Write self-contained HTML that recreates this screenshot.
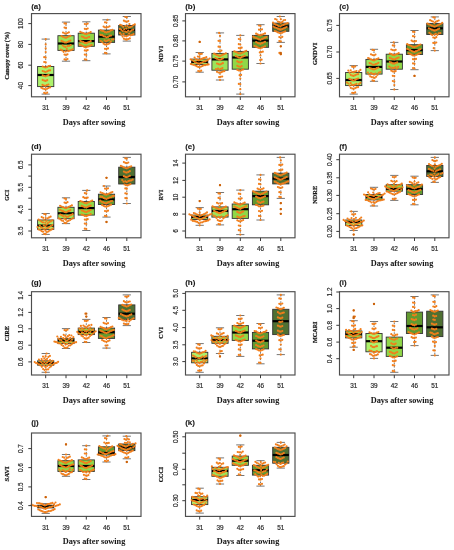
<!DOCTYPE html><html><head><meta charset="utf-8"><style>html,body{margin:0;padding:0;background:#fff;width:454px;height:550px;overflow:hidden}svg{display:block}</style></head><body><div id="w">
<svg width="454" height="550" viewBox="0 0 454 550" style="will-change:transform">
<g><text transform="translate(31.2 8.6) scale(0.1)" text-anchor="start" font-family="Liberation Sans" font-weight="bold" font-size="80" fill="#1a1a1a" stroke="#1a1a1a" stroke-width="1.2">(a)</text><path d="M45.7 66.5V39.1M45.7 86.6V94.1" stroke="#555" stroke-width="0.8" stroke-dasharray="1.6 1.6" fill="none"/><path d="M41.6 39.1H49.8M41.6 94.1H49.8" stroke="#666" stroke-width="0.9" fill="none"/><rect x="37.6" y="66.5" width="16.2" height="20.1" fill="#adf26c" stroke="#333" stroke-width="0.9"/><path d="M37.6 75H53.8" stroke="#000" stroke-width="2.2"/><path d="M66 35.7V22.1M66 50.4V61.2" stroke="#555" stroke-width="0.8" stroke-dasharray="1.6 1.6" fill="none"/><path d="M61.9 22.1H70.1M61.9 61.2H70.1" stroke="#666" stroke-width="0.9" fill="none"/><rect x="57.9" y="35.7" width="16.2" height="14.7" fill="#9ce45a" stroke="#333" stroke-width="0.9"/><path d="M57.9 43.5H74.1" stroke="#000" stroke-width="2.2"/><path d="M86.3 33.2V21.8M86.3 46.3V60.7" stroke="#555" stroke-width="0.8" stroke-dasharray="1.6 1.6" fill="none"/><path d="M82.2 21.8H90.4M82.2 60.7H90.4" stroke="#666" stroke-width="0.9" fill="none"/><rect x="78.2" y="33.2" width="16.2" height="13.1" fill="#90d848" stroke="#333" stroke-width="0.9"/><path d="M78.2 41.1H94.4" stroke="#000" stroke-width="2.2"/><path d="M106.5 30.1V19.8M106.5 42.4V53.9" stroke="#555" stroke-width="0.8" stroke-dasharray="1.6 1.6" fill="none"/><path d="M102.4 19.8H110.6M102.4 53.9H110.6" stroke="#666" stroke-width="0.9" fill="none"/><rect x="98.4" y="30.1" width="16.2" height="12.3" fill="#629a30" stroke="#333" stroke-width="0.9"/><path d="M98.4 36.7H114.6" stroke="#000" stroke-width="2.2"/><path d="M126.8 25.5V16.5M126.8 35V41.1" stroke="#555" stroke-width="0.8" stroke-dasharray="1.6 1.6" fill="none"/><path d="M122.7 16.5H130.9M122.7 41.1H130.9" stroke="#666" stroke-width="0.9" fill="none"/><rect x="118.7" y="25.5" width="16.2" height="9.5" fill="#4f7032" stroke="#333" stroke-width="0.9"/><path d="M118.7 30H134.9" stroke="#000" stroke-width="2.2"/><g fill="#f27e1a"><circle cx="45.7" cy="93.3" r="1.08"/><circle cx="44.2" cy="92.9" r="1.08"/><circle cx="47.2" cy="92.6" r="1.08"/><circle cx="45.7" cy="89.4" r="1.08"/><circle cx="44.2" cy="89" r="1.08"/><circle cx="47.2" cy="88.7" r="1.08"/><circle cx="42.7" cy="88.4" r="1.08"/><circle cx="48.6" cy="88" r="1.08"/><circle cx="41.3" cy="87.7" r="1.08"/><circle cx="50.1" cy="87.3" r="1.08"/><circle cx="45.4" cy="85.8" r="1.08"/><circle cx="43.9" cy="85.5" r="1.08"/><circle cx="46.9" cy="85.2" r="1.08"/><circle cx="42.5" cy="84.8" r="1.08"/><circle cx="48.4" cy="84.5" r="1.08"/><circle cx="45.7" cy="80.9" r="1.08"/><circle cx="44.2" cy="80.6" r="1.08"/><circle cx="47.2" cy="80.2" r="1.08"/><circle cx="42.7" cy="79.9" r="1.08"/><circle cx="45.7" cy="76.3" r="1.08"/><circle cx="44.2" cy="76" r="1.08"/><circle cx="47.2" cy="75.6" r="1.08"/><circle cx="42.7" cy="75.3" r="1.08"/><circle cx="48.6" cy="74.9" r="1.08"/><circle cx="45.7" cy="72" r="1.08"/><circle cx="44.2" cy="71.6" r="1.08"/><circle cx="47.2" cy="71.3" r="1.08"/><circle cx="42.7" cy="71" r="1.08"/><circle cx="48.6" cy="70.6" r="1.08"/><circle cx="50.1" cy="70.3" r="1.08"/><circle cx="45.7" cy="67.5" r="1.08"/><circle cx="44.2" cy="67.1" r="1.08"/><circle cx="47.2" cy="66.8" r="1.08"/><circle cx="42.7" cy="66.5" r="1.08"/><circle cx="48.6" cy="66.1" r="1.08"/><circle cx="50.1" cy="65.8" r="1.08"/><circle cx="45.7" cy="62.4" r="1.08"/><circle cx="44.2" cy="62" r="1.08"/><circle cx="45.7" cy="57.6" r="1.08"/><circle cx="44.2" cy="57.2" r="1.08"/><circle cx="45.7" cy="52.1" r="1.08"/><circle cx="45.7" cy="48.4" r="1.08"/><circle cx="45.7" cy="44.4" r="1.08"/><circle cx="45.7" cy="39.1" r="1.08"/><circle cx="66" cy="59.7" r="1.08"/><circle cx="64.5" cy="59.4" r="1.08"/><circle cx="67.5" cy="59" r="1.08"/><circle cx="66" cy="55" r="1.08"/><circle cx="64.5" cy="54.6" r="1.08"/><circle cx="67.5" cy="54.3" r="1.08"/><circle cx="63.6" cy="51.8" r="1.08"/><circle cx="65.7" cy="51.4" r="1.08"/><circle cx="68.1" cy="51.1" r="1.08"/><circle cx="69.6" cy="50.7" r="1.08"/><circle cx="62.2" cy="50.4" r="1.08"/><circle cx="71.1" cy="50.1" r="1.08"/><circle cx="60.7" cy="49.7" r="1.08"/><circle cx="72.6" cy="49.4" r="1.08"/><circle cx="66.8" cy="49" r="1.08"/><circle cx="65.6" cy="46.9" r="1.08"/><circle cx="64.1" cy="46.5" r="1.08"/><circle cx="67.7" cy="46.2" r="1.08"/><circle cx="69.2" cy="45.8" r="1.08"/><circle cx="62.7" cy="45.5" r="1.08"/><circle cx="70.7" cy="45.2" r="1.08"/><circle cx="66" cy="42.6" r="1.08"/><circle cx="64.5" cy="42.3" r="1.08"/><circle cx="67.5" cy="42" r="1.08"/><circle cx="63" cy="41.6" r="1.08"/><circle cx="68.9" cy="41.3" r="1.08"/><circle cx="61.5" cy="40.9" r="1.08"/><circle cx="70.4" cy="40.6" r="1.08"/><circle cx="66" cy="37.8" r="1.08"/><circle cx="64.5" cy="37.5" r="1.08"/><circle cx="67.5" cy="37.1" r="1.08"/><circle cx="63" cy="36.8" r="1.08"/><circle cx="68.9" cy="36.4" r="1.08"/><circle cx="61.5" cy="36.1" r="1.08"/><circle cx="70.4" cy="35.8" r="1.08"/><circle cx="66" cy="33.6" r="1.08"/><circle cx="64.5" cy="33.3" r="1.08"/><circle cx="67.5" cy="33" r="1.08"/><circle cx="63" cy="32.6" r="1.08"/><circle cx="68.9" cy="32.3" r="1.08"/><circle cx="66" cy="27.9" r="1.08"/><circle cx="64.5" cy="27.6" r="1.08"/><circle cx="66" cy="23.7" r="1.08"/><circle cx="64.5" cy="23.4" r="1.08"/><circle cx="86.3" cy="59.7" r="1.08"/><circle cx="84.8" cy="59.3" r="1.08"/><circle cx="86.3" cy="55" r="1.08"/><circle cx="84.8" cy="54.6" r="1.08"/><circle cx="86.3" cy="50.8" r="1.08"/><circle cx="84.8" cy="50.4" r="1.08"/><circle cx="87.7" cy="50.1" r="1.08"/><circle cx="85.8" cy="47.4" r="1.08"/><circle cx="84.3" cy="47" r="1.08"/><circle cx="87.2" cy="46.7" r="1.08"/><circle cx="88.7" cy="46.4" r="1.08"/><circle cx="82.8" cy="46" r="1.08"/><circle cx="90.2" cy="45.7" r="1.08"/><circle cx="81.3" cy="45.3" r="1.08"/><circle cx="91.7" cy="45" r="1.08"/><circle cx="79.9" cy="44.7" r="1.08"/><circle cx="86.3" cy="43.2" r="1.08"/><circle cx="84.8" cy="42.9" r="1.08"/><circle cx="87.7" cy="42.6" r="1.08"/><circle cx="83.3" cy="42.2" r="1.08"/><circle cx="89.2" cy="41.9" r="1.08"/><circle cx="81.8" cy="41.5" r="1.08"/><circle cx="90.7" cy="41.2" r="1.08"/><circle cx="80.3" cy="40.9" r="1.08"/><circle cx="86.3" cy="38.2" r="1.08"/><circle cx="84.8" cy="37.9" r="1.08"/><circle cx="87.7" cy="37.5" r="1.08"/><circle cx="83.3" cy="37.2" r="1.08"/><circle cx="89.2" cy="36.9" r="1.08"/><circle cx="81.8" cy="36.5" r="1.08"/><circle cx="86.3" cy="34.2" r="1.08"/><circle cx="84.8" cy="33.8" r="1.08"/><circle cx="87.7" cy="33.5" r="1.08"/><circle cx="83.3" cy="33.1" r="1.08"/><circle cx="89.2" cy="32.8" r="1.08"/><circle cx="81.8" cy="32.5" r="1.08"/><circle cx="90.7" cy="32.1" r="1.08"/><circle cx="80.3" cy="31.8" r="1.08"/><circle cx="86.3" cy="29.2" r="1.08"/><circle cx="84.8" cy="28.8" r="1.08"/><circle cx="87.7" cy="28.5" r="1.08"/><circle cx="86.3" cy="24.3" r="1.08"/><circle cx="84.8" cy="24" r="1.08"/><circle cx="87.7" cy="23.6" r="1.08"/><circle cx="106.5" cy="53.3" r="1.08"/><circle cx="105" cy="52.9" r="1.08"/><circle cx="106.5" cy="49.1" r="1.08"/><circle cx="105" cy="48.8" r="1.08"/><circle cx="108" cy="48.4" r="1.08"/><circle cx="106.5" cy="44.7" r="1.08"/><circle cx="105" cy="44.4" r="1.08"/><circle cx="108" cy="44" r="1.08"/><circle cx="103.6" cy="43.7" r="1.08"/><circle cx="109.5" cy="43.4" r="1.08"/><circle cx="102.2" cy="42" r="1.08"/><circle cx="110.8" cy="41.7" r="1.08"/><circle cx="106" cy="41.3" r="1.08"/><circle cx="100.8" cy="41" r="1.08"/><circle cx="107.5" cy="40.6" r="1.08"/><circle cx="104.6" cy="40.3" r="1.08"/><circle cx="109" cy="40" r="1.08"/><circle cx="112" cy="39.6" r="1.08"/><circle cx="113.5" cy="39.3" r="1.08"/><circle cx="106.5" cy="37.3" r="1.08"/><circle cx="108" cy="36.9" r="1.08"/><circle cx="105.1" cy="36.6" r="1.08"/><circle cx="103.6" cy="36.2" r="1.08"/><circle cx="109.5" cy="35.9" r="1.08"/><circle cx="111" cy="35.6" r="1.08"/><circle cx="102.1" cy="35.2" r="1.08"/><circle cx="100.6" cy="34.9" r="1.08"/><circle cx="106.5" cy="32.5" r="1.08"/><circle cx="105" cy="32.1" r="1.08"/><circle cx="108" cy="31.8" r="1.08"/><circle cx="109.5" cy="31.5" r="1.08"/><circle cx="103.6" cy="31.1" r="1.08"/><circle cx="102.1" cy="30.8" r="1.08"/><circle cx="110.9" cy="30.4" r="1.08"/><circle cx="100.6" cy="30.1" r="1.08"/><circle cx="112.4" cy="29.8" r="1.08"/><circle cx="106.5" cy="27.6" r="1.08"/><circle cx="105" cy="27.3" r="1.08"/><circle cx="108" cy="27" r="1.08"/><circle cx="103.6" cy="26.6" r="1.08"/><circle cx="109.5" cy="26.3" r="1.08"/><circle cx="106.5" cy="22.6" r="1.08"/><circle cx="105" cy="22.3" r="1.08"/><circle cx="107.5" cy="19.8" r="1.08"/><circle cx="126.8" cy="39.7" r="1.08"/><circle cx="125.3" cy="39.4" r="1.08"/><circle cx="128.3" cy="39" r="1.08"/><circle cx="123.9" cy="38.7" r="1.08"/><circle cx="129.8" cy="38.4" r="1.08"/><circle cx="122.6" cy="36.6" r="1.08"/><circle cx="126.4" cy="36.3" r="1.08"/><circle cx="124.9" cy="35.9" r="1.08"/><circle cx="127.9" cy="35.6" r="1.08"/><circle cx="130.5" cy="35.3" r="1.08"/><circle cx="132" cy="34.9" r="1.08"/><circle cx="121.4" cy="34.6" r="1.08"/><circle cx="133.5" cy="34.2" r="1.08"/><circle cx="123.6" cy="33.9" r="1.08"/><circle cx="129.1" cy="33.6" r="1.08"/><circle cx="120" cy="33.2" r="1.08"/><circle cx="126.8" cy="32" r="1.08"/><circle cx="125.3" cy="31.6" r="1.08"/><circle cx="130.3" cy="31.3" r="1.08"/><circle cx="122.8" cy="31" r="1.08"/><circle cx="128.2" cy="30.6" r="1.08"/><circle cx="131.7" cy="30.3" r="1.08"/><circle cx="121.3" cy="29.9" r="1.08"/><circle cx="133.2" cy="29.6" r="1.08"/><circle cx="124.2" cy="29.3" r="1.08"/><circle cx="119.9" cy="28.9" r="1.08"/><circle cx="126.3" cy="28.6" r="1.08"/><circle cx="128.9" cy="27.5" r="1.08"/><circle cx="130.4" cy="27.1" r="1.08"/><circle cx="123.1" cy="26.8" r="1.08"/><circle cx="131.9" cy="26.5" r="1.08"/><circle cx="127.4" cy="26.1" r="1.08"/><circle cx="125.4" cy="25.8" r="1.08"/><circle cx="121.7" cy="25.4" r="1.08"/><circle cx="133.3" cy="25.1" r="1.08"/><circle cx="120.2" cy="24.8" r="1.08"/><circle cx="134.8" cy="24.4" r="1.08"/><circle cx="129.4" cy="24.1" r="1.08"/><circle cx="126.8" cy="21.8" r="1.08"/><circle cx="125.3" cy="21.4" r="1.08"/><circle cx="128.3" cy="21.1" r="1.08"/><circle cx="123.9" cy="20.7" r="1.08"/><circle cx="126.8" cy="17.3" r="1.08"/><circle cx="125.3" cy="17" r="1.08"/></g><g fill="#c8620c"></g><rect x="31.5" y="13.6" width="109.5" height="83.2" fill="none" stroke="#4d4d4d" stroke-width="1.15"/><path d="M45.7 96.8v3.2M66 96.8v3.2M86.3 96.8v3.2M106.5 96.8v3.2M126.8 96.8v3.2M31.5 85.6h-3.2M31.5 65.2h-3.2M31.5 44.4h-3.2M31.5 23.6h-3.2" stroke="#3a3a3a" stroke-width="1" fill="none"/><text transform="translate(45.7 110.1) scale(0.1)" text-anchor="middle" font-family="Liberation Sans" font-weight="normal" font-size="64" fill="#2a2a2a" stroke="#2a2a2a" stroke-width="1.8">31</text><text transform="translate(66 110.1) scale(0.1)" text-anchor="middle" font-family="Liberation Sans" font-weight="normal" font-size="64" fill="#2a2a2a" stroke="#2a2a2a" stroke-width="1.8">39</text><text transform="translate(86.3 110.1) scale(0.1)" text-anchor="middle" font-family="Liberation Sans" font-weight="normal" font-size="64" fill="#2a2a2a" stroke="#2a2a2a" stroke-width="1.8">42</text><text transform="translate(106.5 110.1) scale(0.1)" text-anchor="middle" font-family="Liberation Sans" font-weight="normal" font-size="64" fill="#2a2a2a" stroke="#2a2a2a" stroke-width="1.8">46</text><text transform="translate(126.8 110.1) scale(0.1)" text-anchor="middle" font-family="Liberation Sans" font-weight="normal" font-size="64" fill="#2a2a2a" stroke="#2a2a2a" stroke-width="1.8">51</text><text transform="translate(23.2 85.6) rotate(-90) scale(0.1)" text-anchor="middle" font-family="Liberation Sans" font-weight="normal" font-size="64" fill="#2a2a2a" stroke="#2a2a2a" stroke-width="1.8">40</text><text transform="translate(23.2 65.2) rotate(-90) scale(0.1)" text-anchor="middle" font-family="Liberation Sans" font-weight="normal" font-size="64" fill="#2a2a2a" stroke="#2a2a2a" stroke-width="1.8">60</text><text transform="translate(23.2 44.4) rotate(-90) scale(0.1)" text-anchor="middle" font-family="Liberation Sans" font-weight="normal" font-size="64" fill="#2a2a2a" stroke="#2a2a2a" stroke-width="1.8">80</text><text transform="translate(23.2 23.6) rotate(-90) scale(0.1)" text-anchor="middle" font-family="Liberation Sans" font-weight="normal" font-size="64" fill="#2a2a2a" stroke="#2a2a2a" stroke-width="1.8">100</text><text transform="translate(94 124.8) scale(0.1)" text-anchor="middle" font-family="Liberation Serif" font-weight="bold" font-size="82.5" fill="#1a1a1a" stroke="#1a1a1a" stroke-width="0.4">Days after sowing</text><text transform="translate(8.9 55.8) rotate(-90) scale(0.1)" text-anchor="middle" font-family="Liberation Serif" font-weight="bold" font-size="61" fill="#1a1a1a" stroke="#1a1a1a" stroke-width="2.2">Canopy cover (%)</text></g>
<g><text transform="translate(185.2 8.6) scale(0.1)" text-anchor="start" font-family="Liberation Sans" font-weight="bold" font-size="80" fill="#1a1a1a" stroke="#1a1a1a" stroke-width="1.2">(b)</text><path d="M199.7 59.1V52.5M199.7 64.5V72.2" stroke="#555" stroke-width="0.8" stroke-dasharray="1.6 1.6" fill="none"/><path d="M195.6 52.5H203.8M195.6 72.2H203.8" stroke="#666" stroke-width="0.9" fill="none"/><rect x="191.6" y="59.1" width="16.2" height="5.4" fill="#adf26c" stroke="#333" stroke-width="0.9"/><path d="M191.6 62H207.8" stroke="#000" stroke-width="2.2"/><path d="M220 53.4V32.9M220 70.2V80" stroke="#555" stroke-width="0.8" stroke-dasharray="1.6 1.6" fill="none"/><path d="M215.9 32.9H224.1M215.9 80H224.1" stroke="#666" stroke-width="0.9" fill="none"/><rect x="211.9" y="53.4" width="16.2" height="16.8" fill="#9ce45a" stroke="#333" stroke-width="0.9"/><path d="M211.9 59.4H228.1" stroke="#000" stroke-width="2.2"/><path d="M240.3 51.4V35.4M240.3 69.2V94.1" stroke="#555" stroke-width="0.8" stroke-dasharray="1.6 1.6" fill="none"/><path d="M236.2 35.4H244.4M236.2 94.1H244.4" stroke="#666" stroke-width="0.9" fill="none"/><rect x="232.2" y="51.4" width="16.2" height="17.8" fill="#90d848" stroke="#333" stroke-width="0.9"/><path d="M232.2 57.5H248.4" stroke="#000" stroke-width="2.2"/><path d="M260.5 35.4V24.7M260.5 47.3V63.5" stroke="#555" stroke-width="0.8" stroke-dasharray="1.6 1.6" fill="none"/><path d="M256.4 24.7H264.6M256.4 63.5H264.6" stroke="#666" stroke-width="0.9" fill="none"/><rect x="252.4" y="35.4" width="16.2" height="11.9" fill="#629a30" stroke="#333" stroke-width="0.9"/><path d="M252.4 40.6H268.6" stroke="#000" stroke-width="2.2"/><path d="M280.8 23.1V16.5M280.8 31.3V42.4" stroke="#555" stroke-width="0.8" stroke-dasharray="1.6 1.6" fill="none"/><path d="M276.7 16.5H284.9M276.7 42.4H284.9" stroke="#666" stroke-width="0.9" fill="none"/><rect x="272.7" y="23.1" width="16.2" height="8.2" fill="#4f7032" stroke="#333" stroke-width="0.9"/><path d="M272.7 26.4H288.9" stroke="#000" stroke-width="2.2"/><g fill="#f27e1a"><circle cx="199.7" cy="71.4" r="1.08"/><circle cx="198.2" cy="71" r="1.08"/><circle cx="201.2" cy="70.7" r="1.08"/><circle cx="199.7" cy="67.2" r="1.08"/><circle cx="198.2" cy="66.9" r="1.08"/><circle cx="201.2" cy="66.5" r="1.08"/><circle cx="196.7" cy="66.2" r="1.08"/><circle cx="202.6" cy="65.9" r="1.08"/><circle cx="195.3" cy="65.5" r="1.08"/><circle cx="204.1" cy="65.2" r="1.08"/><circle cx="193.8" cy="64.8" r="1.08"/><circle cx="192.3" cy="64.5" r="1.08"/><circle cx="205.6" cy="65.1" r="1.08"/><circle cx="207.1" cy="64.7" r="1.08"/><circle cx="208.6" cy="64.4" r="1.08"/><circle cx="190.8" cy="64" r="1.08"/><circle cx="199.4" cy="63.7" r="1.08"/><circle cx="197.9" cy="63.4" r="1.08"/><circle cx="200.8" cy="63" r="1.08"/><circle cx="196.4" cy="62.7" r="1.08"/><circle cx="202.3" cy="62.3" r="1.08"/><circle cx="194.9" cy="62" r="1.08"/><circle cx="203.8" cy="61.7" r="1.08"/><circle cx="205.3" cy="61.3" r="1.08"/><circle cx="193.5" cy="61" r="1.08"/><circle cx="206.8" cy="60.6" r="1.08"/><circle cx="198.9" cy="60.3" r="1.08"/><circle cx="192.1" cy="60" r="1.08"/><circle cx="200.4" cy="59.6" r="1.08"/><circle cx="190.6" cy="59.3" r="1.08"/><circle cx="197.4" cy="59.9" r="1.08"/><circle cx="208.2" cy="59.6" r="1.08"/><circle cx="195.9" cy="59.3" r="1.08"/><circle cx="201.8" cy="58.9" r="1.08"/><circle cx="209.6" cy="58.6" r="1.08"/><circle cx="203.3" cy="58.2" r="1.08"/><circle cx="204.8" cy="57.9" r="1.08"/><circle cx="194.6" cy="57.6" r="1.08"/><circle cx="206.3" cy="57.2" r="1.08"/><circle cx="199.4" cy="56.9" r="1.08"/><circle cx="197.9" cy="56.5" r="1.08"/><circle cx="200.3" cy="54.1" r="1.08"/><circle cx="201.8" cy="53.8" r="1.08"/><circle cx="198.9" cy="53.4" r="1.08"/><circle cx="199.7" cy="41.9" r="1.08"/><circle cx="220" cy="80" r="1.08"/><circle cx="219.1" cy="77.1" r="1.08"/><circle cx="220.7" cy="76.8" r="1.08"/><circle cx="222.2" cy="76.5" r="1.08"/><circle cx="220" cy="72.8" r="1.08"/><circle cx="218.5" cy="72.5" r="1.08"/><circle cx="221.5" cy="72.2" r="1.08"/><circle cx="217" cy="71.8" r="1.08"/><circle cx="222.9" cy="71.5" r="1.08"/><circle cx="224.4" cy="71.1" r="1.08"/><circle cx="219.4" cy="69.5" r="1.08"/><circle cx="216" cy="69.2" r="1.08"/><circle cx="220.9" cy="68.8" r="1.08"/><circle cx="218" cy="68.5" r="1.08"/><circle cx="222.4" cy="68.1" r="1.08"/><circle cx="220" cy="64.5" r="1.08"/><circle cx="218.5" cy="64.2" r="1.08"/><circle cx="221.5" cy="63.8" r="1.08"/><circle cx="217" cy="63.5" r="1.08"/><circle cx="222.9" cy="63.2" r="1.08"/><circle cx="220" cy="59.8" r="1.08"/><circle cx="218.5" cy="59.5" r="1.08"/><circle cx="221.5" cy="59.2" r="1.08"/><circle cx="217" cy="58.8" r="1.08"/><circle cx="222.9" cy="58.5" r="1.08"/><circle cx="215.5" cy="58.1" r="1.08"/><circle cx="220" cy="56.1" r="1.08"/><circle cx="218.5" cy="55.7" r="1.08"/><circle cx="221.5" cy="55.4" r="1.08"/><circle cx="217" cy="55" r="1.08"/><circle cx="222.9" cy="54.7" r="1.08"/><circle cx="215.5" cy="54.4" r="1.08"/><circle cx="224.4" cy="54" r="1.08"/><circle cx="214.1" cy="53.7" r="1.08"/><circle cx="225.9" cy="53.3" r="1.08"/><circle cx="220" cy="51.3" r="1.08"/><circle cx="218.5" cy="51" r="1.08"/><circle cx="221.5" cy="50.6" r="1.08"/><circle cx="220" cy="47" r="1.08"/><circle cx="218.5" cy="46.7" r="1.08"/><circle cx="220" cy="41.1" r="1.08"/><circle cx="218.5" cy="40.8" r="1.08"/><circle cx="220" cy="35.8" r="1.08"/><circle cx="219.1" cy="32.9" r="1.08"/><circle cx="240.3" cy="94.1" r="1.08"/><circle cx="240.3" cy="89.2" r="1.08"/><circle cx="240.3" cy="84.2" r="1.08"/><circle cx="238.8" cy="83.9" r="1.08"/><circle cx="240.3" cy="78.5" r="1.08"/><circle cx="239.6" cy="75.2" r="1.08"/><circle cx="241.1" cy="74.9" r="1.08"/><circle cx="240.3" cy="70.8" r="1.08"/><circle cx="238.8" cy="70.5" r="1.08"/><circle cx="241.7" cy="70.1" r="1.08"/><circle cx="237.3" cy="69.8" r="1.08"/><circle cx="243.2" cy="69.4" r="1.08"/><circle cx="240.3" cy="66.8" r="1.08"/><circle cx="238.8" cy="66.5" r="1.08"/><circle cx="241.7" cy="66.1" r="1.08"/><circle cx="237.3" cy="65.8" r="1.08"/><circle cx="240.3" cy="62.5" r="1.08"/><circle cx="238.8" cy="62.1" r="1.08"/><circle cx="241.7" cy="61.8" r="1.08"/><circle cx="237.3" cy="61.4" r="1.08"/><circle cx="240.3" cy="57.9" r="1.08"/><circle cx="238.8" cy="57.5" r="1.08"/><circle cx="241.7" cy="57.2" r="1.08"/><circle cx="237.3" cy="56.8" r="1.08"/><circle cx="243.2" cy="56.5" r="1.08"/><circle cx="235.8" cy="56.2" r="1.08"/><circle cx="244.7" cy="55.8" r="1.08"/><circle cx="240.3" cy="53.6" r="1.08"/><circle cx="238.8" cy="53.3" r="1.08"/><circle cx="241.7" cy="53" r="1.08"/><circle cx="237.3" cy="52.6" r="1.08"/><circle cx="243.2" cy="52.3" r="1.08"/><circle cx="235.8" cy="51.9" r="1.08"/><circle cx="244.7" cy="51.6" r="1.08"/><circle cx="234.3" cy="51.3" r="1.08"/><circle cx="246.2" cy="50.9" r="1.08"/><circle cx="240.3" cy="48.4" r="1.08"/><circle cx="238.8" cy="48" r="1.08"/><circle cx="241.7" cy="47.7" r="1.08"/><circle cx="240.3" cy="44.6" r="1.08"/><circle cx="238.8" cy="44.2" r="1.08"/><circle cx="240.3" cy="39.4" r="1.08"/><circle cx="238.8" cy="39" r="1.08"/><circle cx="240.3" cy="35.4" r="1.08"/><circle cx="260.5" cy="63.5" r="1.08"/><circle cx="260.1" cy="60.1" r="1.08"/><circle cx="261.6" cy="59.7" r="1.08"/><circle cx="260.5" cy="55.5" r="1.08"/><circle cx="259.8" cy="52.4" r="1.08"/><circle cx="261.3" cy="52.1" r="1.08"/><circle cx="262.8" cy="51.7" r="1.08"/><circle cx="260.5" cy="48.4" r="1.08"/><circle cx="259" cy="48" r="1.08"/><circle cx="262" cy="47.7" r="1.08"/><circle cx="257.6" cy="47.4" r="1.08"/><circle cx="263.5" cy="47" r="1.08"/><circle cx="256.1" cy="46.7" r="1.08"/><circle cx="265" cy="46.3" r="1.08"/><circle cx="254.6" cy="46" r="1.08"/><circle cx="260.5" cy="43.8" r="1.08"/><circle cx="259" cy="43.5" r="1.08"/><circle cx="262" cy="43.2" r="1.08"/><circle cx="257.6" cy="42.8" r="1.08"/><circle cx="263.5" cy="42.5" r="1.08"/><circle cx="256.1" cy="42.1" r="1.08"/><circle cx="265" cy="41.8" r="1.08"/><circle cx="260.5" cy="39.8" r="1.08"/><circle cx="259" cy="39.4" r="1.08"/><circle cx="262" cy="39.1" r="1.08"/><circle cx="257.6" cy="38.7" r="1.08"/><circle cx="263.5" cy="38.4" r="1.08"/><circle cx="256.1" cy="38.1" r="1.08"/><circle cx="265" cy="37.7" r="1.08"/><circle cx="254.6" cy="37.4" r="1.08"/><circle cx="266.4" cy="37" r="1.08"/><circle cx="253.2" cy="36.7" r="1.08"/><circle cx="260.5" cy="35.4" r="1.08"/><circle cx="259" cy="35.1" r="1.08"/><circle cx="262" cy="34.7" r="1.08"/><circle cx="257.6" cy="34.4" r="1.08"/><circle cx="263.5" cy="34" r="1.08"/><circle cx="256.1" cy="33.7" r="1.08"/><circle cx="265" cy="33.4" r="1.08"/><circle cx="260.5" cy="30" r="1.08"/><circle cx="259" cy="29.7" r="1.08"/><circle cx="262" cy="29.3" r="1.08"/><circle cx="260.5" cy="25.9" r="1.08"/><circle cx="259" cy="25.5" r="1.08"/><circle cx="280.8" cy="41.4" r="1.08"/><circle cx="279.3" cy="41.1" r="1.08"/><circle cx="280.8" cy="37.5" r="1.08"/><circle cx="279.3" cy="37.1" r="1.08"/><circle cx="282.3" cy="36.8" r="1.08"/><circle cx="280.8" cy="33.3" r="1.08"/><circle cx="279.3" cy="33" r="1.08"/><circle cx="282.3" cy="32.7" r="1.08"/><circle cx="277.9" cy="32.3" r="1.08"/><circle cx="283.8" cy="32" r="1.08"/><circle cx="276.4" cy="31.6" r="1.08"/><circle cx="285.2" cy="31.3" r="1.08"/><circle cx="274.9" cy="31" r="1.08"/><circle cx="280.8" cy="29.7" r="1.08"/><circle cx="279.3" cy="29.4" r="1.08"/><circle cx="282.3" cy="29.1" r="1.08"/><circle cx="277.9" cy="28.7" r="1.08"/><circle cx="283.8" cy="28.4" r="1.08"/><circle cx="276.4" cy="28" r="1.08"/><circle cx="285.2" cy="27.7" r="1.08"/><circle cx="274.9" cy="27.4" r="1.08"/><circle cx="286.7" cy="27" r="1.08"/><circle cx="273.4" cy="26.7" r="1.08"/><circle cx="280.3" cy="26.3" r="1.08"/><circle cx="278.8" cy="26" r="1.08"/><circle cx="281.8" cy="25.6" r="1.08"/><circle cx="277.4" cy="25.3" r="1.08"/><circle cx="283.3" cy="24.9" r="1.08"/><circle cx="275.9" cy="24.6" r="1.08"/><circle cx="284.7" cy="24.3" r="1.08"/><circle cx="274.4" cy="23.9" r="1.08"/><circle cx="286.2" cy="23.6" r="1.08"/><circle cx="287.7" cy="23.2" r="1.08"/><circle cx="280.8" cy="22.9" r="1.08"/><circle cx="273" cy="22.6" r="1.08"/><circle cx="279.3" cy="22.2" r="1.08"/><circle cx="282.3" cy="21.9" r="1.08"/><circle cx="277.9" cy="21.5" r="1.08"/><circle cx="283.6" cy="20.3" r="1.08"/><circle cx="285.1" cy="20" r="1.08"/><circle cx="276.6" cy="19.6" r="1.08"/><circle cx="280.8" cy="19.3" r="1.08"/><circle cx="275.1" cy="19" r="1.08"/><circle cx="279.9" cy="16.5" r="1.08"/><circle cx="280.8" cy="46.3" r="1.08"/><circle cx="279.4" cy="52.9" r="1.08"/><circle cx="280.8" cy="54.2" r="1.08"/></g><g fill="#c8620c"><circle cx="199.7" cy="41.9" r="1.15"/><circle cx="280.8" cy="46.3" r="1.15"/><circle cx="280.8" cy="52.9" r="1.15"/><circle cx="280.8" cy="54.2" r="1.15"/></g><rect x="185.5" y="13.6" width="109.5" height="83.2" fill="none" stroke="#4d4d4d" stroke-width="1.15"/><path d="M199.7 96.8v3.2M220 96.8v3.2M240.3 96.8v3.2M260.5 96.8v3.2M280.8 96.8v3.2M185.5 81.9h-3.2M185.5 61.1h-3.2M185.5 40.9h-3.2M185.5 20.9h-3.2" stroke="#3a3a3a" stroke-width="1" fill="none"/><text transform="translate(199.7 110.1) scale(0.1)" text-anchor="middle" font-family="Liberation Sans" font-weight="normal" font-size="64" fill="#2a2a2a" stroke="#2a2a2a" stroke-width="1.8">31</text><text transform="translate(220 110.1) scale(0.1)" text-anchor="middle" font-family="Liberation Sans" font-weight="normal" font-size="64" fill="#2a2a2a" stroke="#2a2a2a" stroke-width="1.8">39</text><text transform="translate(240.3 110.1) scale(0.1)" text-anchor="middle" font-family="Liberation Sans" font-weight="normal" font-size="64" fill="#2a2a2a" stroke="#2a2a2a" stroke-width="1.8">42</text><text transform="translate(260.5 110.1) scale(0.1)" text-anchor="middle" font-family="Liberation Sans" font-weight="normal" font-size="64" fill="#2a2a2a" stroke="#2a2a2a" stroke-width="1.8">46</text><text transform="translate(280.8 110.1) scale(0.1)" text-anchor="middle" font-family="Liberation Sans" font-weight="normal" font-size="64" fill="#2a2a2a" stroke="#2a2a2a" stroke-width="1.8">51</text><text transform="translate(178 81.9) rotate(-90) scale(0.1)" text-anchor="middle" font-family="Liberation Sans" font-weight="normal" font-size="64" fill="#2a2a2a" stroke="#2a2a2a" stroke-width="1.8">0.70</text><text transform="translate(178 61.1) rotate(-90) scale(0.1)" text-anchor="middle" font-family="Liberation Sans" font-weight="normal" font-size="64" fill="#2a2a2a" stroke="#2a2a2a" stroke-width="1.8">0.75</text><text transform="translate(178 40.9) rotate(-90) scale(0.1)" text-anchor="middle" font-family="Liberation Sans" font-weight="normal" font-size="64" fill="#2a2a2a" stroke="#2a2a2a" stroke-width="1.8">0.80</text><text transform="translate(178 20.9) rotate(-90) scale(0.1)" text-anchor="middle" font-family="Liberation Sans" font-weight="normal" font-size="64" fill="#2a2a2a" stroke="#2a2a2a" stroke-width="1.8">0.85</text><text transform="translate(248 124.8) scale(0.1)" text-anchor="middle" font-family="Liberation Serif" font-weight="bold" font-size="82.5" fill="#1a1a1a" stroke="#1a1a1a" stroke-width="0.4">Days after sowing</text><text transform="translate(162.8 53.9) rotate(-90) scale(0.0915 0.1)" text-anchor="middle" font-family="Liberation Serif" font-weight="bold" font-size="69" fill="#1a1a1a" stroke="#1a1a1a" stroke-width="2.2">NDVI</text></g>
<g><text transform="translate(339.2 8.6) scale(0.1)" text-anchor="start" font-family="Liberation Sans" font-weight="bold" font-size="80" fill="#1a1a1a" stroke="#1a1a1a" stroke-width="1.2">(c)</text><path d="M353.7 72.5V65.6M353.7 85.6V94.1" stroke="#555" stroke-width="0.8" stroke-dasharray="1.6 1.6" fill="none"/><path d="M349.6 65.6H357.8M349.6 94.1H357.8" stroke="#666" stroke-width="0.9" fill="none"/><rect x="345.6" y="72.5" width="16.2" height="13.1" fill="#adf26c" stroke="#333" stroke-width="0.9"/><path d="M345.6 80H361.8" stroke="#000" stroke-width="2.2"/><path d="M374 59.4V49.3M374 74.1V81.3" stroke="#555" stroke-width="0.8" stroke-dasharray="1.6 1.6" fill="none"/><path d="M369.9 49.3H378.1M369.9 81.3H378.1" stroke="#666" stroke-width="0.9" fill="none"/><rect x="365.9" y="59.4" width="16.2" height="14.7" fill="#9ce45a" stroke="#333" stroke-width="0.9"/><path d="M365.9 66.9H382.1" stroke="#000" stroke-width="2.2"/><path d="M394.3 54.2V42.4M394.3 69.2V89.5" stroke="#555" stroke-width="0.8" stroke-dasharray="1.6 1.6" fill="none"/><path d="M390.2 42.4H398.4M390.2 89.5H398.4" stroke="#666" stroke-width="0.9" fill="none"/><rect x="386.2" y="54.2" width="16.2" height="15" fill="#90d848" stroke="#333" stroke-width="0.9"/><path d="M386.2 61.5H402.4" stroke="#000" stroke-width="2.2"/><path d="M414.5 44.7V30.5M414.5 54.5V69.7" stroke="#555" stroke-width="0.8" stroke-dasharray="1.6 1.6" fill="none"/><path d="M410.4 30.5H418.6M410.4 69.7H418.6" stroke="#666" stroke-width="0.9" fill="none"/><rect x="406.4" y="44.7" width="16.2" height="9.8" fill="#629a30" stroke="#333" stroke-width="0.9"/><path d="M406.4 50.1H422.6" stroke="#000" stroke-width="2.2"/><path d="M434.8 23.4V16.9M434.8 34.5V50.6" stroke="#555" stroke-width="0.8" stroke-dasharray="1.6 1.6" fill="none"/><path d="M430.7 16.9H438.9M430.7 50.6H438.9" stroke="#666" stroke-width="0.9" fill="none"/><rect x="426.7" y="23.4" width="16.2" height="11.1" fill="#4f7032" stroke="#333" stroke-width="0.9"/><path d="M426.7 28.3H442.9" stroke="#000" stroke-width="2.2"/><g fill="#f27e1a"><circle cx="353.7" cy="93.1" r="1.08"/><circle cx="352.2" cy="92.8" r="1.08"/><circle cx="355.2" cy="92.4" r="1.08"/><circle cx="353.7" cy="88.8" r="1.08"/><circle cx="352.2" cy="88.5" r="1.08"/><circle cx="355.2" cy="88.1" r="1.08"/><circle cx="350.7" cy="87.8" r="1.08"/><circle cx="356.6" cy="87.4" r="1.08"/><circle cx="358.1" cy="87.1" r="1.08"/><circle cx="349.6" cy="85.6" r="1.08"/><circle cx="353.5" cy="85.2" r="1.08"/><circle cx="352" cy="84.9" r="1.08"/><circle cx="355" cy="84.5" r="1.08"/><circle cx="359" cy="84.2" r="1.08"/><circle cx="356.5" cy="83.9" r="1.08"/><circle cx="348.3" cy="83.5" r="1.08"/><circle cx="350.7" cy="83.2" r="1.08"/><circle cx="360.4" cy="82.8" r="1.08"/><circle cx="346.9" cy="82.5" r="1.08"/><circle cx="353.7" cy="80.5" r="1.08"/><circle cx="352.2" cy="80.2" r="1.08"/><circle cx="355.2" cy="79.9" r="1.08"/><circle cx="350.7" cy="79.5" r="1.08"/><circle cx="356.6" cy="79.2" r="1.08"/><circle cx="349.3" cy="78.8" r="1.08"/><circle cx="358.1" cy="78.5" r="1.08"/><circle cx="353.7" cy="75.9" r="1.08"/><circle cx="352.2" cy="75.6" r="1.08"/><circle cx="355.2" cy="75.2" r="1.08"/><circle cx="350.7" cy="74.9" r="1.08"/><circle cx="356.6" cy="74.5" r="1.08"/><circle cx="358.1" cy="74.2" r="1.08"/><circle cx="349.6" cy="72.7" r="1.08"/><circle cx="353.6" cy="72.3" r="1.08"/><circle cx="352.1" cy="72" r="1.08"/><circle cx="355" cy="71.6" r="1.08"/><circle cx="359" cy="71.3" r="1.08"/><circle cx="356.5" cy="71" r="1.08"/><circle cx="348.3" cy="70.6" r="1.08"/><circle cx="350.7" cy="70.3" r="1.08"/><circle cx="360.4" cy="69.9" r="1.08"/><circle cx="353.7" cy="67.1" r="1.08"/><circle cx="352.2" cy="66.7" r="1.08"/><circle cx="355.2" cy="66.4" r="1.08"/><circle cx="374" cy="80.8" r="1.08"/><circle cx="372.5" cy="80.4" r="1.08"/><circle cx="374.8" cy="77.8" r="1.08"/><circle cx="373.3" cy="77.4" r="1.08"/><circle cx="371.8" cy="77.1" r="1.08"/><circle cx="376.2" cy="76.7" r="1.08"/><circle cx="370.3" cy="76.4" r="1.08"/><circle cx="377.5" cy="74.8" r="1.08"/><circle cx="369.1" cy="74.5" r="1.08"/><circle cx="374" cy="74.2" r="1.08"/><circle cx="372.5" cy="73.8" r="1.08"/><circle cx="375.5" cy="73.5" r="1.08"/><circle cx="371" cy="73.1" r="1.08"/><circle cx="378.7" cy="72.8" r="1.08"/><circle cx="367.8" cy="72.5" r="1.08"/><circle cx="380.2" cy="72.1" r="1.08"/><circle cx="374" cy="69.5" r="1.08"/><circle cx="372.5" cy="69.2" r="1.08"/><circle cx="375.5" cy="68.9" r="1.08"/><circle cx="371" cy="68.5" r="1.08"/><circle cx="376.9" cy="68.2" r="1.08"/><circle cx="369.5" cy="67.8" r="1.08"/><circle cx="378.4" cy="67.5" r="1.08"/><circle cx="374" cy="64.8" r="1.08"/><circle cx="372.5" cy="64.5" r="1.08"/><circle cx="375.5" cy="64.1" r="1.08"/><circle cx="376.9" cy="63.8" r="1.08"/><circle cx="371" cy="63.5" r="1.08"/><circle cx="369.6" cy="63.1" r="1.08"/><circle cx="378.4" cy="62.8" r="1.08"/><circle cx="374" cy="60.4" r="1.08"/><circle cx="372.5" cy="60.1" r="1.08"/><circle cx="375.5" cy="59.7" r="1.08"/><circle cx="371" cy="59.4" r="1.08"/><circle cx="376.9" cy="59.1" r="1.08"/><circle cx="369.5" cy="58.7" r="1.08"/><circle cx="378.4" cy="58.4" r="1.08"/><circle cx="368.1" cy="58" r="1.08"/><circle cx="374" cy="55.3" r="1.08"/><circle cx="372.5" cy="55" r="1.08"/><circle cx="375.5" cy="54.6" r="1.08"/><circle cx="371" cy="54.3" r="1.08"/><circle cx="374" cy="50.2" r="1.08"/><circle cx="372.5" cy="49.9" r="1.08"/><circle cx="394.3" cy="89.5" r="1.08"/><circle cx="394.3" cy="85.1" r="1.08"/><circle cx="394.3" cy="81.4" r="1.08"/><circle cx="392.8" cy="81" r="1.08"/><circle cx="394.3" cy="76.1" r="1.08"/><circle cx="392.8" cy="75.8" r="1.08"/><circle cx="394.3" cy="71.7" r="1.08"/><circle cx="392.8" cy="71.4" r="1.08"/><circle cx="395.7" cy="71.1" r="1.08"/><circle cx="391.3" cy="70.7" r="1.08"/><circle cx="396.8" cy="68.6" r="1.08"/><circle cx="394" cy="68.2" r="1.08"/><circle cx="392.5" cy="67.9" r="1.08"/><circle cx="390.6" cy="67.5" r="1.08"/><circle cx="395.4" cy="67.2" r="1.08"/><circle cx="398.1" cy="66.9" r="1.08"/><circle cx="389.2" cy="66.5" r="1.08"/><circle cx="394.3" cy="63.7" r="1.08"/><circle cx="392.8" cy="63.4" r="1.08"/><circle cx="395.7" cy="63" r="1.08"/><circle cx="391.3" cy="62.7" r="1.08"/><circle cx="397.2" cy="62.4" r="1.08"/><circle cx="389.8" cy="62" r="1.08"/><circle cx="394.3" cy="59.5" r="1.08"/><circle cx="392.8" cy="59.2" r="1.08"/><circle cx="395.7" cy="58.9" r="1.08"/><circle cx="391.3" cy="58.5" r="1.08"/><circle cx="397.2" cy="58.2" r="1.08"/><circle cx="389.8" cy="57.8" r="1.08"/><circle cx="398.7" cy="57.5" r="1.08"/><circle cx="394.3" cy="55.2" r="1.08"/><circle cx="392.8" cy="54.9" r="1.08"/><circle cx="395.7" cy="54.5" r="1.08"/><circle cx="391.3" cy="54.2" r="1.08"/><circle cx="397.2" cy="53.9" r="1.08"/><circle cx="389.8" cy="53.5" r="1.08"/><circle cx="398.7" cy="53.2" r="1.08"/><circle cx="394.3" cy="50.5" r="1.08"/><circle cx="392.8" cy="50.1" r="1.08"/><circle cx="395.7" cy="49.8" r="1.08"/><circle cx="391.3" cy="49.5" r="1.08"/><circle cx="394.3" cy="45.7" r="1.08"/><circle cx="392.8" cy="45.4" r="1.08"/><circle cx="393.7" cy="42.4" r="1.08"/><circle cx="414.5" cy="68.5" r="1.08"/><circle cx="413" cy="68.1" r="1.08"/><circle cx="414.5" cy="63.8" r="1.08"/><circle cx="413" cy="63.4" r="1.08"/><circle cx="414.5" cy="59.6" r="1.08"/><circle cx="413" cy="59.2" r="1.08"/><circle cx="416" cy="58.9" r="1.08"/><circle cx="414.5" cy="55.7" r="1.08"/><circle cx="413" cy="55.4" r="1.08"/><circle cx="416" cy="55" r="1.08"/><circle cx="411.6" cy="54.7" r="1.08"/><circle cx="417.5" cy="54.3" r="1.08"/><circle cx="410.1" cy="54" r="1.08"/><circle cx="419" cy="53.7" r="1.08"/><circle cx="408.6" cy="53.3" r="1.08"/><circle cx="420.4" cy="53" r="1.08"/><circle cx="414.5" cy="51.9" r="1.08"/><circle cx="413" cy="51.6" r="1.08"/><circle cx="416" cy="51.2" r="1.08"/><circle cx="411.6" cy="50.9" r="1.08"/><circle cx="417.5" cy="50.6" r="1.08"/><circle cx="410.1" cy="50.2" r="1.08"/><circle cx="419" cy="49.9" r="1.08"/><circle cx="408.6" cy="49.5" r="1.08"/><circle cx="420.4" cy="49.2" r="1.08"/><circle cx="407.2" cy="48.9" r="1.08"/><circle cx="414.5" cy="47.2" r="1.08"/><circle cx="413" cy="46.9" r="1.08"/><circle cx="416" cy="46.6" r="1.08"/><circle cx="411.6" cy="46.2" r="1.08"/><circle cx="417.5" cy="45.9" r="1.08"/><circle cx="410.1" cy="45.5" r="1.08"/><circle cx="419" cy="45.2" r="1.08"/><circle cx="408.6" cy="44.9" r="1.08"/><circle cx="420.4" cy="44.5" r="1.08"/><circle cx="407.2" cy="44.2" r="1.08"/><circle cx="414.5" cy="41.7" r="1.08"/><circle cx="413" cy="41.3" r="1.08"/><circle cx="416" cy="41" r="1.08"/><circle cx="411.6" cy="40.6" r="1.08"/><circle cx="414.5" cy="36.5" r="1.08"/><circle cx="413" cy="36.2" r="1.08"/><circle cx="414.5" cy="32.1" r="1.08"/><circle cx="413" cy="31.8" r="1.08"/><circle cx="414.5" cy="75.9" r="1.08"/><circle cx="434.8" cy="50.6" r="1.08"/><circle cx="433.7" cy="48.2" r="1.08"/><circle cx="434.8" cy="43.2" r="1.08"/><circle cx="433.3" cy="42.9" r="1.08"/><circle cx="436.3" cy="42.5" r="1.08"/><circle cx="434.8" cy="37.9" r="1.08"/><circle cx="433.3" cy="37.5" r="1.08"/><circle cx="436.3" cy="37.2" r="1.08"/><circle cx="432.2" cy="35.1" r="1.08"/><circle cx="437.4" cy="34.8" r="1.08"/><circle cx="434.3" cy="34.5" r="1.08"/><circle cx="430.8" cy="34.1" r="1.08"/><circle cx="435.8" cy="33.8" r="1.08"/><circle cx="438.8" cy="33.4" r="1.08"/><circle cx="440.3" cy="33.1" r="1.08"/><circle cx="429.4" cy="32.8" r="1.08"/><circle cx="434.8" cy="30.7" r="1.08"/><circle cx="433.3" cy="30.3" r="1.08"/><circle cx="436.3" cy="30" r="1.08"/><circle cx="431.9" cy="29.7" r="1.08"/><circle cx="437.8" cy="29.3" r="1.08"/><circle cx="430.4" cy="29" r="1.08"/><circle cx="439.2" cy="28.6" r="1.08"/><circle cx="428.9" cy="28.3" r="1.08"/><circle cx="434.8" cy="26.7" r="1.08"/><circle cx="433.3" cy="26.3" r="1.08"/><circle cx="436.3" cy="26" r="1.08"/><circle cx="431.9" cy="25.7" r="1.08"/><circle cx="437.8" cy="25.3" r="1.08"/><circle cx="430.4" cy="25" r="1.08"/><circle cx="439.2" cy="24.6" r="1.08"/><circle cx="428.9" cy="24.3" r="1.08"/><circle cx="440.7" cy="24" r="1.08"/><circle cx="427.4" cy="23.6" r="1.08"/><circle cx="434.3" cy="23.3" r="1.08"/><circle cx="442.2" cy="22.9" r="1.08"/><circle cx="435.7" cy="21.9" r="1.08"/><circle cx="433" cy="21.5" r="1.08"/><circle cx="437.2" cy="21.2" r="1.08"/><circle cx="431.5" cy="20.8" r="1.08"/><circle cx="438.7" cy="20.5" r="1.08"/><circle cx="430.1" cy="20.2" r="1.08"/><circle cx="434.8" cy="17.7" r="1.08"/><circle cx="433.3" cy="17.3" r="1.08"/></g><g fill="#c8620c"><circle cx="414.5" cy="75.9" r="1.15"/></g><rect x="339.5" y="13.6" width="109.5" height="83.2" fill="none" stroke="#4d4d4d" stroke-width="1.15"/><path d="M353.7 96.8v3.2M374 96.8v3.2M394.3 96.8v3.2M414.5 96.8v3.2M434.8 96.8v3.2M339.5 78.4h-3.2M339.5 52h-3.2M339.5 25.4h-3.2" stroke="#3a3a3a" stroke-width="1" fill="none"/><text transform="translate(353.7 110.1) scale(0.1)" text-anchor="middle" font-family="Liberation Sans" font-weight="normal" font-size="64" fill="#2a2a2a" stroke="#2a2a2a" stroke-width="1.8">31</text><text transform="translate(374 110.1) scale(0.1)" text-anchor="middle" font-family="Liberation Sans" font-weight="normal" font-size="64" fill="#2a2a2a" stroke="#2a2a2a" stroke-width="1.8">39</text><text transform="translate(394.3 110.1) scale(0.1)" text-anchor="middle" font-family="Liberation Sans" font-weight="normal" font-size="64" fill="#2a2a2a" stroke="#2a2a2a" stroke-width="1.8">42</text><text transform="translate(414.5 110.1) scale(0.1)" text-anchor="middle" font-family="Liberation Sans" font-weight="normal" font-size="64" fill="#2a2a2a" stroke="#2a2a2a" stroke-width="1.8">46</text><text transform="translate(434.8 110.1) scale(0.1)" text-anchor="middle" font-family="Liberation Sans" font-weight="normal" font-size="64" fill="#2a2a2a" stroke="#2a2a2a" stroke-width="1.8">51</text><text transform="translate(331.5 78.4) rotate(-90) scale(0.1)" text-anchor="middle" font-family="Liberation Sans" font-weight="normal" font-size="64" fill="#2a2a2a" stroke="#2a2a2a" stroke-width="1.8">0.65</text><text transform="translate(331.5 52) rotate(-90) scale(0.1)" text-anchor="middle" font-family="Liberation Sans" font-weight="normal" font-size="64" fill="#2a2a2a" stroke="#2a2a2a" stroke-width="1.8">0.70</text><text transform="translate(331.5 25.4) rotate(-90) scale(0.1)" text-anchor="middle" font-family="Liberation Sans" font-weight="normal" font-size="64" fill="#2a2a2a" stroke="#2a2a2a" stroke-width="1.8">0.75</text><text transform="translate(402 124.8) scale(0.1)" text-anchor="middle" font-family="Liberation Serif" font-weight="bold" font-size="82.5" fill="#1a1a1a" stroke="#1a1a1a" stroke-width="0.4">Days after sowing</text><text transform="translate(317.2 53.9) rotate(-90) scale(0.0984 0.1)" text-anchor="middle" font-family="Liberation Serif" font-weight="bold" font-size="69" fill="#1a1a1a" stroke="#1a1a1a" stroke-width="2.2">GNDVI</text></g>
<g><text transform="translate(31.2 149) scale(0.1)" text-anchor="start" font-family="Liberation Sans" font-weight="bold" font-size="80" fill="#1a1a1a" stroke="#1a1a1a" stroke-width="1.2">(d)</text><path d="M45.7 220V213.5M45.7 229.4V234.4" stroke="#555" stroke-width="0.8" stroke-dasharray="1.6 1.6" fill="none"/><path d="M41.6 213.5H49.8M41.6 234.4H49.8" stroke="#666" stroke-width="0.9" fill="none"/><rect x="37.6" y="220" width="16.2" height="9.4" fill="#adf26c" stroke="#333" stroke-width="0.9"/><path d="M37.6 225.6H53.8" stroke="#000" stroke-width="2.2"/><path d="M66 207.3V197.8M66 218.7V223.6" stroke="#555" stroke-width="0.8" stroke-dasharray="1.6 1.6" fill="none"/><path d="M61.9 197.8H70.1M61.9 223.6H70.1" stroke="#666" stroke-width="0.9" fill="none"/><rect x="57.9" y="207.3" width="16.2" height="11.4" fill="#9ce45a" stroke="#333" stroke-width="0.9"/><path d="M57.9 213.3H74.1" stroke="#000" stroke-width="2.2"/><path d="M86.3 201.5V190.4M86.3 215.1V230.5" stroke="#555" stroke-width="0.8" stroke-dasharray="1.6 1.6" fill="none"/><path d="M82.2 190.4H90.4M82.2 230.5H90.4" stroke="#666" stroke-width="0.9" fill="none"/><rect x="78.2" y="201.5" width="16.2" height="13.6" fill="#90d848" stroke="#333" stroke-width="0.9"/><path d="M78.2 208.1H94.4" stroke="#000" stroke-width="2.2"/><path d="M106.5 194.2V186M106.5 204.5V217.1" stroke="#555" stroke-width="0.8" stroke-dasharray="1.6 1.6" fill="none"/><path d="M102.4 186H110.6M102.4 217.1H110.6" stroke="#666" stroke-width="0.9" fill="none"/><rect x="98.4" y="194.2" width="16.2" height="10.3" fill="#629a30" stroke="#333" stroke-width="0.9"/><path d="M98.4 199.4H114.6" stroke="#000" stroke-width="2.2"/><path d="M126.8 167.2V157.4M126.8 184V203.5" stroke="#555" stroke-width="0.8" stroke-dasharray="1.6 1.6" fill="none"/><path d="M122.7 157.4H130.9M122.7 203.5H130.9" stroke="#666" stroke-width="0.9" fill="none"/><rect x="118.7" y="167.2" width="16.2" height="16.8" fill="#4f7032" stroke="#333" stroke-width="0.9"/><path d="M118.7 177H134.9" stroke="#000" stroke-width="2.2"/><g fill="#f27e1a"><circle cx="45.7" cy="234.2" r="1.08"/><circle cx="44.2" cy="233.9" r="1.08"/><circle cx="46.9" cy="232.1" r="1.08"/><circle cx="43" cy="231.7" r="1.08"/><circle cx="48.4" cy="231.4" r="1.08"/><circle cx="41.5" cy="231.1" r="1.08"/><circle cx="45.4" cy="230.7" r="1.08"/><circle cx="49.8" cy="230.4" r="1.08"/><circle cx="40.1" cy="230" r="1.08"/><circle cx="51.3" cy="229.7" r="1.08"/><circle cx="38.6" cy="229.4" r="1.08"/><circle cx="44.1" cy="229" r="1.08"/><circle cx="52.7" cy="228.7" r="1.08"/><circle cx="46.5" cy="228.3" r="1.08"/><circle cx="42.6" cy="228.1" r="1.08"/><circle cx="48" cy="227.8" r="1.08"/><circle cx="41.1" cy="227.4" r="1.08"/><circle cx="37.5" cy="227.1" r="1.08"/><circle cx="49.4" cy="226.8" r="1.08"/><circle cx="45.2" cy="226.4" r="1.08"/><circle cx="50.9" cy="226.1" r="1.08"/><circle cx="39.8" cy="225.7" r="1.08"/><circle cx="43.8" cy="225.4" r="1.08"/><circle cx="52.4" cy="225.1" r="1.08"/><circle cx="46.6" cy="224.7" r="1.08"/><circle cx="47.9" cy="223.1" r="1.08"/><circle cx="45.3" cy="222.7" r="1.08"/><circle cx="43" cy="222.4" r="1.08"/><circle cx="49.3" cy="222.1" r="1.08"/><circle cx="41.5" cy="221.7" r="1.08"/><circle cx="50.8" cy="221.4" r="1.08"/><circle cx="46.6" cy="221" r="1.08"/><circle cx="40.1" cy="220.7" r="1.08"/><circle cx="52.3" cy="220.4" r="1.08"/><circle cx="44.3" cy="220" r="1.08"/><circle cx="38.6" cy="219.7" r="1.08"/><circle cx="47.7" cy="218.4" r="1.08"/><circle cx="45.7" cy="218.1" r="1.08"/><circle cx="43.2" cy="217.8" r="1.08"/><circle cx="49.1" cy="217.4" r="1.08"/><circle cx="41.7" cy="217.1" r="1.08"/><circle cx="50.6" cy="216.7" r="1.08"/><circle cx="45.7" cy="214.3" r="1.08"/><circle cx="44.2" cy="214" r="1.08"/><circle cx="66" cy="223.2" r="1.08"/><circle cx="64.5" cy="222.9" r="1.08"/><circle cx="67.3" cy="221.4" r="1.08"/><circle cx="63.2" cy="221" r="1.08"/><circle cx="68.7" cy="220.7" r="1.08"/><circle cx="61.7" cy="220.4" r="1.08"/><circle cx="70.2" cy="220" r="1.08"/><circle cx="65.8" cy="219.7" r="1.08"/><circle cx="60.3" cy="219.3" r="1.08"/><circle cx="71.6" cy="219" r="1.08"/><circle cx="64.3" cy="218.7" r="1.08"/><circle cx="58.9" cy="218.3" r="1.08"/><circle cx="73.1" cy="218" r="1.08"/><circle cx="66.7" cy="216.9" r="1.08"/><circle cx="68.2" cy="216.6" r="1.08"/><circle cx="63.2" cy="216.2" r="1.08"/><circle cx="65.3" cy="215.9" r="1.08"/><circle cx="69.7" cy="215.6" r="1.08"/><circle cx="61.8" cy="215.2" r="1.08"/><circle cx="71.1" cy="214.9" r="1.08"/><circle cx="60.3" cy="214.5" r="1.08"/><circle cx="72.6" cy="214.2" r="1.08"/><circle cx="66" cy="212.3" r="1.08"/><circle cx="64.5" cy="211.9" r="1.08"/><circle cx="67.5" cy="211.6" r="1.08"/><circle cx="63" cy="211.2" r="1.08"/><circle cx="68.9" cy="210.9" r="1.08"/><circle cx="61.5" cy="210.6" r="1.08"/><circle cx="70.4" cy="210.2" r="1.08"/><circle cx="60.1" cy="209.9" r="1.08"/><circle cx="66" cy="208.2" r="1.08"/><circle cx="64.5" cy="207.8" r="1.08"/><circle cx="67.5" cy="207.5" r="1.08"/><circle cx="63" cy="207.1" r="1.08"/><circle cx="68.9" cy="206.8" r="1.08"/><circle cx="61.5" cy="206.5" r="1.08"/><circle cx="70.4" cy="206.1" r="1.08"/><circle cx="60.1" cy="205.8" r="1.08"/><circle cx="71.9" cy="205.4" r="1.08"/><circle cx="66" cy="202.9" r="1.08"/><circle cx="64.5" cy="202.6" r="1.08"/><circle cx="67.5" cy="202.2" r="1.08"/><circle cx="66" cy="198.9" r="1.08"/><circle cx="64.5" cy="198.5" r="1.08"/><circle cx="86.3" cy="229" r="1.08"/><circle cx="84.8" cy="228.7" r="1.08"/><circle cx="86.3" cy="224" r="1.08"/><circle cx="84.8" cy="223.6" r="1.08"/><circle cx="86.3" cy="219.9" r="1.08"/><circle cx="84.8" cy="219.6" r="1.08"/><circle cx="87.7" cy="219.2" r="1.08"/><circle cx="86.3" cy="216.2" r="1.08"/><circle cx="84.8" cy="215.9" r="1.08"/><circle cx="87.7" cy="215.6" r="1.08"/><circle cx="83.3" cy="215.2" r="1.08"/><circle cx="89.2" cy="214.9" r="1.08"/><circle cx="81.8" cy="214.5" r="1.08"/><circle cx="90.7" cy="214.2" r="1.08"/><circle cx="86.3" cy="212.1" r="1.08"/><circle cx="84.8" cy="211.7" r="1.08"/><circle cx="87.7" cy="211.4" r="1.08"/><circle cx="83.3" cy="211.1" r="1.08"/><circle cx="89.2" cy="210.7" r="1.08"/><circle cx="81.8" cy="210.4" r="1.08"/><circle cx="90.7" cy="210" r="1.08"/><circle cx="86.3" cy="207.6" r="1.08"/><circle cx="84.8" cy="207.3" r="1.08"/><circle cx="87.7" cy="206.9" r="1.08"/><circle cx="83.3" cy="206.6" r="1.08"/><circle cx="89.2" cy="206.2" r="1.08"/><circle cx="81.8" cy="205.9" r="1.08"/><circle cx="90.7" cy="205.6" r="1.08"/><circle cx="86.3" cy="203.3" r="1.08"/><circle cx="84.8" cy="203" r="1.08"/><circle cx="87.7" cy="202.7" r="1.08"/><circle cx="83.3" cy="202.3" r="1.08"/><circle cx="89.2" cy="202" r="1.08"/><circle cx="81.8" cy="201.6" r="1.08"/><circle cx="90.7" cy="201.3" r="1.08"/><circle cx="80.3" cy="201" r="1.08"/><circle cx="92.2" cy="200.6" r="1.08"/><circle cx="86.3" cy="198.2" r="1.08"/><circle cx="84.8" cy="197.9" r="1.08"/><circle cx="87.7" cy="197.6" r="1.08"/><circle cx="83.3" cy="197.2" r="1.08"/><circle cx="86.3" cy="193.4" r="1.08"/><circle cx="84.8" cy="193.1" r="1.08"/><circle cx="87.1" cy="190.4" r="1.08"/><circle cx="106.5" cy="216.2" r="1.08"/><circle cx="105" cy="215.9" r="1.08"/><circle cx="106.5" cy="211.4" r="1.08"/><circle cx="105" cy="211" r="1.08"/><circle cx="108" cy="210.7" r="1.08"/><circle cx="106.5" cy="206.8" r="1.08"/><circle cx="105" cy="206.4" r="1.08"/><circle cx="108" cy="206.1" r="1.08"/><circle cx="103.6" cy="205.8" r="1.08"/><circle cx="109.5" cy="205.4" r="1.08"/><circle cx="102.1" cy="205.1" r="1.08"/><circle cx="111" cy="204.7" r="1.08"/><circle cx="106.1" cy="203.4" r="1.08"/><circle cx="104.6" cy="203" r="1.08"/><circle cx="107.6" cy="202.7" r="1.08"/><circle cx="103.1" cy="202.3" r="1.08"/><circle cx="109" cy="202" r="1.08"/><circle cx="101.6" cy="201.7" r="1.08"/><circle cx="110.5" cy="201.3" r="1.08"/><circle cx="112" cy="201" r="1.08"/><circle cx="100.2" cy="200.6" r="1.08"/><circle cx="106.5" cy="199" r="1.08"/><circle cx="105" cy="198.6" r="1.08"/><circle cx="108" cy="198.3" r="1.08"/><circle cx="103.6" cy="197.9" r="1.08"/><circle cx="109.5" cy="197.6" r="1.08"/><circle cx="111" cy="197.3" r="1.08"/><circle cx="102.1" cy="196.9" r="1.08"/><circle cx="100.6" cy="196.6" r="1.08"/><circle cx="112.4" cy="196.2" r="1.08"/><circle cx="113.9" cy="195.9" r="1.08"/><circle cx="106.5" cy="194.7" r="1.08"/><circle cx="105" cy="194.4" r="1.08"/><circle cx="108" cy="194" r="1.08"/><circle cx="103.6" cy="193.7" r="1.08"/><circle cx="109.5" cy="193.3" r="1.08"/><circle cx="102.1" cy="193" r="1.08"/><circle cx="111" cy="192.7" r="1.08"/><circle cx="100.6" cy="192.3" r="1.08"/><circle cx="112.4" cy="192" r="1.08"/><circle cx="106.5" cy="189" r="1.08"/><circle cx="105" cy="188.6" r="1.08"/><circle cx="108" cy="188.3" r="1.08"/><circle cx="104" cy="186" r="1.08"/><circle cx="106.5" cy="177.8" r="1.08"/><circle cx="106.5" cy="222" r="1.08"/><circle cx="126.8" cy="203.5" r="1.08"/><circle cx="126.8" cy="198.4" r="1.08"/><circle cx="125.3" cy="198.1" r="1.08"/><circle cx="126.8" cy="193.6" r="1.08"/><circle cx="125.3" cy="193.3" r="1.08"/><circle cx="126.8" cy="188.8" r="1.08"/><circle cx="125.3" cy="188.4" r="1.08"/><circle cx="127.5" cy="185.5" r="1.08"/><circle cx="126" cy="185.2" r="1.08"/><circle cx="128.9" cy="184.8" r="1.08"/><circle cx="124.5" cy="184.5" r="1.08"/><circle cx="130.4" cy="184.2" r="1.08"/><circle cx="126.8" cy="182.1" r="1.08"/><circle cx="123.5" cy="181.7" r="1.08"/><circle cx="125.3" cy="181.4" r="1.08"/><circle cx="128.3" cy="181.1" r="1.08"/><circle cx="129.8" cy="180.7" r="1.08"/><circle cx="131.2" cy="180.4" r="1.08"/><circle cx="122.2" cy="180" r="1.08"/><circle cx="132.7" cy="179.7" r="1.08"/><circle cx="126.8" cy="177.2" r="1.08"/><circle cx="125.3" cy="176.9" r="1.08"/><circle cx="128.3" cy="176.5" r="1.08"/><circle cx="123.9" cy="176.2" r="1.08"/><circle cx="129.8" cy="175.8" r="1.08"/><circle cx="126.8" cy="172.6" r="1.08"/><circle cx="125.3" cy="172.3" r="1.08"/><circle cx="128.3" cy="171.9" r="1.08"/><circle cx="123.9" cy="171.6" r="1.08"/><circle cx="129.8" cy="171.2" r="1.08"/><circle cx="126.8" cy="168.3" r="1.08"/><circle cx="125.3" cy="168" r="1.08"/><circle cx="128.3" cy="167.6" r="1.08"/><circle cx="123.9" cy="167.3" r="1.08"/><circle cx="129.8" cy="166.9" r="1.08"/><circle cx="122.4" cy="166.6" r="1.08"/><circle cx="131.2" cy="166.3" r="1.08"/><circle cx="120.9" cy="165.9" r="1.08"/><circle cx="126.8" cy="163.2" r="1.08"/><circle cx="125.3" cy="162.8" r="1.08"/><circle cx="128.3" cy="162.5" r="1.08"/><circle cx="123.9" cy="162.1" r="1.08"/><circle cx="126.8" cy="158.6" r="1.08"/><circle cx="125.3" cy="158.3" r="1.08"/></g><g fill="#c8620c"><circle cx="106.5" cy="177.8" r="1.15"/><circle cx="106.5" cy="222" r="1.15"/></g><rect x="31.5" y="154.2" width="109.5" height="83.6" fill="none" stroke="#4d4d4d" stroke-width="1.15"/><path d="M45.7 237.8v3.2M66 237.8v3.2M86.3 237.8v3.2M106.5 237.8v3.2M126.8 237.8v3.2M31.5 231h-3.2M31.5 220.1h-3.2M31.5 209.3h-3.2M31.5 198.2h-3.2M31.5 187.3h-3.2M31.5 176.1h-3.2M31.5 164.9h-3.2" stroke="#3a3a3a" stroke-width="1" fill="none"/><text transform="translate(45.7 251.1) scale(0.1)" text-anchor="middle" font-family="Liberation Sans" font-weight="normal" font-size="64" fill="#2a2a2a" stroke="#2a2a2a" stroke-width="1.8">31</text><text transform="translate(66 251.1) scale(0.1)" text-anchor="middle" font-family="Liberation Sans" font-weight="normal" font-size="64" fill="#2a2a2a" stroke="#2a2a2a" stroke-width="1.8">39</text><text transform="translate(86.3 251.1) scale(0.1)" text-anchor="middle" font-family="Liberation Sans" font-weight="normal" font-size="64" fill="#2a2a2a" stroke="#2a2a2a" stroke-width="1.8">42</text><text transform="translate(106.5 251.1) scale(0.1)" text-anchor="middle" font-family="Liberation Sans" font-weight="normal" font-size="64" fill="#2a2a2a" stroke="#2a2a2a" stroke-width="1.8">46</text><text transform="translate(126.8 251.1) scale(0.1)" text-anchor="middle" font-family="Liberation Sans" font-weight="normal" font-size="64" fill="#2a2a2a" stroke="#2a2a2a" stroke-width="1.8">51</text><text transform="translate(23.2 231) rotate(-90) scale(0.1)" text-anchor="middle" font-family="Liberation Sans" font-weight="normal" font-size="64" fill="#2a2a2a" stroke="#2a2a2a" stroke-width="1.8">3.5</text><text transform="translate(23.2 209.3) rotate(-90) scale(0.1)" text-anchor="middle" font-family="Liberation Sans" font-weight="normal" font-size="64" fill="#2a2a2a" stroke="#2a2a2a" stroke-width="1.8">4.5</text><text transform="translate(23.2 187.3) rotate(-90) scale(0.1)" text-anchor="middle" font-family="Liberation Sans" font-weight="normal" font-size="64" fill="#2a2a2a" stroke="#2a2a2a" stroke-width="1.8">5.5</text><text transform="translate(23.2 164.9) rotate(-90) scale(0.1)" text-anchor="middle" font-family="Liberation Sans" font-weight="normal" font-size="64" fill="#2a2a2a" stroke="#2a2a2a" stroke-width="1.8">6.5</text><text transform="translate(94 265.8) scale(0.1)" text-anchor="middle" font-family="Liberation Serif" font-weight="bold" font-size="82.5" fill="#1a1a1a" stroke="#1a1a1a" stroke-width="0.4">Days after sowing</text><text transform="translate(9.1 195.3) rotate(-90) scale(0.0848 0.1)" text-anchor="middle" font-family="Liberation Serif" font-weight="bold" font-size="69" fill="#1a1a1a" stroke="#1a1a1a" stroke-width="2.2">GCI</text></g>
<g><text transform="translate(185.2 149) scale(0.1)" text-anchor="start" font-family="Liberation Sans" font-weight="bold" font-size="80" fill="#1a1a1a" stroke="#1a1a1a" stroke-width="1.2">(e)</text><path d="M199.7 215.1V207.6M199.7 219.5V225.3" stroke="#555" stroke-width="0.8" stroke-dasharray="1.6 1.6" fill="none"/><path d="M195.6 207.6H203.8M195.6 225.3H203.8" stroke="#666" stroke-width="0.9" fill="none"/><rect x="191.6" y="215.1" width="16.2" height="4.4" fill="#adf26c" stroke="#333" stroke-width="0.9"/><path d="M191.6 217.1H207.8" stroke="#000" stroke-width="2.2"/><path d="M220 206.9V192.5M220 217.1V224.9" stroke="#555" stroke-width="0.8" stroke-dasharray="1.6 1.6" fill="none"/><path d="M215.9 192.5H224.1M215.9 224.9H224.1" stroke="#666" stroke-width="0.9" fill="none"/><rect x="211.9" y="206.9" width="16.2" height="10.2" fill="#9ce45a" stroke="#333" stroke-width="0.9"/><path d="M211.9 210.9H228.1" stroke="#000" stroke-width="2.2"/><path d="M240.3 204V190.1M240.3 218.4V234.6" stroke="#555" stroke-width="0.8" stroke-dasharray="1.6 1.6" fill="none"/><path d="M236.2 190.1H244.4M236.2 234.6H244.4" stroke="#666" stroke-width="0.9" fill="none"/><rect x="232.2" y="204" width="16.2" height="14.4" fill="#90d848" stroke="#333" stroke-width="0.9"/><path d="M232.2 209.2H248.4" stroke="#000" stroke-width="2.2"/><path d="M260.5 191.2V174.9M260.5 204.8V220" stroke="#555" stroke-width="0.8" stroke-dasharray="1.6 1.6" fill="none"/><path d="M256.4 174.9H264.6M256.4 220H264.6" stroke="#666" stroke-width="0.9" fill="none"/><rect x="252.4" y="191.2" width="16.2" height="13.6" fill="#629a30" stroke="#333" stroke-width="0.9"/><path d="M252.4 196.1H268.6" stroke="#000" stroke-width="2.2"/><path d="M280.8 173.2V157.4M280.8 183.9V198.4" stroke="#555" stroke-width="0.8" stroke-dasharray="1.6 1.6" fill="none"/><path d="M276.7 157.4H284.9M276.7 198.4H284.9" stroke="#666" stroke-width="0.9" fill="none"/><rect x="272.7" y="173.2" width="16.2" height="10.7" fill="#4f7032" stroke="#333" stroke-width="0.9"/><path d="M272.7 178.6H288.9" stroke="#000" stroke-width="2.2"/><g fill="#f27e1a"><circle cx="199.7" cy="225.3" r="1.08"/><circle cx="198.6" cy="222.9" r="1.08"/><circle cx="200.7" cy="222.6" r="1.08"/><circle cx="202.2" cy="222.3" r="1.08"/><circle cx="197.1" cy="221.9" r="1.08"/><circle cx="203.7" cy="221.6" r="1.08"/><circle cx="205.2" cy="221.2" r="1.08"/><circle cx="206.6" cy="220.9" r="1.08"/><circle cx="195.6" cy="221.4" r="1.08"/><circle cx="194.1" cy="221.1" r="1.08"/><circle cx="192.7" cy="220.8" r="1.08"/><circle cx="208.1" cy="220.4" r="1.08"/><circle cx="199.6" cy="220.1" r="1.08"/><circle cx="191.2" cy="219.7" r="1.08"/><circle cx="209.6" cy="219.4" r="1.08"/><circle cx="201.1" cy="219.1" r="1.08"/><circle cx="198.2" cy="218.7" r="1.08"/><circle cx="202.5" cy="218.4" r="1.08"/><circle cx="196.8" cy="218" r="1.08"/><circle cx="204" cy="217.7" r="1.08"/><circle cx="195.3" cy="217.4" r="1.08"/><circle cx="205.5" cy="217" r="1.08"/><circle cx="193.8" cy="216.7" r="1.08"/><circle cx="199.7" cy="216.3" r="1.08"/><circle cx="206.9" cy="216" r="1.08"/><circle cx="192.4" cy="215.7" r="1.08"/><circle cx="208.4" cy="215.3" r="1.08"/><circle cx="190.9" cy="215" r="1.08"/><circle cx="209.9" cy="214.6" r="1.08"/><circle cx="189.4" cy="214.3" r="1.08"/><circle cx="211.3" cy="214" r="1.08"/><circle cx="201.2" cy="215.4" r="1.08"/><circle cx="198.3" cy="215.1" r="1.08"/><circle cx="202.6" cy="214.8" r="1.08"/><circle cx="196.8" cy="214.4" r="1.08"/><circle cx="204.1" cy="214.1" r="1.08"/><circle cx="195.3" cy="213.7" r="1.08"/><circle cx="205.6" cy="213.4" r="1.08"/><circle cx="193.9" cy="213.1" r="1.08"/><circle cx="199.7" cy="212.7" r="1.08"/><circle cx="207" cy="212.4" r="1.08"/><circle cx="199.3" cy="209.2" r="1.08"/><circle cx="200.8" cy="208.9" r="1.08"/><circle cx="197.8" cy="208.6" r="1.08"/><circle cx="199.7" cy="201.1" r="1.08"/><circle cx="220" cy="224.4" r="1.08"/><circle cx="218.5" cy="224.1" r="1.08"/><circle cx="220.6" cy="221.2" r="1.08"/><circle cx="219.1" cy="220.8" r="1.08"/><circle cx="222.1" cy="220.5" r="1.08"/><circle cx="217.7" cy="220.1" r="1.08"/><circle cx="223.3" cy="218.3" r="1.08"/><circle cx="216.5" cy="218" r="1.08"/><circle cx="220" cy="217.6" r="1.08"/><circle cx="224.7" cy="217.3" r="1.08"/><circle cx="218.5" cy="216.9" r="1.08"/><circle cx="221.4" cy="216.6" r="1.08"/><circle cx="215.2" cy="216.3" r="1.08"/><circle cx="226.1" cy="215.9" r="1.08"/><circle cx="213.7" cy="215.6" r="1.08"/><circle cx="227.6" cy="215.2" r="1.08"/><circle cx="220" cy="213.2" r="1.08"/><circle cx="218.5" cy="212.9" r="1.08"/><circle cx="221.5" cy="212.6" r="1.08"/><circle cx="217" cy="212.2" r="1.08"/><circle cx="222.9" cy="211.9" r="1.08"/><circle cx="215.5" cy="211.5" r="1.08"/><circle cx="224.4" cy="211.2" r="1.08"/><circle cx="214.1" cy="210.9" r="1.08"/><circle cx="225.9" cy="210.5" r="1.08"/><circle cx="220" cy="209.5" r="1.08"/><circle cx="218.5" cy="209.1" r="1.08"/><circle cx="221.5" cy="208.8" r="1.08"/><circle cx="217" cy="208.4" r="1.08"/><circle cx="222.9" cy="208.1" r="1.08"/><circle cx="215.5" cy="207.8" r="1.08"/><circle cx="224.4" cy="207.4" r="1.08"/><circle cx="214.1" cy="207.1" r="1.08"/><circle cx="225.9" cy="206.7" r="1.08"/><circle cx="212.6" cy="206.4" r="1.08"/><circle cx="219.5" cy="206.1" r="1.08"/><circle cx="220.7" cy="203.8" r="1.08"/><circle cx="218.4" cy="203.5" r="1.08"/><circle cx="222.1" cy="203.2" r="1.08"/><circle cx="217" cy="202.8" r="1.08"/><circle cx="220" cy="198.3" r="1.08"/><circle cx="218.5" cy="197.9" r="1.08"/><circle cx="220" cy="193.7" r="1.08"/><circle cx="218.5" cy="193.4" r="1.08"/><circle cx="220" cy="185.2" r="1.08"/><circle cx="240.3" cy="234.6" r="1.08"/><circle cx="240.3" cy="230.6" r="1.08"/><circle cx="238.8" cy="230.2" r="1.08"/><circle cx="240.3" cy="225.9" r="1.08"/><circle cx="238.8" cy="225.5" r="1.08"/><circle cx="240.3" cy="221.4" r="1.08"/><circle cx="238.8" cy="221" r="1.08"/><circle cx="241.7" cy="220.7" r="1.08"/><circle cx="237.3" cy="220.3" r="1.08"/><circle cx="243.2" cy="220" r="1.08"/><circle cx="240.3" cy="217.7" r="1.08"/><circle cx="238.8" cy="217.4" r="1.08"/><circle cx="241.7" cy="217" r="1.08"/><circle cx="237.3" cy="216.7" r="1.08"/><circle cx="243.2" cy="216.3" r="1.08"/><circle cx="244.7" cy="216" r="1.08"/><circle cx="240.3" cy="212.9" r="1.08"/><circle cx="238.8" cy="212.6" r="1.08"/><circle cx="241.7" cy="212.2" r="1.08"/><circle cx="237.3" cy="211.9" r="1.08"/><circle cx="243.2" cy="211.5" r="1.08"/><circle cx="240.3" cy="208.9" r="1.08"/><circle cx="238.8" cy="208.5" r="1.08"/><circle cx="241.7" cy="208.2" r="1.08"/><circle cx="237.3" cy="207.9" r="1.08"/><circle cx="243.2" cy="207.5" r="1.08"/><circle cx="235.8" cy="207.2" r="1.08"/><circle cx="244.7" cy="206.8" r="1.08"/><circle cx="234.3" cy="206.5" r="1.08"/><circle cx="246.2" cy="206.2" r="1.08"/><circle cx="240.3" cy="204.7" r="1.08"/><circle cx="238.8" cy="204.4" r="1.08"/><circle cx="241.7" cy="204" r="1.08"/><circle cx="237.3" cy="203.7" r="1.08"/><circle cx="243.2" cy="203.3" r="1.08"/><circle cx="235.8" cy="203" r="1.08"/><circle cx="244.7" cy="202.7" r="1.08"/><circle cx="234.3" cy="202.3" r="1.08"/><circle cx="240.3" cy="199" r="1.08"/><circle cx="238.8" cy="198.6" r="1.08"/><circle cx="241.7" cy="198.3" r="1.08"/><circle cx="240.3" cy="194.1" r="1.08"/><circle cx="238.8" cy="193.7" r="1.08"/><circle cx="240.3" cy="190.1" r="1.08"/><circle cx="260.5" cy="220" r="1.08"/><circle cx="260.5" cy="216.3" r="1.08"/><circle cx="259" cy="215.9" r="1.08"/><circle cx="260.5" cy="211.5" r="1.08"/><circle cx="259" cy="211.1" r="1.08"/><circle cx="262" cy="210.8" r="1.08"/><circle cx="260.5" cy="206.6" r="1.08"/><circle cx="259" cy="206.3" r="1.08"/><circle cx="262" cy="206" r="1.08"/><circle cx="263.5" cy="205.6" r="1.08"/><circle cx="257.6" cy="205.3" r="1.08"/><circle cx="256.1" cy="204.9" r="1.08"/><circle cx="260.5" cy="202.8" r="1.08"/><circle cx="259" cy="202.4" r="1.08"/><circle cx="262" cy="202.1" r="1.08"/><circle cx="263.5" cy="201.7" r="1.08"/><circle cx="257.6" cy="201.4" r="1.08"/><circle cx="260.5" cy="198.4" r="1.08"/><circle cx="259" cy="198" r="1.08"/><circle cx="262" cy="197.7" r="1.08"/><circle cx="257.6" cy="197.4" r="1.08"/><circle cx="263.5" cy="197" r="1.08"/><circle cx="256.1" cy="196.7" r="1.08"/><circle cx="265" cy="196.3" r="1.08"/><circle cx="260.5" cy="194.5" r="1.08"/><circle cx="259" cy="194.1" r="1.08"/><circle cx="262" cy="193.8" r="1.08"/><circle cx="257.6" cy="193.4" r="1.08"/><circle cx="263.5" cy="193.1" r="1.08"/><circle cx="256.1" cy="192.8" r="1.08"/><circle cx="265" cy="192.4" r="1.08"/><circle cx="254.6" cy="192.1" r="1.08"/><circle cx="266.4" cy="191.7" r="1.08"/><circle cx="253.2" cy="191.4" r="1.08"/><circle cx="260.5" cy="189.6" r="1.08"/><circle cx="259" cy="189.3" r="1.08"/><circle cx="262" cy="189" r="1.08"/><circle cx="257.6" cy="188.6" r="1.08"/><circle cx="263.5" cy="188.3" r="1.08"/><circle cx="260.5" cy="184.3" r="1.08"/><circle cx="259" cy="183.9" r="1.08"/><circle cx="260.5" cy="179.7" r="1.08"/><circle cx="259" cy="179.4" r="1.08"/><circle cx="260.5" cy="174.9" r="1.08"/><circle cx="280.8" cy="197.2" r="1.08"/><circle cx="279.3" cy="196.8" r="1.08"/><circle cx="280.8" cy="192.6" r="1.08"/><circle cx="279.3" cy="192.2" r="1.08"/><circle cx="280.8" cy="188" r="1.08"/><circle cx="279.3" cy="187.7" r="1.08"/><circle cx="282.3" cy="187.3" r="1.08"/><circle cx="277.9" cy="187" r="1.08"/><circle cx="280.7" cy="184.4" r="1.08"/><circle cx="279.2" cy="184.1" r="1.08"/><circle cx="282.2" cy="183.7" r="1.08"/><circle cx="283.7" cy="183.4" r="1.08"/><circle cx="277.8" cy="183.1" r="1.08"/><circle cx="285.2" cy="182.7" r="1.08"/><circle cx="276.3" cy="182.4" r="1.08"/><circle cx="286.6" cy="182" r="1.08"/><circle cx="274.8" cy="181.7" r="1.08"/><circle cx="288.1" cy="181.4" r="1.08"/><circle cx="280.8" cy="179.7" r="1.08"/><circle cx="279.3" cy="179.4" r="1.08"/><circle cx="282.3" cy="179" r="1.08"/><circle cx="277.9" cy="178.7" r="1.08"/><circle cx="283.8" cy="178.3" r="1.08"/><circle cx="276.4" cy="178" r="1.08"/><circle cx="285.2" cy="177.7" r="1.08"/><circle cx="274.9" cy="177.3" r="1.08"/><circle cx="286.7" cy="177" r="1.08"/><circle cx="280.8" cy="175.3" r="1.08"/><circle cx="279.3" cy="175" r="1.08"/><circle cx="282.3" cy="174.6" r="1.08"/><circle cx="277.9" cy="174.3" r="1.08"/><circle cx="283.8" cy="174" r="1.08"/><circle cx="276.4" cy="173.6" r="1.08"/><circle cx="285.2" cy="173.3" r="1.08"/><circle cx="274.9" cy="172.9" r="1.08"/><circle cx="286.7" cy="172.6" r="1.08"/><circle cx="280.8" cy="170.4" r="1.08"/><circle cx="279.3" cy="170.1" r="1.08"/><circle cx="282.3" cy="169.7" r="1.08"/><circle cx="280.8" cy="165.2" r="1.08"/><circle cx="279.3" cy="164.9" r="1.08"/><circle cx="282.3" cy="164.6" r="1.08"/><circle cx="280.8" cy="160.6" r="1.08"/><circle cx="280.1" cy="157.4" r="1.08"/><circle cx="280.8" cy="203.2" r="1.08"/><circle cx="280.8" cy="209.2" r="1.08"/><circle cx="280.8" cy="213.8" r="1.08"/></g><g fill="#c8620c"><circle cx="199.7" cy="201.1" r="1.15"/><circle cx="220" cy="185.2" r="1.15"/><circle cx="280.8" cy="203.2" r="1.15"/><circle cx="280.8" cy="209.2" r="1.15"/><circle cx="280.8" cy="213.8" r="1.15"/></g><rect x="185.5" y="154.2" width="109.5" height="83.6" fill="none" stroke="#4d4d4d" stroke-width="1.15"/><path d="M199.7 237.8v3.2M220 237.8v3.2M240.3 237.8v3.2M260.5 237.8v3.2M280.8 237.8v3.2M185.5 231h-3.2M185.5 214.1h-3.2M185.5 197.2h-3.2M185.5 180.4h-3.2M185.5 163.1h-3.2" stroke="#3a3a3a" stroke-width="1" fill="none"/><text transform="translate(199.7 251.1) scale(0.1)" text-anchor="middle" font-family="Liberation Sans" font-weight="normal" font-size="64" fill="#2a2a2a" stroke="#2a2a2a" stroke-width="1.8">31</text><text transform="translate(220 251.1) scale(0.1)" text-anchor="middle" font-family="Liberation Sans" font-weight="normal" font-size="64" fill="#2a2a2a" stroke="#2a2a2a" stroke-width="1.8">39</text><text transform="translate(240.3 251.1) scale(0.1)" text-anchor="middle" font-family="Liberation Sans" font-weight="normal" font-size="64" fill="#2a2a2a" stroke="#2a2a2a" stroke-width="1.8">42</text><text transform="translate(260.5 251.1) scale(0.1)" text-anchor="middle" font-family="Liberation Sans" font-weight="normal" font-size="64" fill="#2a2a2a" stroke="#2a2a2a" stroke-width="1.8">46</text><text transform="translate(280.8 251.1) scale(0.1)" text-anchor="middle" font-family="Liberation Sans" font-weight="normal" font-size="64" fill="#2a2a2a" stroke="#2a2a2a" stroke-width="1.8">51</text><text transform="translate(178 231) rotate(-90) scale(0.1)" text-anchor="middle" font-family="Liberation Sans" font-weight="normal" font-size="64" fill="#2a2a2a" stroke="#2a2a2a" stroke-width="1.8">6</text><text transform="translate(178 214.1) rotate(-90) scale(0.1)" text-anchor="middle" font-family="Liberation Sans" font-weight="normal" font-size="64" fill="#2a2a2a" stroke="#2a2a2a" stroke-width="1.8">8</text><text transform="translate(178 197.2) rotate(-90) scale(0.1)" text-anchor="middle" font-family="Liberation Sans" font-weight="normal" font-size="64" fill="#2a2a2a" stroke="#2a2a2a" stroke-width="1.8">10</text><text transform="translate(178 180.4) rotate(-90) scale(0.1)" text-anchor="middle" font-family="Liberation Sans" font-weight="normal" font-size="64" fill="#2a2a2a" stroke="#2a2a2a" stroke-width="1.8">12</text><text transform="translate(178 163.1) rotate(-90) scale(0.1)" text-anchor="middle" font-family="Liberation Sans" font-weight="normal" font-size="64" fill="#2a2a2a" stroke="#2a2a2a" stroke-width="1.8">14</text><text transform="translate(248 265.8) scale(0.1)" text-anchor="middle" font-family="Liberation Serif" font-weight="bold" font-size="82.5" fill="#1a1a1a" stroke="#1a1a1a" stroke-width="0.4">Days after sowing</text><text transform="translate(163 195) rotate(-90) scale(0.0834 0.1)" text-anchor="middle" font-family="Liberation Serif" font-weight="bold" font-size="69" fill="#1a1a1a" stroke="#1a1a1a" stroke-width="2.2">RVI</text></g>
<g><text transform="translate(339.2 149) scale(0.1)" text-anchor="start" font-family="Liberation Sans" font-weight="bold" font-size="80" fill="#1a1a1a" stroke="#1a1a1a" stroke-width="1.2">(f)</text><path d="M353.7 220V211.4M353.7 225.6V230.5" stroke="#555" stroke-width="0.8" stroke-dasharray="1.6 1.6" fill="none"/><path d="M349.6 211.4H357.8M349.6 230.5H357.8" stroke="#666" stroke-width="0.9" fill="none"/><rect x="345.6" y="220" width="16.2" height="5.6" fill="#adf26c" stroke="#333" stroke-width="0.9"/><path d="M345.6 222H361.8" stroke="#000" stroke-width="2.2"/><path d="M374 194.5V187.3M374 199.9V206" stroke="#555" stroke-width="0.8" stroke-dasharray="1.6 1.6" fill="none"/><path d="M369.9 187.3H378.1M369.9 206H378.1" stroke="#666" stroke-width="0.9" fill="none"/><rect x="365.9" y="194.5" width="16.2" height="5.4" fill="#90d848" stroke="#333" stroke-width="0.9"/><path d="M365.9 197.1H382.1" stroke="#000" stroke-width="2.2"/><path d="M394.3 184.7V175.4M394.3 191.2V200.4" stroke="#555" stroke-width="0.8" stroke-dasharray="1.6 1.6" fill="none"/><path d="M390.2 175.4H398.4M390.2 200.4H398.4" stroke="#666" stroke-width="0.9" fill="none"/><rect x="386.2" y="184.7" width="16.2" height="6.5" fill="#90d848" stroke="#333" stroke-width="0.9"/><path d="M386.2 188.9H402.4" stroke="#000" stroke-width="2.2"/><path d="M414.5 184.7V176.2M414.5 194.5V204.8" stroke="#555" stroke-width="0.8" stroke-dasharray="1.6 1.6" fill="none"/><path d="M410.4 176.2H418.6M410.4 204.8H418.6" stroke="#666" stroke-width="0.9" fill="none"/><rect x="406.4" y="184.7" width="16.2" height="9.8" fill="#629a30" stroke="#333" stroke-width="0.9"/><path d="M406.4 188.9H422.6" stroke="#000" stroke-width="2.2"/><path d="M434.8 165.5V157.4M434.8 176.5V182.4" stroke="#555" stroke-width="0.8" stroke-dasharray="1.6 1.6" fill="none"/><path d="M430.7 157.4H438.9M430.7 182.4H438.9" stroke="#666" stroke-width="0.9" fill="none"/><rect x="426.7" y="165.5" width="16.2" height="11" fill="#4f7032" stroke="#333" stroke-width="0.9"/><path d="M426.7 171.3H442.9" stroke="#000" stroke-width="2.2"/><g fill="#f27e1a"><circle cx="353.7" cy="230.5" r="1.08"/><circle cx="352.4" cy="228.7" r="1.08"/><circle cx="354.9" cy="228.4" r="1.08"/><circle cx="356.4" cy="228.1" r="1.08"/><circle cx="351" cy="227.7" r="1.08"/><circle cx="357.9" cy="227.4" r="1.08"/><circle cx="349.5" cy="227" r="1.08"/><circle cx="359.4" cy="226.7" r="1.08"/><circle cx="353.7" cy="226.4" r="1.08"/><circle cx="348" cy="226" r="1.08"/><circle cx="360.8" cy="225.7" r="1.08"/><circle cx="362.3" cy="225.3" r="1.08"/><circle cx="346.6" cy="225.3" r="1.08"/><circle cx="352.3" cy="225" r="1.08"/><circle cx="355" cy="224.7" r="1.08"/><circle cx="356.5" cy="224.3" r="1.08"/><circle cx="350.9" cy="224" r="1.08"/><circle cx="358" cy="223.6" r="1.08"/><circle cx="349.4" cy="223.3" r="1.08"/><circle cx="359.4" cy="223" r="1.08"/><circle cx="353.7" cy="222.6" r="1.08"/><circle cx="347.9" cy="222.3" r="1.08"/><circle cx="360.9" cy="221.9" r="1.08"/><circle cx="346.5" cy="221.6" r="1.08"/><circle cx="352.3" cy="221.3" r="1.08"/><circle cx="345" cy="220.9" r="1.08"/><circle cx="363.8" cy="220.6" r="1.08"/><circle cx="362.4" cy="221.6" r="1.08"/><circle cx="355.5" cy="221.2" r="1.08"/><circle cx="356.9" cy="220.9" r="1.08"/><circle cx="350.4" cy="220.6" r="1.08"/><circle cx="358.4" cy="220.2" r="1.08"/><circle cx="343.6" cy="219.9" r="1.08"/><circle cx="349" cy="219.5" r="1.08"/><circle cx="354.1" cy="219.2" r="1.08"/><circle cx="359.8" cy="218.9" r="1.08"/><circle cx="347.5" cy="218.5" r="1.08"/><circle cx="351.5" cy="218.2" r="1.08"/><circle cx="355.9" cy="217.8" r="1.08"/><circle cx="361.2" cy="217.5" r="1.08"/><circle cx="353.7" cy="214.7" r="1.08"/><circle cx="352.2" cy="214.3" r="1.08"/><circle cx="355.2" cy="214" r="1.08"/><circle cx="351.3" cy="211.4" r="1.08"/><circle cx="353.7" cy="234.6" r="1.08"/><circle cx="374" cy="205.6" r="1.08"/><circle cx="372.5" cy="205.3" r="1.08"/><circle cx="374.9" cy="202.8" r="1.08"/><circle cx="371.5" cy="202.5" r="1.08"/><circle cx="373.4" cy="202.1" r="1.08"/><circle cx="376.4" cy="201.8" r="1.08"/><circle cx="370.1" cy="201.5" r="1.08"/><circle cx="377.8" cy="201.1" r="1.08"/><circle cx="368.6" cy="200.8" r="1.08"/><circle cx="379.3" cy="200.4" r="1.08"/><circle cx="367.2" cy="200.1" r="1.08"/><circle cx="382.3" cy="199.8" r="1.08"/><circle cx="380.8" cy="200.3" r="1.08"/><circle cx="365.7" cy="199.9" r="1.08"/><circle cx="383.8" cy="199.6" r="1.08"/><circle cx="374.3" cy="199.3" r="1.08"/><circle cx="372.8" cy="198.9" r="1.08"/><circle cx="371.3" cy="198.6" r="1.08"/><circle cx="375.8" cy="198.2" r="1.08"/><circle cx="369.8" cy="197.9" r="1.08"/><circle cx="377.3" cy="197.6" r="1.08"/><circle cx="368.3" cy="197.2" r="1.08"/><circle cx="378.7" cy="196.9" r="1.08"/><circle cx="380.2" cy="196.5" r="1.08"/><circle cx="366.9" cy="196.2" r="1.08"/><circle cx="373.9" cy="195.9" r="1.08"/><circle cx="372.3" cy="195.5" r="1.08"/><circle cx="365.5" cy="195.2" r="1.08"/><circle cx="375.3" cy="194.8" r="1.08"/><circle cx="364" cy="194.5" r="1.08"/><circle cx="381.6" cy="195.3" r="1.08"/><circle cx="370.8" cy="195" r="1.08"/><circle cx="383.1" cy="194.7" r="1.08"/><circle cx="369.3" cy="194.3" r="1.08"/><circle cx="376.7" cy="194" r="1.08"/><circle cx="384.6" cy="193.6" r="1.08"/><circle cx="378.2" cy="193.3" r="1.08"/><circle cx="379.7" cy="193" r="1.08"/><circle cx="373.2" cy="192.6" r="1.08"/><circle cx="368.1" cy="192.3" r="1.08"/><circle cx="374" cy="189.5" r="1.08"/><circle cx="372.5" cy="189.2" r="1.08"/><circle cx="375.5" cy="188.9" r="1.08"/><circle cx="371" cy="188.5" r="1.08"/><circle cx="394.3" cy="199.3" r="1.08"/><circle cx="392.8" cy="198.9" r="1.08"/><circle cx="395.7" cy="198.6" r="1.08"/><circle cx="394.3" cy="194.5" r="1.08"/><circle cx="392.8" cy="194.2" r="1.08"/><circle cx="395.7" cy="193.9" r="1.08"/><circle cx="391.3" cy="193.5" r="1.08"/><circle cx="397.2" cy="193.2" r="1.08"/><circle cx="389.8" cy="192.7" r="1.08"/><circle cx="398.7" cy="192.4" r="1.08"/><circle cx="388.4" cy="192.1" r="1.08"/><circle cx="400.1" cy="191.7" r="1.08"/><circle cx="386.9" cy="191.4" r="1.08"/><circle cx="393.9" cy="191" r="1.08"/><circle cx="392.4" cy="190.7" r="1.08"/><circle cx="395.4" cy="190.4" r="1.08"/><circle cx="391" cy="190" r="1.08"/><circle cx="396.9" cy="189.7" r="1.08"/><circle cx="401.3" cy="189.3" r="1.08"/><circle cx="389.5" cy="189" r="1.08"/><circle cx="398.3" cy="188.7" r="1.08"/><circle cx="388" cy="188.3" r="1.08"/><circle cx="399.8" cy="188" r="1.08"/><circle cx="393.4" cy="187.6" r="1.08"/><circle cx="402.5" cy="187.3" r="1.08"/><circle cx="386.6" cy="187.4" r="1.08"/><circle cx="392" cy="187" r="1.08"/><circle cx="394.9" cy="186.7" r="1.08"/><circle cx="385.2" cy="186.4" r="1.08"/><circle cx="396.4" cy="186" r="1.08"/><circle cx="390.6" cy="185.7" r="1.08"/><circle cx="389.1" cy="185.3" r="1.08"/><circle cx="397.8" cy="185" r="1.08"/><circle cx="400.4" cy="184.7" r="1.08"/><circle cx="387.6" cy="184.3" r="1.08"/><circle cx="393.9" cy="184" r="1.08"/><circle cx="401.8" cy="183.6" r="1.08"/><circle cx="395.1" cy="181.9" r="1.08"/><circle cx="392.8" cy="181.5" r="1.08"/><circle cx="396.6" cy="181.2" r="1.08"/><circle cx="391.3" cy="180.8" r="1.08"/><circle cx="394.3" cy="177.3" r="1.08"/><circle cx="392.8" cy="177" r="1.08"/><circle cx="395.7" cy="176.7" r="1.08"/><circle cx="414.5" cy="204.2" r="1.08"/><circle cx="413" cy="203.9" r="1.08"/><circle cx="414.5" cy="200.2" r="1.08"/><circle cx="413" cy="199.9" r="1.08"/><circle cx="416" cy="199.6" r="1.08"/><circle cx="414.5" cy="196.5" r="1.08"/><circle cx="413" cy="196.1" r="1.08"/><circle cx="416" cy="195.8" r="1.08"/><circle cx="411.6" cy="195.5" r="1.08"/><circle cx="417.5" cy="195.1" r="1.08"/><circle cx="410.1" cy="194.8" r="1.08"/><circle cx="419" cy="194.4" r="1.08"/><circle cx="408.6" cy="194.1" r="1.08"/><circle cx="414.5" cy="192.6" r="1.08"/><circle cx="413" cy="192.3" r="1.08"/><circle cx="416" cy="191.9" r="1.08"/><circle cx="411.6" cy="191.6" r="1.08"/><circle cx="417.5" cy="191.3" r="1.08"/><circle cx="410.1" cy="190.9" r="1.08"/><circle cx="419" cy="190.6" r="1.08"/><circle cx="408.6" cy="190.2" r="1.08"/><circle cx="420.4" cy="189.9" r="1.08"/><circle cx="414.5" cy="188.5" r="1.08"/><circle cx="413" cy="188.1" r="1.08"/><circle cx="416" cy="187.8" r="1.08"/><circle cx="411.6" cy="187.4" r="1.08"/><circle cx="417.5" cy="187.1" r="1.08"/><circle cx="419" cy="186.8" r="1.08"/><circle cx="410.1" cy="186.4" r="1.08"/><circle cx="408.6" cy="186.1" r="1.08"/><circle cx="420.4" cy="185.7" r="1.08"/><circle cx="407.2" cy="185.4" r="1.08"/><circle cx="414" cy="185.1" r="1.08"/><circle cx="421.9" cy="184.7" r="1.08"/><circle cx="415.5" cy="184.4" r="1.08"/><circle cx="412.7" cy="183.3" r="1.08"/><circle cx="416.9" cy="183" r="1.08"/><circle cx="411.3" cy="182.6" r="1.08"/><circle cx="418.4" cy="182.3" r="1.08"/><circle cx="409.8" cy="181.9" r="1.08"/><circle cx="414.5" cy="181.6" r="1.08"/><circle cx="414.2" cy="178.1" r="1.08"/><circle cx="415.7" cy="177.8" r="1.08"/><circle cx="412.7" cy="177.4" r="1.08"/><circle cx="434.8" cy="182" r="1.08"/><circle cx="433.3" cy="181.6" r="1.08"/><circle cx="435.9" cy="179.4" r="1.08"/><circle cx="432.3" cy="179" r="1.08"/><circle cx="437.3" cy="178.7" r="1.08"/><circle cx="434.4" cy="178.4" r="1.08"/><circle cx="430.8" cy="178" r="1.08"/><circle cx="438.8" cy="177.7" r="1.08"/><circle cx="429.4" cy="177.3" r="1.08"/><circle cx="440.2" cy="177" r="1.08"/><circle cx="433.2" cy="176.2" r="1.08"/><circle cx="435.5" cy="175.8" r="1.08"/><circle cx="428.1" cy="175.5" r="1.08"/><circle cx="437" cy="175.2" r="1.08"/><circle cx="431.8" cy="174.8" r="1.08"/><circle cx="430.3" cy="174.5" r="1.08"/><circle cx="438.4" cy="174.1" r="1.08"/><circle cx="440.9" cy="173.8" r="1.08"/><circle cx="434.4" cy="173.5" r="1.08"/><circle cx="442.4" cy="173.1" r="1.08"/><circle cx="435.6" cy="171.3" r="1.08"/><circle cx="433.3" cy="171" r="1.08"/><circle cx="437" cy="170.6" r="1.08"/><circle cx="431.8" cy="170.3" r="1.08"/><circle cx="438.5" cy="170" r="1.08"/><circle cx="430.3" cy="169.6" r="1.08"/><circle cx="440" cy="169.3" r="1.08"/><circle cx="428.9" cy="168.9" r="1.08"/><circle cx="434.6" cy="168.6" r="1.08"/><circle cx="435.9" cy="166.8" r="1.08"/><circle cx="433.4" cy="166.5" r="1.08"/><circle cx="437.4" cy="166.1" r="1.08"/><circle cx="431.9" cy="165.8" r="1.08"/><circle cx="438.8" cy="165.5" r="1.08"/><circle cx="430.4" cy="165.1" r="1.08"/><circle cx="440.3" cy="164.8" r="1.08"/><circle cx="434.8" cy="164.4" r="1.08"/><circle cx="429" cy="164.1" r="1.08"/><circle cx="441.8" cy="163.8" r="1.08"/><circle cx="435.4" cy="161.1" r="1.08"/><circle cx="433.9" cy="160.8" r="1.08"/><circle cx="436.8" cy="160.5" r="1.08"/><circle cx="432.4" cy="160.1" r="1.08"/><circle cx="434.8" cy="157.4" r="1.08"/></g><g fill="#c8620c"><circle cx="353.7" cy="234.6" r="1.15"/></g><rect x="339.5" y="154.2" width="109.5" height="83.6" fill="none" stroke="#4d4d4d" stroke-width="1.15"/><path d="M353.7 237.8v3.2M374 237.8v3.2M394.3 237.8v3.2M414.5 237.8v3.2M434.8 237.8v3.2M339.5 231.4h-3.2M339.5 213.7h-3.2M339.5 195.4h-3.2M339.5 177.8h-3.2M339.5 159.7h-3.2" stroke="#3a3a3a" stroke-width="1" fill="none"/><text transform="translate(353.7 251.1) scale(0.1)" text-anchor="middle" font-family="Liberation Sans" font-weight="normal" font-size="64" fill="#2a2a2a" stroke="#2a2a2a" stroke-width="1.8">31</text><text transform="translate(374 251.1) scale(0.1)" text-anchor="middle" font-family="Liberation Sans" font-weight="normal" font-size="64" fill="#2a2a2a" stroke="#2a2a2a" stroke-width="1.8">39</text><text transform="translate(394.3 251.1) scale(0.1)" text-anchor="middle" font-family="Liberation Sans" font-weight="normal" font-size="64" fill="#2a2a2a" stroke="#2a2a2a" stroke-width="1.8">42</text><text transform="translate(414.5 251.1) scale(0.1)" text-anchor="middle" font-family="Liberation Sans" font-weight="normal" font-size="64" fill="#2a2a2a" stroke="#2a2a2a" stroke-width="1.8">46</text><text transform="translate(434.8 251.1) scale(0.1)" text-anchor="middle" font-family="Liberation Sans" font-weight="normal" font-size="64" fill="#2a2a2a" stroke="#2a2a2a" stroke-width="1.8">51</text><text transform="translate(331.5 231.4) rotate(-90) scale(0.1)" text-anchor="middle" font-family="Liberation Sans" font-weight="normal" font-size="64" fill="#2a2a2a" stroke="#2a2a2a" stroke-width="1.8">0.20</text><text transform="translate(331.5 213.7) rotate(-90) scale(0.1)" text-anchor="middle" font-family="Liberation Sans" font-weight="normal" font-size="64" fill="#2a2a2a" stroke="#2a2a2a" stroke-width="1.8">0.25</text><text transform="translate(331.5 195.4) rotate(-90) scale(0.1)" text-anchor="middle" font-family="Liberation Sans" font-weight="normal" font-size="64" fill="#2a2a2a" stroke="#2a2a2a" stroke-width="1.8">0.30</text><text transform="translate(331.5 177.8) rotate(-90) scale(0.1)" text-anchor="middle" font-family="Liberation Sans" font-weight="normal" font-size="64" fill="#2a2a2a" stroke="#2a2a2a" stroke-width="1.8">0.35</text><text transform="translate(331.5 159.7) rotate(-90) scale(0.1)" text-anchor="middle" font-family="Liberation Sans" font-weight="normal" font-size="64" fill="#2a2a2a" stroke="#2a2a2a" stroke-width="1.8">0.40</text><text transform="translate(402 265.8) scale(0.1)" text-anchor="middle" font-family="Liberation Serif" font-weight="bold" font-size="82.5" fill="#1a1a1a" stroke="#1a1a1a" stroke-width="0.4">Days after sowing</text><text transform="translate(316.9 194.8) rotate(-90) scale(0.0924 0.1)" text-anchor="middle" font-family="Liberation Serif" font-weight="bold" font-size="69" fill="#1a1a1a" stroke="#1a1a1a" stroke-width="2.2">NDRE</text></g>
<g><text transform="translate(31.2 284.9) scale(0.1)" text-anchor="start" font-family="Liberation Sans" font-weight="bold" font-size="80" fill="#1a1a1a" stroke="#1a1a1a" stroke-width="1.2">(g)</text><path d="M45.7 360.8V353.5M45.7 365.2V372.3" stroke="#555" stroke-width="0.8" stroke-dasharray="1.6 1.6" fill="none"/><path d="M41.6 353.5H49.8M41.6 372.3H49.8" stroke="#666" stroke-width="0.9" fill="none"/><rect x="37.6" y="360.8" width="16.2" height="4.4" fill="#adf26c" stroke="#333" stroke-width="0.9"/><path d="M37.6 362.9H53.8" stroke="#000" stroke-width="2.2"/><path d="M66 338.4V328.6M66 343.6V348.5" stroke="#555" stroke-width="0.8" stroke-dasharray="1.6 1.6" fill="none"/><path d="M61.9 328.6H70.1M61.9 348.5H70.1" stroke="#666" stroke-width="0.9" fill="none"/><rect x="57.9" y="338.4" width="16.2" height="5.2" fill="#9ce45a" stroke="#333" stroke-width="0.9"/><path d="M57.9 340.4H74.1" stroke="#000" stroke-width="2.2"/><path d="M86.3 328.1V319.4M86.3 334.6V342.5" stroke="#555" stroke-width="0.8" stroke-dasharray="1.6 1.6" fill="none"/><path d="M82.2 319.4H90.4M82.2 342.5H90.4" stroke="#666" stroke-width="0.9" fill="none"/><rect x="78.2" y="328.1" width="16.2" height="6.5" fill="#90d848" stroke="#333" stroke-width="0.9"/><path d="M78.2 331.9H94.4" stroke="#000" stroke-width="2.2"/><path d="M106.5 328.1V317.5M106.5 338.4V348.1" stroke="#555" stroke-width="0.8" stroke-dasharray="1.6 1.6" fill="none"/><path d="M102.4 317.5H110.6M102.4 348.1H110.6" stroke="#666" stroke-width="0.9" fill="none"/><rect x="98.4" y="328.1" width="16.2" height="10.3" fill="#629a30" stroke="#333" stroke-width="0.9"/><path d="M98.4 332.2H114.6" stroke="#000" stroke-width="2.2"/><path d="M126.8 304.9V294.9M126.8 319.4V325.6" stroke="#555" stroke-width="0.8" stroke-dasharray="1.6 1.6" fill="none"/><path d="M122.7 294.9H130.9M122.7 325.6H130.9" stroke="#666" stroke-width="0.9" fill="none"/><rect x="118.7" y="304.9" width="16.2" height="14.5" fill="#4f7032" stroke="#333" stroke-width="0.9"/><path d="M118.7 313.7H134.9" stroke="#000" stroke-width="2.2"/><g fill="#f27e1a"><circle cx="45.7" cy="372.3" r="1.08"/><circle cx="44.6" cy="370" r="1.08"/><circle cx="46.7" cy="369.6" r="1.08"/><circle cx="48.2" cy="369.3" r="1.08"/><circle cx="43.1" cy="369" r="1.08"/><circle cx="49.5" cy="367.5" r="1.08"/><circle cx="45.6" cy="367.2" r="1.08"/><circle cx="41.9" cy="366.8" r="1.08"/><circle cx="50.9" cy="366.5" r="1.08"/><circle cx="47.1" cy="366.1" r="1.08"/><circle cx="44.2" cy="365.8" r="1.08"/><circle cx="40.5" cy="365.5" r="1.08"/><circle cx="52.3" cy="365.1" r="1.08"/><circle cx="48.5" cy="364.8" r="1.08"/><circle cx="39.1" cy="364.4" r="1.08"/><circle cx="42.9" cy="364.1" r="1.08"/><circle cx="49.9" cy="363.8" r="1.08"/><circle cx="37.6" cy="363.4" r="1.08"/><circle cx="36.1" cy="363.1" r="1.08"/><circle cx="41.5" cy="362.7" r="1.08"/><circle cx="51.3" cy="362.4" r="1.08"/><circle cx="34.7" cy="362.1" r="1.08"/><circle cx="53.7" cy="363.9" r="1.08"/><circle cx="45.7" cy="363.5" r="1.08"/><circle cx="55.2" cy="363.2" r="1.08"/><circle cx="56.7" cy="362.9" r="1.08"/><circle cx="47.1" cy="362.5" r="1.08"/><circle cx="44.3" cy="362.2" r="1.08"/><circle cx="58.1" cy="361.8" r="1.08"/><circle cx="40.1" cy="361.5" r="1.08"/><circle cx="48.5" cy="361.2" r="1.08"/><circle cx="52.6" cy="360.8" r="1.08"/><circle cx="43" cy="360.5" r="1.08"/><circle cx="50" cy="360.1" r="1.08"/><circle cx="45.7" cy="359.8" r="1.08"/><circle cx="38.9" cy="359.5" r="1.08"/><circle cx="41.6" cy="359.1" r="1.08"/><circle cx="47.1" cy="358.8" r="1.08"/><circle cx="44.3" cy="358.4" r="1.08"/><circle cx="48.4" cy="356.9" r="1.08"/><circle cx="43" cy="356.6" r="1.08"/><circle cx="45.6" cy="356.2" r="1.08"/><circle cx="49.9" cy="355.9" r="1.08"/><circle cx="46.6" cy="353.5" r="1.08"/><circle cx="66" cy="348" r="1.08"/><circle cx="64.5" cy="347.7" r="1.08"/><circle cx="67.5" cy="347.3" r="1.08"/><circle cx="63.2" cy="346" r="1.08"/><circle cx="68.8" cy="345.6" r="1.08"/><circle cx="70.3" cy="345.3" r="1.08"/><circle cx="61.7" cy="344.9" r="1.08"/><circle cx="65.5" cy="344.6" r="1.08"/><circle cx="71.7" cy="344.3" r="1.08"/><circle cx="67" cy="343.9" r="1.08"/><circle cx="60.3" cy="343.6" r="1.08"/><circle cx="58.8" cy="343.2" r="1.08"/><circle cx="73.1" cy="342.9" r="1.08"/><circle cx="57.4" cy="342.6" r="1.08"/><circle cx="76.1" cy="342.2" r="1.08"/><circle cx="55.9" cy="341.9" r="1.08"/><circle cx="64.1" cy="343" r="1.08"/><circle cx="74.6" cy="342.6" r="1.08"/><circle cx="69.4" cy="342.3" r="1.08"/><circle cx="62.7" cy="342" r="1.08"/><circle cx="54.4" cy="341.6" r="1.08"/><circle cx="70.8" cy="341.3" r="1.08"/><circle cx="66" cy="340.9" r="1.08"/><circle cx="67.5" cy="340.6" r="1.08"/><circle cx="61.4" cy="340.3" r="1.08"/><circle cx="59.9" cy="339.9" r="1.08"/><circle cx="72.1" cy="339.6" r="1.08"/><circle cx="64.7" cy="339.2" r="1.08"/><circle cx="68.9" cy="338.9" r="1.08"/><circle cx="58.5" cy="338.6" r="1.08"/><circle cx="63.2" cy="338.2" r="1.08"/><circle cx="70.3" cy="337.9" r="1.08"/><circle cx="66.5" cy="337.5" r="1.08"/><circle cx="73.3" cy="337.2" r="1.08"/><circle cx="60.9" cy="336.9" r="1.08"/><circle cx="57.3" cy="336.5" r="1.08"/><circle cx="67.9" cy="336.2" r="1.08"/><circle cx="65.2" cy="335.8" r="1.08"/><circle cx="71.4" cy="335.5" r="1.08"/><circle cx="69.3" cy="335.1" r="1.08"/><circle cx="63.7" cy="334.8" r="1.08"/><circle cx="66" cy="330.4" r="1.08"/><circle cx="64.5" cy="330.1" r="1.08"/><circle cx="67.5" cy="329.7" r="1.08"/><circle cx="86.3" cy="342.1" r="1.08"/><circle cx="84.8" cy="341.8" r="1.08"/><circle cx="85.7" cy="338.7" r="1.08"/><circle cx="87.2" cy="338.4" r="1.08"/><circle cx="84.3" cy="338.1" r="1.08"/><circle cx="88.7" cy="337.7" r="1.08"/><circle cx="82.9" cy="336.4" r="1.08"/><circle cx="90" cy="336" r="1.08"/><circle cx="81.5" cy="335.7" r="1.08"/><circle cx="86.3" cy="335.3" r="1.08"/><circle cx="91.4" cy="335" r="1.08"/><circle cx="84.8" cy="334.7" r="1.08"/><circle cx="87.7" cy="334.3" r="1.08"/><circle cx="80.1" cy="334" r="1.08"/><circle cx="92.8" cy="333.6" r="1.08"/><circle cx="78.7" cy="333.3" r="1.08"/><circle cx="83.5" cy="333" r="1.08"/><circle cx="89" cy="332.6" r="1.08"/><circle cx="82" cy="332.3" r="1.08"/><circle cx="77.3" cy="331.9" r="1.08"/><circle cx="94.2" cy="332.4" r="1.08"/><circle cx="90.5" cy="332" r="1.08"/><circle cx="86.3" cy="331.7" r="1.08"/><circle cx="95.7" cy="331.3" r="1.08"/><circle cx="84.8" cy="331" r="1.08"/><circle cx="87.7" cy="330.7" r="1.08"/><circle cx="80.7" cy="330.3" r="1.08"/><circle cx="91.7" cy="330" r="1.08"/><circle cx="93.2" cy="329.6" r="1.08"/><circle cx="83.5" cy="329.3" r="1.08"/><circle cx="89" cy="329" r="1.08"/><circle cx="79.4" cy="328.6" r="1.08"/><circle cx="82" cy="328.3" r="1.08"/><circle cx="86.3" cy="327.9" r="1.08"/><circle cx="90.4" cy="327.6" r="1.08"/><circle cx="84.9" cy="326.6" r="1.08"/><circle cx="87.6" cy="326.3" r="1.08"/><circle cx="80.9" cy="325.9" r="1.08"/><circle cx="83.4" cy="325.6" r="1.08"/><circle cx="89" cy="325.3" r="1.08"/><circle cx="91.4" cy="324.9" r="1.08"/><circle cx="86.3" cy="321.2" r="1.08"/><circle cx="84.8" cy="320.8" r="1.08"/><circle cx="87.7" cy="320.5" r="1.08"/><circle cx="85.4" cy="313.7" r="1.08"/><circle cx="86.3" cy="316.6" r="1.08"/><circle cx="106.5" cy="348.1" r="1.08"/><circle cx="105.5" cy="345.6" r="1.08"/><circle cx="107.5" cy="345.3" r="1.08"/><circle cx="106.5" cy="341.8" r="1.08"/><circle cx="105" cy="341.5" r="1.08"/><circle cx="108" cy="341.1" r="1.08"/><circle cx="103.6" cy="340.8" r="1.08"/><circle cx="109.5" cy="340.4" r="1.08"/><circle cx="102.1" cy="340.1" r="1.08"/><circle cx="106.2" cy="338.3" r="1.08"/><circle cx="104.7" cy="337.9" r="1.08"/><circle cx="107.7" cy="337.6" r="1.08"/><circle cx="103.3" cy="337.3" r="1.08"/><circle cx="109.2" cy="336.9" r="1.08"/><circle cx="110.7" cy="336.6" r="1.08"/><circle cx="101.8" cy="336.2" r="1.08"/><circle cx="112.1" cy="335.9" r="1.08"/><circle cx="100.4" cy="335.6" r="1.08"/><circle cx="113.6" cy="335.2" r="1.08"/><circle cx="106.5" cy="333.1" r="1.08"/><circle cx="105" cy="332.7" r="1.08"/><circle cx="108" cy="332.4" r="1.08"/><circle cx="103.6" cy="332" r="1.08"/><circle cx="109.5" cy="331.7" r="1.08"/><circle cx="102.1" cy="331.4" r="1.08"/><circle cx="111" cy="331" r="1.08"/><circle cx="100.6" cy="330.7" r="1.08"/><circle cx="112.4" cy="330.3" r="1.08"/><circle cx="113.9" cy="330" r="1.08"/><circle cx="106.5" cy="329.3" r="1.08"/><circle cx="105" cy="328.9" r="1.08"/><circle cx="108" cy="328.6" r="1.08"/><circle cx="103.6" cy="328.2" r="1.08"/><circle cx="109.5" cy="327.9" r="1.08"/><circle cx="102.1" cy="327.6" r="1.08"/><circle cx="111" cy="327.2" r="1.08"/><circle cx="100.6" cy="326.9" r="1.08"/><circle cx="112.4" cy="326.5" r="1.08"/><circle cx="106.5" cy="323.8" r="1.08"/><circle cx="105" cy="323.5" r="1.08"/><circle cx="108" cy="323.2" r="1.08"/><circle cx="103.6" cy="322.8" r="1.08"/><circle cx="106.5" cy="318.7" r="1.08"/><circle cx="105" cy="318.4" r="1.08"/><circle cx="126.8" cy="324.6" r="1.08"/><circle cx="125.3" cy="324.2" r="1.08"/><circle cx="128.3" cy="323.9" r="1.08"/><circle cx="123.9" cy="323.6" r="1.08"/><circle cx="129.3" cy="321.3" r="1.08"/><circle cx="126.7" cy="321" r="1.08"/><circle cx="125.2" cy="320.7" r="1.08"/><circle cx="123.2" cy="320.3" r="1.08"/><circle cx="130.7" cy="320" r="1.08"/><circle cx="121.7" cy="319.6" r="1.08"/><circle cx="128" cy="319.3" r="1.08"/><circle cx="132.2" cy="319" r="1.08"/><circle cx="120.3" cy="318.6" r="1.08"/><circle cx="133.6" cy="318.3" r="1.08"/><circle cx="118.8" cy="317.9" r="1.08"/><circle cx="126.8" cy="316.5" r="1.08"/><circle cx="125.3" cy="316.1" r="1.08"/><circle cx="128.3" cy="315.8" r="1.08"/><circle cx="123.9" cy="315.5" r="1.08"/><circle cx="129.8" cy="315.1" r="1.08"/><circle cx="122.4" cy="314.8" r="1.08"/><circle cx="131.3" cy="314.4" r="1.08"/><circle cx="120.9" cy="314.1" r="1.08"/><circle cx="126.8" cy="311.3" r="1.08"/><circle cx="125.3" cy="311" r="1.08"/><circle cx="128.3" cy="310.7" r="1.08"/><circle cx="123.9" cy="310.3" r="1.08"/><circle cx="129.8" cy="310" r="1.08"/><circle cx="122.4" cy="309.6" r="1.08"/><circle cx="126.8" cy="306.6" r="1.08"/><circle cx="125.3" cy="306.2" r="1.08"/><circle cx="128.3" cy="305.9" r="1.08"/><circle cx="123.9" cy="305.6" r="1.08"/><circle cx="129.8" cy="305.2" r="1.08"/><circle cx="122.4" cy="304.9" r="1.08"/><circle cx="131.2" cy="304.5" r="1.08"/><circle cx="126.8" cy="302.5" r="1.08"/><circle cx="125.3" cy="302.2" r="1.08"/><circle cx="128.3" cy="301.9" r="1.08"/><circle cx="129.8" cy="301.5" r="1.08"/><circle cx="123.9" cy="301.2" r="1.08"/><circle cx="126.8" cy="296.9" r="1.08"/><circle cx="125.3" cy="296.5" r="1.08"/><circle cx="128.3" cy="296.2" r="1.08"/></g><g fill="#c8620c"><circle cx="86.3" cy="313.7" r="1.15"/><circle cx="86.3" cy="316.6" r="1.15"/></g><rect x="31.5" y="291.7" width="109.5" height="83.3" fill="none" stroke="#4d4d4d" stroke-width="1.15"/><path d="M45.7 375v3.2M66 375v3.2M86.3 375v3.2M106.5 375v3.2M126.8 375v3.2M31.5 361.9h-3.2M31.5 345.2h-3.2M31.5 328.8h-3.2M31.5 312.4h-3.2M31.5 295.4h-3.2" stroke="#3a3a3a" stroke-width="1" fill="none"/><text transform="translate(45.7 388.3) scale(0.1)" text-anchor="middle" font-family="Liberation Sans" font-weight="normal" font-size="64" fill="#2a2a2a" stroke="#2a2a2a" stroke-width="1.8">31</text><text transform="translate(66 388.3) scale(0.1)" text-anchor="middle" font-family="Liberation Sans" font-weight="normal" font-size="64" fill="#2a2a2a" stroke="#2a2a2a" stroke-width="1.8">39</text><text transform="translate(86.3 388.3) scale(0.1)" text-anchor="middle" font-family="Liberation Sans" font-weight="normal" font-size="64" fill="#2a2a2a" stroke="#2a2a2a" stroke-width="1.8">42</text><text transform="translate(106.5 388.3) scale(0.1)" text-anchor="middle" font-family="Liberation Sans" font-weight="normal" font-size="64" fill="#2a2a2a" stroke="#2a2a2a" stroke-width="1.8">46</text><text transform="translate(126.8 388.3) scale(0.1)" text-anchor="middle" font-family="Liberation Sans" font-weight="normal" font-size="64" fill="#2a2a2a" stroke="#2a2a2a" stroke-width="1.8">51</text><text transform="translate(23.2 361.9) rotate(-90) scale(0.1)" text-anchor="middle" font-family="Liberation Sans" font-weight="normal" font-size="64" fill="#2a2a2a" stroke="#2a2a2a" stroke-width="1.8">0.6</text><text transform="translate(23.2 345.2) rotate(-90) scale(0.1)" text-anchor="middle" font-family="Liberation Sans" font-weight="normal" font-size="64" fill="#2a2a2a" stroke="#2a2a2a" stroke-width="1.8">0.8</text><text transform="translate(23.2 328.8) rotate(-90) scale(0.1)" text-anchor="middle" font-family="Liberation Sans" font-weight="normal" font-size="64" fill="#2a2a2a" stroke="#2a2a2a" stroke-width="1.8">1.0</text><text transform="translate(23.2 312.4) rotate(-90) scale(0.1)" text-anchor="middle" font-family="Liberation Sans" font-weight="normal" font-size="64" fill="#2a2a2a" stroke="#2a2a2a" stroke-width="1.8">1.2</text><text transform="translate(23.2 295.4) rotate(-90) scale(0.1)" text-anchor="middle" font-family="Liberation Sans" font-weight="normal" font-size="64" fill="#2a2a2a" stroke="#2a2a2a" stroke-width="1.8">1.4</text><text transform="translate(94 403) scale(0.1)" text-anchor="middle" font-family="Liberation Serif" font-weight="bold" font-size="82.5" fill="#1a1a1a" stroke="#1a1a1a" stroke-width="0.4">Days after sowing</text><text transform="translate(8.9 333.6) rotate(-90) scale(0.0876 0.1)" text-anchor="middle" font-family="Liberation Serif" font-weight="bold" font-size="69" fill="#1a1a1a" stroke="#1a1a1a" stroke-width="2.2">CIRE</text></g>
<g><text transform="translate(185.2 284.9) scale(0.1)" text-anchor="start" font-family="Liberation Sans" font-weight="bold" font-size="80" fill="#1a1a1a" stroke="#1a1a1a" stroke-width="1.2">(h)</text><path d="M199.7 352.3V343.6M199.7 362.8V372.3" stroke="#555" stroke-width="0.8" stroke-dasharray="1.6 1.6" fill="none"/><path d="M195.6 343.6H203.8M195.6 372.3H203.8" stroke="#666" stroke-width="0.9" fill="none"/><rect x="191.6" y="352.3" width="16.2" height="10.5" fill="#adf26c" stroke="#333" stroke-width="0.9"/><path d="M191.6 358.4H207.8" stroke="#000" stroke-width="2.2"/><path d="M220 336.3V327.8M220 343.3V353.5" stroke="#555" stroke-width="0.8" stroke-dasharray="1.6 1.6" fill="none"/><path d="M215.9 327.8H224.1M215.9 353.5H224.1" stroke="#666" stroke-width="0.9" fill="none"/><rect x="211.9" y="336.3" width="16.2" height="7" fill="#9ce45a" stroke="#333" stroke-width="0.9"/><path d="M211.9 340H228.1" stroke="#000" stroke-width="2.2"/><path d="M240.3 325.6V315.5M240.3 340.4V356.4" stroke="#555" stroke-width="0.8" stroke-dasharray="1.6 1.6" fill="none"/><path d="M236.2 315.5H244.4M236.2 356.4H244.4" stroke="#666" stroke-width="0.9" fill="none"/><rect x="232.2" y="325.6" width="16.2" height="14.8" fill="#90d848" stroke="#333" stroke-width="0.9"/><path d="M232.2 332.5H248.4" stroke="#000" stroke-width="2.2"/><path d="M260.5 332.5V323.5M260.5 348.9V363.8" stroke="#555" stroke-width="0.8" stroke-dasharray="1.6 1.6" fill="none"/><path d="M256.4 323.5H264.6M256.4 363.8H264.6" stroke="#666" stroke-width="0.9" fill="none"/><rect x="252.4" y="332.5" width="16.2" height="16.4" fill="#629a30" stroke="#333" stroke-width="0.9"/><path d="M252.4 340.7H268.6" stroke="#000" stroke-width="2.2"/><path d="M280.8 309.3V294.9M280.8 334.6V354.6" stroke="#555" stroke-width="0.8" stroke-dasharray="1.6 1.6" fill="none"/><path d="M276.7 294.9H284.9M276.7 354.6H284.9" stroke="#666" stroke-width="0.9" fill="none"/><rect x="272.7" y="309.3" width="16.2" height="25.3" fill="#4f7032" stroke="#333" stroke-width="0.9"/><path d="M272.7 321.2H288.9" stroke="#000" stroke-width="2.2"/><g fill="#f27e1a"><circle cx="199.7" cy="370.9" r="1.08"/><circle cx="198.2" cy="370.6" r="1.08"/><circle cx="201.2" cy="370.3" r="1.08"/><circle cx="199.7" cy="366.3" r="1.08"/><circle cx="198.2" cy="365.9" r="1.08"/><circle cx="201.2" cy="365.6" r="1.08"/><circle cx="202.7" cy="365.3" r="1.08"/><circle cx="196.8" cy="364.9" r="1.08"/><circle cx="204" cy="363.4" r="1.08"/><circle cx="195.5" cy="363.1" r="1.08"/><circle cx="199.4" cy="362.8" r="1.08"/><circle cx="197.9" cy="362.4" r="1.08"/><circle cx="200.9" cy="362.1" r="1.08"/><circle cx="202.4" cy="361.7" r="1.08"/><circle cx="205.2" cy="361.4" r="1.08"/><circle cx="194.2" cy="361.1" r="1.08"/><circle cx="192.7" cy="360.7" r="1.08"/><circle cx="196.7" cy="360.4" r="1.08"/><circle cx="206.6" cy="360" r="1.08"/><circle cx="203.6" cy="359.7" r="1.08"/><circle cx="199.7" cy="358.3" r="1.08"/><circle cx="198.2" cy="358" r="1.08"/><circle cx="201.2" cy="357.6" r="1.08"/><circle cx="195.9" cy="357.3" r="1.08"/><circle cx="204.6" cy="356.9" r="1.08"/><circle cx="202.6" cy="356.6" r="1.08"/><circle cx="194.5" cy="356.3" r="1.08"/><circle cx="206" cy="355.9" r="1.08"/><circle cx="193" cy="355.6" r="1.08"/><circle cx="199.7" cy="353.7" r="1.08"/><circle cx="198.2" cy="353.3" r="1.08"/><circle cx="201.2" cy="353" r="1.08"/><circle cx="196.7" cy="352.6" r="1.08"/><circle cx="202.6" cy="352.3" r="1.08"/><circle cx="204.1" cy="352" r="1.08"/><circle cx="195.3" cy="351.6" r="1.08"/><circle cx="193.8" cy="351.3" r="1.08"/><circle cx="205.6" cy="350.9" r="1.08"/><circle cx="199.7" cy="348.7" r="1.08"/><circle cx="198.2" cy="348.4" r="1.08"/><circle cx="201.2" cy="348" r="1.08"/><circle cx="196.7" cy="347.7" r="1.08"/><circle cx="199.7" cy="344.7" r="1.08"/><circle cx="198.2" cy="344.4" r="1.08"/><circle cx="219.1" cy="353.5" r="1.08"/><circle cx="220.3" cy="351.4" r="1.08"/><circle cx="221.8" cy="351.1" r="1.08"/><circle cx="220" cy="346.9" r="1.08"/><circle cx="218.5" cy="346.6" r="1.08"/><circle cx="221.5" cy="346.3" r="1.08"/><circle cx="222.9" cy="345.9" r="1.08"/><circle cx="217" cy="345.6" r="1.08"/><circle cx="224.3" cy="344.3" r="1.08"/><circle cx="215.7" cy="344" r="1.08"/><circle cx="219.4" cy="343.6" r="1.08"/><circle cx="225.7" cy="343.3" r="1.08"/><circle cx="220.9" cy="343" r="1.08"/><circle cx="217.9" cy="342.6" r="1.08"/><circle cx="222.3" cy="342.3" r="1.08"/><circle cx="214.5" cy="341.9" r="1.08"/><circle cx="213" cy="341.6" r="1.08"/><circle cx="227" cy="341.3" r="1.08"/><circle cx="216.6" cy="340.9" r="1.08"/><circle cx="223.6" cy="340.6" r="1.08"/><circle cx="211.6" cy="340.2" r="1.08"/><circle cx="220" cy="339.9" r="1.08"/><circle cx="225.1" cy="339.9" r="1.08"/><circle cx="228.3" cy="339.5" r="1.08"/><circle cx="218.5" cy="339.2" r="1.08"/><circle cx="221.4" cy="338.8" r="1.08"/><circle cx="215.5" cy="338.5" r="1.08"/><circle cx="214" cy="338.2" r="1.08"/><circle cx="226.4" cy="337.8" r="1.08"/><circle cx="217.2" cy="337.5" r="1.08"/><circle cx="222.7" cy="337.1" r="1.08"/><circle cx="224.2" cy="336.8" r="1.08"/><circle cx="219.5" cy="336.5" r="1.08"/><circle cx="212.8" cy="336.1" r="1.08"/><circle cx="227.6" cy="335.8" r="1.08"/><circle cx="211.3" cy="335.4" r="1.08"/><circle cx="220.8" cy="334.4" r="1.08"/><circle cx="218.4" cy="334.1" r="1.08"/><circle cx="222.2" cy="333.7" r="1.08"/><circle cx="216.9" cy="333.4" r="1.08"/><circle cx="223.7" cy="333.1" r="1.08"/><circle cx="220" cy="329.5" r="1.08"/><circle cx="218.5" cy="329.2" r="1.08"/><circle cx="221.5" cy="328.8" r="1.08"/><circle cx="220" cy="356.4" r="1.08"/><circle cx="240.3" cy="355.2" r="1.08"/><circle cx="238.8" cy="354.9" r="1.08"/><circle cx="240.3" cy="349.7" r="1.08"/><circle cx="238.8" cy="349.4" r="1.08"/><circle cx="240.3" cy="345.3" r="1.08"/><circle cx="238.8" cy="344.9" r="1.08"/><circle cx="241.7" cy="344.6" r="1.08"/><circle cx="240.3" cy="341.6" r="1.08"/><circle cx="238.8" cy="341.3" r="1.08"/><circle cx="241.7" cy="340.9" r="1.08"/><circle cx="237.3" cy="340.6" r="1.08"/><circle cx="243.2" cy="340.2" r="1.08"/><circle cx="235.8" cy="339.9" r="1.08"/><circle cx="244.7" cy="339.6" r="1.08"/><circle cx="240.3" cy="337.1" r="1.08"/><circle cx="238.8" cy="336.7" r="1.08"/><circle cx="241.7" cy="336.4" r="1.08"/><circle cx="237.3" cy="336.1" r="1.08"/><circle cx="243.2" cy="335.7" r="1.08"/><circle cx="235.8" cy="335.4" r="1.08"/><circle cx="240.3" cy="332.6" r="1.08"/><circle cx="238.8" cy="332.2" r="1.08"/><circle cx="241.7" cy="331.9" r="1.08"/><circle cx="237.3" cy="331.6" r="1.08"/><circle cx="243.2" cy="331.2" r="1.08"/><circle cx="235.8" cy="330.9" r="1.08"/><circle cx="244.7" cy="330.5" r="1.08"/><circle cx="240.3" cy="328.1" r="1.08"/><circle cx="238.8" cy="327.7" r="1.08"/><circle cx="241.7" cy="327.4" r="1.08"/><circle cx="237.3" cy="327" r="1.08"/><circle cx="243.2" cy="326.7" r="1.08"/><circle cx="235.8" cy="326.4" r="1.08"/><circle cx="244.7" cy="326" r="1.08"/><circle cx="234.3" cy="325.7" r="1.08"/><circle cx="240.3" cy="324.2" r="1.08"/><circle cx="238.8" cy="323.8" r="1.08"/><circle cx="241.7" cy="323.5" r="1.08"/><circle cx="237.3" cy="323.1" r="1.08"/><circle cx="243.2" cy="322.8" r="1.08"/><circle cx="240.3" cy="319.3" r="1.08"/><circle cx="238.8" cy="318.9" r="1.08"/><circle cx="241.7" cy="318.6" r="1.08"/><circle cx="240.3" cy="315.5" r="1.08"/><circle cx="260.5" cy="362.9" r="1.08"/><circle cx="259" cy="362.5" r="1.08"/><circle cx="260.5" cy="358.4" r="1.08"/><circle cx="259.7" cy="355.4" r="1.08"/><circle cx="261.2" cy="355" r="1.08"/><circle cx="262.7" cy="354.7" r="1.08"/><circle cx="260.5" cy="350.8" r="1.08"/><circle cx="259" cy="350.4" r="1.08"/><circle cx="262" cy="350.1" r="1.08"/><circle cx="257.6" cy="349.7" r="1.08"/><circle cx="263.5" cy="349.4" r="1.08"/><circle cx="256.1" cy="349.1" r="1.08"/><circle cx="260.5" cy="346.8" r="1.08"/><circle cx="259" cy="346.5" r="1.08"/><circle cx="262" cy="346.2" r="1.08"/><circle cx="257.6" cy="345.8" r="1.08"/><circle cx="263.5" cy="345.5" r="1.08"/><circle cx="256.1" cy="345.1" r="1.08"/><circle cx="260.5" cy="342.3" r="1.08"/><circle cx="259" cy="341.9" r="1.08"/><circle cx="262" cy="341.6" r="1.08"/><circle cx="257.6" cy="341.3" r="1.08"/><circle cx="263.5" cy="340.9" r="1.08"/><circle cx="256.1" cy="340.6" r="1.08"/><circle cx="260.5" cy="337.7" r="1.08"/><circle cx="259" cy="337.3" r="1.08"/><circle cx="262" cy="337" r="1.08"/><circle cx="257.6" cy="336.6" r="1.08"/><circle cx="263.5" cy="336.3" r="1.08"/><circle cx="256.1" cy="336" r="1.08"/><circle cx="260.5" cy="333.5" r="1.08"/><circle cx="259" cy="333.1" r="1.08"/><circle cx="262" cy="332.8" r="1.08"/><circle cx="257.6" cy="332.4" r="1.08"/><circle cx="263.5" cy="332.1" r="1.08"/><circle cx="265" cy="331.8" r="1.08"/><circle cx="256.1" cy="331.4" r="1.08"/><circle cx="254.6" cy="331.1" r="1.08"/><circle cx="266.4" cy="330.7" r="1.08"/><circle cx="260.5" cy="328.3" r="1.08"/><circle cx="259" cy="327.9" r="1.08"/><circle cx="262" cy="327.6" r="1.08"/><circle cx="260.5" cy="324.4" r="1.08"/><circle cx="259" cy="324.1" r="1.08"/><circle cx="280.8" cy="354.6" r="1.08"/><circle cx="280.8" cy="349.6" r="1.08"/><circle cx="279.3" cy="349.3" r="1.08"/><circle cx="280.8" cy="344.5" r="1.08"/><circle cx="280.8" cy="340.5" r="1.08"/><circle cx="279.3" cy="340.2" r="1.08"/><circle cx="282.3" cy="339.8" r="1.08"/><circle cx="280.8" cy="336" r="1.08"/><circle cx="279.3" cy="335.7" r="1.08"/><circle cx="282.3" cy="335.3" r="1.08"/><circle cx="283.8" cy="335" r="1.08"/><circle cx="277.9" cy="334.7" r="1.08"/><circle cx="280.8" cy="331.7" r="1.08"/><circle cx="279.3" cy="331.4" r="1.08"/><circle cx="282.3" cy="331" r="1.08"/><circle cx="277.9" cy="330.7" r="1.08"/><circle cx="280.8" cy="326.7" r="1.08"/><circle cx="279.3" cy="326.3" r="1.08"/><circle cx="282.3" cy="326" r="1.08"/><circle cx="277.9" cy="325.7" r="1.08"/><circle cx="280.8" cy="322.1" r="1.08"/><circle cx="279.3" cy="321.8" r="1.08"/><circle cx="282.3" cy="321.5" r="1.08"/><circle cx="280.8" cy="318.4" r="1.08"/><circle cx="279.3" cy="318" r="1.08"/><circle cx="282.3" cy="317.7" r="1.08"/><circle cx="277.9" cy="317.4" r="1.08"/><circle cx="280.8" cy="313.6" r="1.08"/><circle cx="279.3" cy="313.3" r="1.08"/><circle cx="282.3" cy="312.9" r="1.08"/><circle cx="283.8" cy="312.6" r="1.08"/><circle cx="277.9" cy="312.2" r="1.08"/><circle cx="280.8" cy="309.2" r="1.08"/><circle cx="279.3" cy="308.8" r="1.08"/><circle cx="282.3" cy="308.5" r="1.08"/><circle cx="277.9" cy="308.1" r="1.08"/><circle cx="283.8" cy="307.8" r="1.08"/><circle cx="276.4" cy="307.5" r="1.08"/><circle cx="280.8" cy="304.1" r="1.08"/><circle cx="279.3" cy="303.8" r="1.08"/><circle cx="282.3" cy="303.5" r="1.08"/><circle cx="280.8" cy="298.7" r="1.08"/><circle cx="279.3" cy="298.4" r="1.08"/><circle cx="280.8" cy="294.9" r="1.08"/></g><g fill="#c8620c"><circle cx="220" cy="356.4" r="1.15"/></g><rect x="185.5" y="291.7" width="109.5" height="83.3" fill="none" stroke="#4d4d4d" stroke-width="1.15"/><path d="M199.7 375v3.2M220 375v3.2M240.3 375v3.2M260.5 375v3.2M280.8 375v3.2M185.5 361.6h-3.2M185.5 344.8h-3.2M185.5 327.6h-3.2M185.5 310.3h-3.2M185.5 293.4h-3.2" stroke="#3a3a3a" stroke-width="1" fill="none"/><text transform="translate(199.7 388.3) scale(0.1)" text-anchor="middle" font-family="Liberation Sans" font-weight="normal" font-size="64" fill="#2a2a2a" stroke="#2a2a2a" stroke-width="1.8">31</text><text transform="translate(220 388.3) scale(0.1)" text-anchor="middle" font-family="Liberation Sans" font-weight="normal" font-size="64" fill="#2a2a2a" stroke="#2a2a2a" stroke-width="1.8">39</text><text transform="translate(240.3 388.3) scale(0.1)" text-anchor="middle" font-family="Liberation Sans" font-weight="normal" font-size="64" fill="#2a2a2a" stroke="#2a2a2a" stroke-width="1.8">42</text><text transform="translate(260.5 388.3) scale(0.1)" text-anchor="middle" font-family="Liberation Sans" font-weight="normal" font-size="64" fill="#2a2a2a" stroke="#2a2a2a" stroke-width="1.8">46</text><text transform="translate(280.8 388.3) scale(0.1)" text-anchor="middle" font-family="Liberation Sans" font-weight="normal" font-size="64" fill="#2a2a2a" stroke="#2a2a2a" stroke-width="1.8">51</text><text transform="translate(178 361.6) rotate(-90) scale(0.1)" text-anchor="middle" font-family="Liberation Sans" font-weight="normal" font-size="64" fill="#2a2a2a" stroke="#2a2a2a" stroke-width="1.8">3.0</text><text transform="translate(178 344.8) rotate(-90) scale(0.1)" text-anchor="middle" font-family="Liberation Sans" font-weight="normal" font-size="64" fill="#2a2a2a" stroke="#2a2a2a" stroke-width="1.8">3.5</text><text transform="translate(178 327.6) rotate(-90) scale(0.1)" text-anchor="middle" font-family="Liberation Sans" font-weight="normal" font-size="64" fill="#2a2a2a" stroke="#2a2a2a" stroke-width="1.8">4.0</text><text transform="translate(178 310.3) rotate(-90) scale(0.1)" text-anchor="middle" font-family="Liberation Sans" font-weight="normal" font-size="64" fill="#2a2a2a" stroke="#2a2a2a" stroke-width="1.8">4.5</text><text transform="translate(178 293.4) rotate(-90) scale(0.1)" text-anchor="middle" font-family="Liberation Sans" font-weight="normal" font-size="64" fill="#2a2a2a" stroke="#2a2a2a" stroke-width="1.8">5.0</text><text transform="translate(248 403) scale(0.1)" text-anchor="middle" font-family="Liberation Serif" font-weight="bold" font-size="82.5" fill="#1a1a1a" stroke="#1a1a1a" stroke-width="0.4">Days after sowing</text><text transform="translate(163 332.9) rotate(-90) scale(0.0906 0.1)" text-anchor="middle" font-family="Liberation Serif" font-weight="bold" font-size="69" fill="#1a1a1a" stroke="#1a1a1a" stroke-width="2.2">CVI</text></g>
<g><text transform="translate(339.2 284.9) scale(0.1)" text-anchor="start" font-family="Liberation Sans" font-weight="bold" font-size="80" fill="#1a1a1a" stroke="#1a1a1a" stroke-width="1.2">(i)</text><path d="M353.7 330.9V320.7M353.7 337.9V347.2" stroke="#555" stroke-width="0.8" stroke-dasharray="1.6 1.6" fill="none"/><path d="M349.6 320.7H357.8M349.6 347.2H357.8" stroke="#666" stroke-width="0.9" fill="none"/><rect x="345.6" y="330.9" width="16.2" height="7" fill="#90d848" stroke="#333" stroke-width="0.9"/><path d="M345.6 334.1H361.8" stroke="#000" stroke-width="2.2"/><path d="M374 333.5V321.5M374 351.8V358.4" stroke="#555" stroke-width="0.8" stroke-dasharray="1.6 1.6" fill="none"/><path d="M369.9 321.5H378.1M369.9 358.4H378.1" stroke="#666" stroke-width="0.9" fill="none"/><rect x="365.9" y="333.5" width="16.2" height="18.3" fill="#adf26c" stroke="#333" stroke-width="0.9"/><path d="M365.9 341.2H382.1" stroke="#000" stroke-width="2.2"/><path d="M394.3 337.1V321.5M394.3 356.4V372.3" stroke="#555" stroke-width="0.8" stroke-dasharray="1.6 1.6" fill="none"/><path d="M390.2 321.5H398.4M390.2 372.3H398.4" stroke="#666" stroke-width="0.9" fill="none"/><rect x="386.2" y="337.1" width="16.2" height="19.3" fill="#90d848" stroke="#333" stroke-width="0.9"/><path d="M386.2 347.7H402.4" stroke="#000" stroke-width="2.2"/><path d="M414.5 312.1V296.5M414.5 333.5V345.6" stroke="#555" stroke-width="0.8" stroke-dasharray="1.6 1.6" fill="none"/><path d="M410.4 296.5H418.6M410.4 345.6H418.6" stroke="#666" stroke-width="0.9" fill="none"/><rect x="406.4" y="312.1" width="16.2" height="21.4" fill="#629a30" stroke="#333" stroke-width="0.9"/><path d="M406.4 326H422.6" stroke="#000" stroke-width="2.2"/><path d="M434.8 311.2V294.9M434.8 336.6V355.4" stroke="#555" stroke-width="0.8" stroke-dasharray="1.6 1.6" fill="none"/><path d="M430.7 294.9H438.9M430.7 355.4H438.9" stroke="#666" stroke-width="0.9" fill="none"/><rect x="426.7" y="311.2" width="16.2" height="25.4" fill="#4f7032" stroke="#333" stroke-width="0.9"/><path d="M426.7 327.3H442.9" stroke="#000" stroke-width="2.2"/><g fill="#f27e1a"><circle cx="353.1" cy="346.6" r="1.08"/><circle cx="354.6" cy="346.2" r="1.08"/><circle cx="353.7" cy="343.3" r="1.08"/><circle cx="352.2" cy="342.9" r="1.08"/><circle cx="355.2" cy="342.6" r="1.08"/><circle cx="353.3" cy="339.8" r="1.08"/><circle cx="351.8" cy="339.5" r="1.08"/><circle cx="354.8" cy="339.2" r="1.08"/><circle cx="356.3" cy="338.8" r="1.08"/><circle cx="350.4" cy="338.5" r="1.08"/><circle cx="357.7" cy="338.1" r="1.08"/><circle cx="348.9" cy="337.8" r="1.08"/><circle cx="359.2" cy="337.5" r="1.08"/><circle cx="347.4" cy="337.1" r="1.08"/><circle cx="360.7" cy="336.8" r="1.08"/><circle cx="352.8" cy="336.4" r="1.08"/><circle cx="346" cy="336.1" r="1.08"/><circle cx="354.3" cy="335.7" r="1.08"/><circle cx="355.8" cy="335.4" r="1.08"/><circle cx="351.4" cy="335" r="1.08"/><circle cx="357.2" cy="334.7" r="1.08"/><circle cx="349.9" cy="334.4" r="1.08"/><circle cx="358.7" cy="334" r="1.08"/><circle cx="348.5" cy="333.7" r="1.08"/><circle cx="360.2" cy="333.3" r="1.08"/><circle cx="353.3" cy="333" r="1.08"/><circle cx="347" cy="332.7" r="1.08"/><circle cx="354.8" cy="332.3" r="1.08"/><circle cx="361.6" cy="332" r="1.08"/><circle cx="356.2" cy="331.6" r="1.08"/><circle cx="351.9" cy="331.6" r="1.08"/><circle cx="357.7" cy="331.3" r="1.08"/><circle cx="350.4" cy="330.9" r="1.08"/><circle cx="359.2" cy="330.6" r="1.08"/><circle cx="349" cy="330.2" r="1.08"/><circle cx="346.1" cy="329.9" r="1.08"/><circle cx="353.7" cy="329.6" r="1.08"/><circle cx="360.6" cy="329.2" r="1.08"/><circle cx="355.2" cy="328.9" r="1.08"/><circle cx="353.5" cy="326" r="1.08"/><circle cx="352" cy="325.6" r="1.08"/><circle cx="355" cy="325.3" r="1.08"/><circle cx="353.7" cy="321.6" r="1.08"/><circle cx="352.2" cy="321.2" r="1.08"/><circle cx="353.7" cy="310.4" r="1.08"/><circle cx="354.9" cy="316.6" r="1.08"/><circle cx="353.5" cy="318" r="1.08"/><circle cx="353.7" cy="349.9" r="1.08"/><circle cx="374" cy="358.4" r="1.08"/><circle cx="373" cy="355.8" r="1.08"/><circle cx="374.8" cy="355.4" r="1.08"/><circle cx="376.3" cy="355.1" r="1.08"/><circle cx="371.5" cy="354.7" r="1.08"/><circle cx="377.8" cy="354.4" r="1.08"/><circle cx="370" cy="354.1" r="1.08"/><circle cx="373.9" cy="352.6" r="1.08"/><circle cx="379" cy="352.2" r="1.08"/><circle cx="375.4" cy="351.9" r="1.08"/><circle cx="372.5" cy="351.5" r="1.08"/><circle cx="376.9" cy="351.2" r="1.08"/><circle cx="371" cy="350.9" r="1.08"/><circle cx="369.5" cy="350.5" r="1.08"/><circle cx="374" cy="347.2" r="1.08"/><circle cx="372.5" cy="346.9" r="1.08"/><circle cx="375.5" cy="346.5" r="1.08"/><circle cx="376.9" cy="346.2" r="1.08"/><circle cx="371" cy="345.8" r="1.08"/><circle cx="374" cy="342.5" r="1.08"/><circle cx="372.5" cy="342.1" r="1.08"/><circle cx="375.5" cy="341.8" r="1.08"/><circle cx="376.9" cy="341.4" r="1.08"/><circle cx="371" cy="341.1" r="1.08"/><circle cx="374" cy="338.2" r="1.08"/><circle cx="372.5" cy="337.9" r="1.08"/><circle cx="375.5" cy="337.6" r="1.08"/><circle cx="371" cy="337.2" r="1.08"/><circle cx="376.9" cy="336.9" r="1.08"/><circle cx="369.5" cy="336.5" r="1.08"/><circle cx="378.4" cy="336.2" r="1.08"/><circle cx="374" cy="334" r="1.08"/><circle cx="372.5" cy="333.7" r="1.08"/><circle cx="375.5" cy="333.4" r="1.08"/><circle cx="371" cy="333" r="1.08"/><circle cx="376.9" cy="332.7" r="1.08"/><circle cx="369.5" cy="332.3" r="1.08"/><circle cx="378.4" cy="332" r="1.08"/><circle cx="374" cy="329.1" r="1.08"/><circle cx="372.5" cy="328.7" r="1.08"/><circle cx="375.5" cy="328.4" r="1.08"/><circle cx="374" cy="324.2" r="1.08"/><circle cx="372.5" cy="323.8" r="1.08"/><circle cx="375.5" cy="323.5" r="1.08"/><circle cx="374" cy="304" r="1.08"/><circle cx="394.3" cy="371.3" r="1.08"/><circle cx="392.8" cy="370.9" r="1.08"/><circle cx="394.3" cy="365.5" r="1.08"/><circle cx="392.8" cy="365.2" r="1.08"/><circle cx="394.3" cy="361.4" r="1.08"/><circle cx="392.8" cy="361" r="1.08"/><circle cx="395.7" cy="360.7" r="1.08"/><circle cx="394.3" cy="357.6" r="1.08"/><circle cx="392.8" cy="357.3" r="1.08"/><circle cx="395.7" cy="357" r="1.08"/><circle cx="391.3" cy="356.6" r="1.08"/><circle cx="397.2" cy="356.3" r="1.08"/><circle cx="389.8" cy="355.9" r="1.08"/><circle cx="394.3" cy="353.5" r="1.08"/><circle cx="392.8" cy="353.1" r="1.08"/><circle cx="395.7" cy="352.8" r="1.08"/><circle cx="391.3" cy="352.4" r="1.08"/><circle cx="397.2" cy="352.1" r="1.08"/><circle cx="389.8" cy="351.8" r="1.08"/><circle cx="394.3" cy="348.7" r="1.08"/><circle cx="392.8" cy="348.4" r="1.08"/><circle cx="395.7" cy="348" r="1.08"/><circle cx="397.2" cy="347.7" r="1.08"/><circle cx="391.3" cy="347.3" r="1.08"/><circle cx="394.3" cy="344.3" r="1.08"/><circle cx="392.8" cy="344" r="1.08"/><circle cx="395.7" cy="343.6" r="1.08"/><circle cx="391.3" cy="343.3" r="1.08"/><circle cx="394.3" cy="339.8" r="1.08"/><circle cx="392.8" cy="339.5" r="1.08"/><circle cx="395.7" cy="339.1" r="1.08"/><circle cx="391.3" cy="338.8" r="1.08"/><circle cx="397.2" cy="338.5" r="1.08"/><circle cx="389.8" cy="338.1" r="1.08"/><circle cx="394.3" cy="335.6" r="1.08"/><circle cx="392.8" cy="335.3" r="1.08"/><circle cx="395.7" cy="334.9" r="1.08"/><circle cx="397.2" cy="334.6" r="1.08"/><circle cx="391.3" cy="334.2" r="1.08"/><circle cx="394.3" cy="330.3" r="1.08"/><circle cx="392.8" cy="329.9" r="1.08"/><circle cx="394.3" cy="326" r="1.08"/><circle cx="392.8" cy="325.7" r="1.08"/><circle cx="394.3" cy="321.5" r="1.08"/><circle cx="414.5" cy="345.6" r="1.08"/><circle cx="414.1" cy="342.2" r="1.08"/><circle cx="415.6" cy="341.8" r="1.08"/><circle cx="414.5" cy="338.2" r="1.08"/><circle cx="413" cy="337.9" r="1.08"/><circle cx="416" cy="337.5" r="1.08"/><circle cx="411.6" cy="337.2" r="1.08"/><circle cx="414.5" cy="334.5" r="1.08"/><circle cx="413" cy="334.1" r="1.08"/><circle cx="416" cy="333.8" r="1.08"/><circle cx="411.6" cy="333.4" r="1.08"/><circle cx="417.5" cy="333.1" r="1.08"/><circle cx="410.1" cy="332.8" r="1.08"/><circle cx="419" cy="332.4" r="1.08"/><circle cx="408.6" cy="332.1" r="1.08"/><circle cx="414.5" cy="329.6" r="1.08"/><circle cx="413" cy="329.3" r="1.08"/><circle cx="416" cy="329" r="1.08"/><circle cx="411.6" cy="328.6" r="1.08"/><circle cx="417.5" cy="328.3" r="1.08"/><circle cx="410.1" cy="327.9" r="1.08"/><circle cx="414.5" cy="325.3" r="1.08"/><circle cx="413" cy="324.9" r="1.08"/><circle cx="416" cy="324.6" r="1.08"/><circle cx="411.6" cy="324.2" r="1.08"/><circle cx="414.5" cy="320.1" r="1.08"/><circle cx="413" cy="319.7" r="1.08"/><circle cx="416" cy="319.4" r="1.08"/><circle cx="411.6" cy="319.1" r="1.08"/><circle cx="414.5" cy="315.4" r="1.08"/><circle cx="413" cy="315.1" r="1.08"/><circle cx="416" cy="314.7" r="1.08"/><circle cx="414.2" cy="311.9" r="1.08"/><circle cx="412.7" cy="311.6" r="1.08"/><circle cx="415.7" cy="311.2" r="1.08"/><circle cx="417.2" cy="310.9" r="1.08"/><circle cx="411.3" cy="310.5" r="1.08"/><circle cx="418.7" cy="310.2" r="1.08"/><circle cx="414.5" cy="307.3" r="1.08"/><circle cx="413" cy="306.9" r="1.08"/><circle cx="414.5" cy="303" r="1.08"/><circle cx="413" cy="302.6" r="1.08"/><circle cx="414.5" cy="297.9" r="1.08"/><circle cx="413" cy="297.6" r="1.08"/><circle cx="434.8" cy="355.4" r="1.08"/><circle cx="434.8" cy="350.6" r="1.08"/><circle cx="433.3" cy="350.3" r="1.08"/><circle cx="434.8" cy="345.9" r="1.08"/><circle cx="434.5" cy="342.4" r="1.08"/><circle cx="436" cy="342.1" r="1.08"/><circle cx="433" cy="341.7" r="1.08"/><circle cx="434.8" cy="338" r="1.08"/><circle cx="433.3" cy="337.7" r="1.08"/><circle cx="436.3" cy="337.3" r="1.08"/><circle cx="437.8" cy="337" r="1.08"/><circle cx="431.9" cy="336.7" r="1.08"/><circle cx="434.8" cy="334.3" r="1.08"/><circle cx="433.3" cy="333.9" r="1.08"/><circle cx="436.3" cy="333.6" r="1.08"/><circle cx="437.8" cy="333.2" r="1.08"/><circle cx="431.9" cy="332.9" r="1.08"/><circle cx="430.4" cy="332.6" r="1.08"/><circle cx="434.8" cy="329.6" r="1.08"/><circle cx="433.3" cy="329.2" r="1.08"/><circle cx="436.3" cy="328.9" r="1.08"/><circle cx="431.9" cy="328.6" r="1.08"/><circle cx="434.8" cy="324.7" r="1.08"/><circle cx="433.3" cy="324.3" r="1.08"/><circle cx="436.3" cy="324" r="1.08"/><circle cx="431.9" cy="323.7" r="1.08"/><circle cx="434.8" cy="319.9" r="1.08"/><circle cx="433.3" cy="319.6" r="1.08"/><circle cx="434.7" cy="316.4" r="1.08"/><circle cx="436.2" cy="316" r="1.08"/><circle cx="433.2" cy="315.7" r="1.08"/><circle cx="434.8" cy="311.8" r="1.08"/><circle cx="433.3" cy="311.5" r="1.08"/><circle cx="436.3" cy="311.1" r="1.08"/><circle cx="431.9" cy="310.8" r="1.08"/><circle cx="437.8" cy="310.5" r="1.08"/><circle cx="430.4" cy="310.1" r="1.08"/><circle cx="434.8" cy="306.9" r="1.08"/><circle cx="433.3" cy="306.5" r="1.08"/><circle cx="436.3" cy="306.2" r="1.08"/><circle cx="434.8" cy="302.1" r="1.08"/><circle cx="433.3" cy="301.8" r="1.08"/><circle cx="434.8" cy="296.3" r="1.08"/><circle cx="433.3" cy="295.9" r="1.08"/></g><g fill="#c8620c"><circle cx="353.7" cy="310.4" r="1.15"/><circle cx="353.7" cy="316.6" r="1.15"/><circle cx="353.7" cy="318" r="1.15"/><circle cx="353.7" cy="349.9" r="1.15"/><circle cx="374" cy="304" r="1.15"/></g><rect x="339.5" y="291.7" width="109.5" height="83.3" fill="none" stroke="#4d4d4d" stroke-width="1.15"/><path d="M353.7 375v3.2M374 375v3.2M394.3 375v3.2M414.5 375v3.2M434.8 375v3.2M339.5 358.7h-3.2M339.5 342.1h-3.2M339.5 325.3h-3.2M339.5 308.6h-3.2M339.5 292h-3.2" stroke="#3a3a3a" stroke-width="1" fill="none"/><text transform="translate(353.7 388.3) scale(0.1)" text-anchor="middle" font-family="Liberation Sans" font-weight="normal" font-size="64" fill="#2a2a2a" stroke="#2a2a2a" stroke-width="1.8">31</text><text transform="translate(374 388.3) scale(0.1)" text-anchor="middle" font-family="Liberation Sans" font-weight="normal" font-size="64" fill="#2a2a2a" stroke="#2a2a2a" stroke-width="1.8">39</text><text transform="translate(394.3 388.3) scale(0.1)" text-anchor="middle" font-family="Liberation Sans" font-weight="normal" font-size="64" fill="#2a2a2a" stroke="#2a2a2a" stroke-width="1.8">42</text><text transform="translate(414.5 388.3) scale(0.1)" text-anchor="middle" font-family="Liberation Sans" font-weight="normal" font-size="64" fill="#2a2a2a" stroke="#2a2a2a" stroke-width="1.8">46</text><text transform="translate(434.8 388.3) scale(0.1)" text-anchor="middle" font-family="Liberation Sans" font-weight="normal" font-size="64" fill="#2a2a2a" stroke="#2a2a2a" stroke-width="1.8">51</text><text transform="translate(331.5 358.7) rotate(-90) scale(0.1)" text-anchor="middle" font-family="Liberation Sans" font-weight="normal" font-size="64" fill="#2a2a2a" stroke="#2a2a2a" stroke-width="1.8">0.4</text><text transform="translate(331.5 342.1) rotate(-90) scale(0.1)" text-anchor="middle" font-family="Liberation Sans" font-weight="normal" font-size="64" fill="#2a2a2a" stroke="#2a2a2a" stroke-width="1.8">0.6</text><text transform="translate(331.5 325.3) rotate(-90) scale(0.1)" text-anchor="middle" font-family="Liberation Sans" font-weight="normal" font-size="64" fill="#2a2a2a" stroke="#2a2a2a" stroke-width="1.8">0.8</text><text transform="translate(331.5 308.6) rotate(-90) scale(0.1)" text-anchor="middle" font-family="Liberation Sans" font-weight="normal" font-size="64" fill="#2a2a2a" stroke="#2a2a2a" stroke-width="1.8">1.0</text><text transform="translate(331.5 292) rotate(-90) scale(0.1)" text-anchor="middle" font-family="Liberation Sans" font-weight="normal" font-size="64" fill="#2a2a2a" stroke="#2a2a2a" stroke-width="1.8">1.2</text><text transform="translate(402 403) scale(0.1)" text-anchor="middle" font-family="Liberation Serif" font-weight="bold" font-size="82.5" fill="#1a1a1a" stroke="#1a1a1a" stroke-width="0.4">Days after sowing</text><text transform="translate(316.9 332.2) rotate(-90) scale(0.0887 0.1)" text-anchor="middle" font-family="Liberation Serif" font-weight="bold" font-size="69" fill="#1a1a1a" stroke="#1a1a1a" stroke-width="2.2">MCARI</text></g>
<g><text transform="translate(31.2 424.9) scale(0.1)" text-anchor="start" font-family="Liberation Sans" font-weight="bold" font-size="80" fill="#1a1a1a" stroke="#1a1a1a" stroke-width="1.2">(j)</text><path d="M45.7 505.2V503.6M45.7 507.9V513.4" stroke="#555" stroke-width="0.8" stroke-dasharray="1.6 1.6" fill="none"/><path d="M41.6 503.6H49.8M41.6 513.4H49.8" stroke="#666" stroke-width="0.9" fill="none"/><rect x="37.6" y="505.2" width="16.2" height="2.7" fill="#adf26c" stroke="#333" stroke-width="0.9"/><path d="M37.6 506.5H53.8" stroke="#000" stroke-width="2.2"/><path d="M66 460.7V454.5M66 471.4V476.3" stroke="#555" stroke-width="0.8" stroke-dasharray="1.6 1.6" fill="none"/><path d="M61.9 454.5H70.1M61.9 476.3H70.1" stroke="#666" stroke-width="0.9" fill="none"/><rect x="57.9" y="460.7" width="16.2" height="10.7" fill="#90d848" stroke="#333" stroke-width="0.9"/><path d="M57.9 466H74.1" stroke="#000" stroke-width="2.2"/><path d="M86.3 459.9V445.7M86.3 471.4V479.5" stroke="#555" stroke-width="0.8" stroke-dasharray="1.6 1.6" fill="none"/><path d="M82.2 445.7H90.4M82.2 479.5H90.4" stroke="#666" stroke-width="0.9" fill="none"/><rect x="78.2" y="459.9" width="16.2" height="11.5" fill="#90d848" stroke="#333" stroke-width="0.9"/><path d="M78.2 466H94.4" stroke="#000" stroke-width="2.2"/><path d="M106.5 446.8V435.9M106.5 455V462" stroke="#555" stroke-width="0.8" stroke-dasharray="1.6 1.6" fill="none"/><path d="M102.4 435.9H110.6M102.4 462H110.6" stroke="#666" stroke-width="0.9" fill="none"/><rect x="98.4" y="446.8" width="16.2" height="8.2" fill="#629a30" stroke="#333" stroke-width="0.9"/><path d="M98.4 452.9H114.6" stroke="#000" stroke-width="2.2"/><path d="M126.8 444V436.2M126.8 450.6V458.8" stroke="#555" stroke-width="0.8" stroke-dasharray="1.6 1.6" fill="none"/><path d="M122.7 436.2H130.9M122.7 458.8H130.9" stroke="#666" stroke-width="0.9" fill="none"/><rect x="118.7" y="444" width="16.2" height="6.6" fill="#4f7032" stroke="#333" stroke-width="0.9"/><path d="M118.7 447.3H134.9" stroke="#000" stroke-width="2.2"/><g fill="#f27e1a"><circle cx="45.7" cy="512.4" r="1.08"/><circle cx="44.2" cy="512.1" r="1.08"/><circle cx="47.2" cy="511.7" r="1.08"/><circle cx="42.7" cy="511.4" r="1.08"/><circle cx="50.2" cy="511" r="1.08"/><circle cx="48.7" cy="511.2" r="1.08"/><circle cx="41.2" cy="510.9" r="1.08"/><circle cx="51.6" cy="510.6" r="1.08"/><circle cx="39.8" cy="510.2" r="1.08"/><circle cx="53.1" cy="509.9" r="1.08"/><circle cx="38.3" cy="509.5" r="1.08"/><circle cx="54.6" cy="509.2" r="1.08"/><circle cx="45.4" cy="508.9" r="1.08"/><circle cx="43.9" cy="508.5" r="1.08"/><circle cx="46.9" cy="508.2" r="1.08"/><circle cx="42.5" cy="507.8" r="1.08"/><circle cx="48.4" cy="507.5" r="1.08"/><circle cx="49.9" cy="507.2" r="1.08"/><circle cx="51.4" cy="506.8" r="1.08"/><circle cx="37.5" cy="506.5" r="1.08"/><circle cx="55.4" cy="506.1" r="1.08"/><circle cx="34.5" cy="505.8" r="1.08"/><circle cx="44.9" cy="505.5" r="1.08"/><circle cx="58.3" cy="505.1" r="1.08"/><circle cx="46.4" cy="504.8" r="1.08"/><circle cx="59.8" cy="504.4" r="1.08"/><circle cx="47.9" cy="504.1" r="1.08"/><circle cx="49.4" cy="503.8" r="1.08"/><circle cx="50.9" cy="503.4" r="1.08"/><circle cx="37" cy="503.1" r="1.08"/><circle cx="41" cy="507" r="1.08"/><circle cx="39.5" cy="506.6" r="1.08"/><circle cx="52.9" cy="506.3" r="1.08"/><circle cx="36" cy="505.9" r="1.08"/><circle cx="56.9" cy="505.6" r="1.08"/><circle cx="33" cy="505.3" r="1.08"/><circle cx="43.5" cy="504.9" r="1.08"/><circle cx="31.6" cy="504.6" r="1.08"/><circle cx="54.1" cy="504.2" r="1.08"/><circle cx="42" cy="503.9" r="1.08"/><circle cx="40.5" cy="503.6" r="1.08"/><circle cx="39" cy="503.2" r="1.08"/><circle cx="52.4" cy="502.9" r="1.08"/><circle cx="55.5" cy="502.5" r="1.08"/><circle cx="45.7" cy="497.2" r="1.08"/><circle cx="66" cy="475.3" r="1.08"/><circle cx="64.5" cy="474.9" r="1.08"/><circle cx="67.5" cy="474.6" r="1.08"/><circle cx="63" cy="474.2" r="1.08"/><circle cx="68.9" cy="473.9" r="1.08"/><circle cx="61.5" cy="473.6" r="1.08"/><circle cx="70.3" cy="472.5" r="1.08"/><circle cx="71.8" cy="472.2" r="1.08"/><circle cx="65.5" cy="471.9" r="1.08"/><circle cx="60.3" cy="471.5" r="1.08"/><circle cx="67" cy="471.2" r="1.08"/><circle cx="64" cy="470.8" r="1.08"/><circle cx="68.4" cy="470.5" r="1.08"/><circle cx="62.6" cy="470.2" r="1.08"/><circle cx="72.9" cy="469.8" r="1.08"/><circle cx="59.1" cy="469.5" r="1.08"/><circle cx="69.8" cy="469.1" r="1.08"/><circle cx="66" cy="467.5" r="1.08"/><circle cx="64.5" cy="467.2" r="1.08"/><circle cx="67.5" cy="466.8" r="1.08"/><circle cx="63" cy="466.5" r="1.08"/><circle cx="68.9" cy="466.2" r="1.08"/><circle cx="61.5" cy="465.8" r="1.08"/><circle cx="70.4" cy="465.5" r="1.08"/><circle cx="60.1" cy="465.1" r="1.08"/><circle cx="71.9" cy="464.8" r="1.08"/><circle cx="73.4" cy="464.5" r="1.08"/><circle cx="66" cy="462.9" r="1.08"/><circle cx="64.5" cy="462.6" r="1.08"/><circle cx="67.5" cy="462.2" r="1.08"/><circle cx="63" cy="461.9" r="1.08"/><circle cx="68.9" cy="461.5" r="1.08"/><circle cx="61.5" cy="461.2" r="1.08"/><circle cx="70.4" cy="460.9" r="1.08"/><circle cx="60.1" cy="460.5" r="1.08"/><circle cx="71.9" cy="460.2" r="1.08"/><circle cx="58.6" cy="459.8" r="1.08"/><circle cx="65.5" cy="459.5" r="1.08"/><circle cx="66.9" cy="458" r="1.08"/><circle cx="64.2" cy="457.7" r="1.08"/><circle cx="68.3" cy="457.4" r="1.08"/><circle cx="62.7" cy="457" r="1.08"/><circle cx="69.8" cy="456.7" r="1.08"/><circle cx="66" cy="454.5" r="1.08"/><circle cx="66" cy="444.4" r="1.08"/><circle cx="86.3" cy="479.1" r="1.08"/><circle cx="84.8" cy="478.7" r="1.08"/><circle cx="86.9" cy="475.8" r="1.08"/><circle cx="85.4" cy="475.5" r="1.08"/><circle cx="88.4" cy="475.1" r="1.08"/><circle cx="83.9" cy="474.8" r="1.08"/><circle cx="89.5" cy="472.7" r="1.08"/><circle cx="86.3" cy="472.4" r="1.08"/><circle cx="83" cy="472" r="1.08"/><circle cx="84.8" cy="471.7" r="1.08"/><circle cx="87.7" cy="471.4" r="1.08"/><circle cx="90.8" cy="471" r="1.08"/><circle cx="81.6" cy="470.7" r="1.08"/><circle cx="92.3" cy="470.3" r="1.08"/><circle cx="80.1" cy="470" r="1.08"/><circle cx="93.8" cy="469.7" r="1.08"/><circle cx="86.3" cy="468.1" r="1.08"/><circle cx="84.8" cy="467.8" r="1.08"/><circle cx="87.7" cy="467.4" r="1.08"/><circle cx="83.3" cy="467.1" r="1.08"/><circle cx="89.2" cy="466.7" r="1.08"/><circle cx="90.7" cy="466.4" r="1.08"/><circle cx="81.9" cy="466.1" r="1.08"/><circle cx="80.4" cy="465.7" r="1.08"/><circle cx="92.1" cy="465.4" r="1.08"/><circle cx="86.3" cy="463.2" r="1.08"/><circle cx="84.8" cy="462.9" r="1.08"/><circle cx="87.7" cy="462.6" r="1.08"/><circle cx="83.3" cy="462.2" r="1.08"/><circle cx="89.2" cy="461.9" r="1.08"/><circle cx="81.8" cy="461.5" r="1.08"/><circle cx="90.7" cy="461.2" r="1.08"/><circle cx="80.3" cy="460.9" r="1.08"/><circle cx="86.3" cy="459.1" r="1.08"/><circle cx="84.8" cy="458.8" r="1.08"/><circle cx="87.7" cy="458.4" r="1.08"/><circle cx="83.3" cy="458.1" r="1.08"/><circle cx="89.2" cy="457.7" r="1.08"/><circle cx="81.8" cy="457.4" r="1.08"/><circle cx="86.3" cy="453.8" r="1.08"/><circle cx="84.8" cy="453.5" r="1.08"/><circle cx="86.3" cy="449.6" r="1.08"/><circle cx="84.8" cy="449.3" r="1.08"/><circle cx="86.3" cy="445.7" r="1.08"/><circle cx="106.5" cy="461.3" r="1.08"/><circle cx="105" cy="460.9" r="1.08"/><circle cx="108" cy="460.6" r="1.08"/><circle cx="106.5" cy="457.6" r="1.08"/><circle cx="105" cy="457.3" r="1.08"/><circle cx="108" cy="457" r="1.08"/><circle cx="103.6" cy="456.6" r="1.08"/><circle cx="109.5" cy="456.3" r="1.08"/><circle cx="102.1" cy="455.9" r="1.08"/><circle cx="111" cy="455.6" r="1.08"/><circle cx="100.6" cy="455.3" r="1.08"/><circle cx="112.4" cy="454.9" r="1.08"/><circle cx="99.2" cy="454.6" r="1.08"/><circle cx="106" cy="454.2" r="1.08"/><circle cx="113.9" cy="454.9" r="1.08"/><circle cx="97.7" cy="454.5" r="1.08"/><circle cx="115.4" cy="454.2" r="1.08"/><circle cx="104.6" cy="453.8" r="1.08"/><circle cx="107.5" cy="453.5" r="1.08"/><circle cx="103.1" cy="453.2" r="1.08"/><circle cx="109" cy="452.8" r="1.08"/><circle cx="101.6" cy="452.5" r="1.08"/><circle cx="110.5" cy="452.1" r="1.08"/><circle cx="100.1" cy="451.8" r="1.08"/><circle cx="111.9" cy="451.5" r="1.08"/><circle cx="113.4" cy="451.1" r="1.08"/><circle cx="106.5" cy="450.8" r="1.08"/><circle cx="107.8" cy="449" r="1.08"/><circle cx="105.3" cy="448.7" r="1.08"/><circle cx="103.8" cy="448.3" r="1.08"/><circle cx="109.3" cy="448" r="1.08"/><circle cx="102.3" cy="447.7" r="1.08"/><circle cx="110.8" cy="447.3" r="1.08"/><circle cx="100.9" cy="447" r="1.08"/><circle cx="106.6" cy="446.6" r="1.08"/><circle cx="112.2" cy="446.3" r="1.08"/><circle cx="99.4" cy="446" r="1.08"/><circle cx="105.8" cy="443.6" r="1.08"/><circle cx="107.3" cy="443.2" r="1.08"/><circle cx="108.8" cy="442.9" r="1.08"/><circle cx="104.3" cy="442.5" r="1.08"/><circle cx="106.5" cy="438.6" r="1.08"/><circle cx="105" cy="438.2" r="1.08"/><circle cx="107.5" cy="435.9" r="1.08"/><circle cx="126.8" cy="457.8" r="1.08"/><circle cx="125.3" cy="457.5" r="1.08"/><circle cx="128.3" cy="457.1" r="1.08"/><circle cx="126.8" cy="453.5" r="1.08"/><circle cx="125.3" cy="453.1" r="1.08"/><circle cx="128.3" cy="452.8" r="1.08"/><circle cx="123.9" cy="452.5" r="1.08"/><circle cx="129.8" cy="452.1" r="1.08"/><circle cx="122.4" cy="451.8" r="1.08"/><circle cx="131.2" cy="451.4" r="1.08"/><circle cx="120.9" cy="451.1" r="1.08"/><circle cx="132.7" cy="450.7" r="1.08"/><circle cx="119.4" cy="450.4" r="1.08"/><circle cx="126.3" cy="450.1" r="1.08"/><circle cx="124.9" cy="449.7" r="1.08"/><circle cx="127.8" cy="449.4" r="1.08"/><circle cx="123.4" cy="449" r="1.08"/><circle cx="129.3" cy="448.7" r="1.08"/><circle cx="121.9" cy="448.4" r="1.08"/><circle cx="130.8" cy="448" r="1.08"/><circle cx="120.4" cy="447.7" r="1.08"/><circle cx="133.2" cy="447.3" r="1.08"/><circle cx="118.9" cy="447" r="1.08"/><circle cx="125.9" cy="446.7" r="1.08"/><circle cx="134.6" cy="446.3" r="1.08"/><circle cx="127.3" cy="446" r="1.08"/><circle cx="124.4" cy="446.2" r="1.08"/><circle cx="117.5" cy="445.8" r="1.08"/><circle cx="122.9" cy="445.5" r="1.08"/><circle cx="128.8" cy="445.1" r="1.08"/><circle cx="131.4" cy="444.8" r="1.08"/><circle cx="121.5" cy="444.5" r="1.08"/><circle cx="120" cy="444.1" r="1.08"/><circle cx="132.9" cy="443.8" r="1.08"/><circle cx="135.5" cy="443.4" r="1.08"/><circle cx="126.4" cy="443.1" r="1.08"/><circle cx="124.9" cy="442.8" r="1.08"/><circle cx="129.8" cy="442.4" r="1.08"/><circle cx="127.9" cy="442.1" r="1.08"/><circle cx="125.9" cy="439.7" r="1.08"/><circle cx="128.9" cy="439.4" r="1.08"/><circle cx="124.4" cy="439.1" r="1.08"/><circle cx="127.3" cy="438.7" r="1.08"/><circle cx="126.3" cy="436.2" r="1.08"/><circle cx="126.8" cy="462" r="1.08"/></g><g fill="#c8620c"><circle cx="45.7" cy="497.2" r="1.15"/><circle cx="66" cy="444.4" r="1.15"/><circle cx="126.8" cy="462" r="1.15"/></g><rect x="31.5" y="433" width="109.5" height="83.4" fill="none" stroke="#4d4d4d" stroke-width="1.15"/><path d="M45.7 516.4v3.2M66 516.4v3.2M86.3 516.4v3.2M106.5 516.4v3.2M126.8 516.4v3.2M31.5 505.6h-3.2M31.5 486.9h-3.2M31.5 467.6h-3.2M31.5 448.6h-3.2" stroke="#3a3a3a" stroke-width="1" fill="none"/><text transform="translate(45.7 529.7) scale(0.1)" text-anchor="middle" font-family="Liberation Sans" font-weight="normal" font-size="64" fill="#2a2a2a" stroke="#2a2a2a" stroke-width="1.8">31</text><text transform="translate(66 529.7) scale(0.1)" text-anchor="middle" font-family="Liberation Sans" font-weight="normal" font-size="64" fill="#2a2a2a" stroke="#2a2a2a" stroke-width="1.8">39</text><text transform="translate(86.3 529.7) scale(0.1)" text-anchor="middle" font-family="Liberation Sans" font-weight="normal" font-size="64" fill="#2a2a2a" stroke="#2a2a2a" stroke-width="1.8">42</text><text transform="translate(106.5 529.7) scale(0.1)" text-anchor="middle" font-family="Liberation Sans" font-weight="normal" font-size="64" fill="#2a2a2a" stroke="#2a2a2a" stroke-width="1.8">46</text><text transform="translate(126.8 529.7) scale(0.1)" text-anchor="middle" font-family="Liberation Sans" font-weight="normal" font-size="64" fill="#2a2a2a" stroke="#2a2a2a" stroke-width="1.8">51</text><text transform="translate(23.2 505.6) rotate(-90) scale(0.1)" text-anchor="middle" font-family="Liberation Sans" font-weight="normal" font-size="64" fill="#2a2a2a" stroke="#2a2a2a" stroke-width="1.8">0.4</text><text transform="translate(23.2 486.9) rotate(-90) scale(0.1)" text-anchor="middle" font-family="Liberation Sans" font-weight="normal" font-size="64" fill="#2a2a2a" stroke="#2a2a2a" stroke-width="1.8">0.5</text><text transform="translate(23.2 467.6) rotate(-90) scale(0.1)" text-anchor="middle" font-family="Liberation Sans" font-weight="normal" font-size="64" fill="#2a2a2a" stroke="#2a2a2a" stroke-width="1.8">0.6</text><text transform="translate(23.2 448.6) rotate(-90) scale(0.1)" text-anchor="middle" font-family="Liberation Sans" font-weight="normal" font-size="64" fill="#2a2a2a" stroke="#2a2a2a" stroke-width="1.8">0.7</text><text transform="translate(94 544.4) scale(0.1)" text-anchor="middle" font-family="Liberation Serif" font-weight="bold" font-size="82.5" fill="#1a1a1a" stroke="#1a1a1a" stroke-width="0.4">Days after sowing</text><text transform="translate(9.1 473.9) rotate(-90) scale(0.0976 0.1)" text-anchor="middle" font-family="Liberation Serif" font-weight="bold" font-size="69" fill="#1a1a1a" stroke="#1a1a1a" stroke-width="2.2">SAVI</text></g>
<g><text transform="translate(185.2 424.9) scale(0.1)" text-anchor="start" font-family="Liberation Sans" font-weight="bold" font-size="80" fill="#1a1a1a" stroke="#1a1a1a" stroke-width="1.2">(k)</text><path d="M199.7 496.7V488.2M199.7 504.6V513.1" stroke="#555" stroke-width="0.8" stroke-dasharray="1.6 1.6" fill="none"/><path d="M195.6 488.2H203.8M195.6 513.1H203.8" stroke="#666" stroke-width="0.9" fill="none"/><rect x="191.6" y="496.7" width="16.2" height="7.9" fill="#adf26c" stroke="#333" stroke-width="0.9"/><path d="M191.6 500H207.8" stroke="#000" stroke-width="2.2"/><path d="M220 467.3V457.9M220 476.3V484" stroke="#555" stroke-width="0.8" stroke-dasharray="1.6 1.6" fill="none"/><path d="M215.9 457.9H224.1M215.9 484H224.1" stroke="#666" stroke-width="0.9" fill="none"/><rect x="211.9" y="467.3" width="16.2" height="9" fill="#9ce45a" stroke="#333" stroke-width="0.9"/><path d="M211.9 470.9H228.1" stroke="#000" stroke-width="2.2"/><path d="M240.3 456.1V444.9M240.3 465.3V475.5" stroke="#555" stroke-width="0.8" stroke-dasharray="1.6 1.6" fill="none"/><path d="M236.2 444.9H244.4M236.2 475.5H244.4" stroke="#666" stroke-width="0.9" fill="none"/><rect x="232.2" y="456.1" width="16.2" height="9.2" fill="#90d848" stroke="#333" stroke-width="0.9"/><path d="M232.2 460.7H248.4" stroke="#000" stroke-width="2.2"/><path d="M260.5 465.3V460.7M260.5 475.1V486.1" stroke="#555" stroke-width="0.8" stroke-dasharray="1.6 1.6" fill="none"/><path d="M256.4 460.7H264.6M256.4 486.1H264.6" stroke="#666" stroke-width="0.9" fill="none"/><rect x="252.4" y="465.3" width="16.2" height="9.8" fill="#629a30" stroke="#333" stroke-width="0.9"/><path d="M252.4 470.2H268.6" stroke="#000" stroke-width="2.2"/><path d="M280.8 447.3V442.4M280.8 463.2V468.1" stroke="#555" stroke-width="0.8" stroke-dasharray="1.6 1.6" fill="none"/><path d="M276.7 442.4H284.9M276.7 468.1H284.9" stroke="#666" stroke-width="0.9" fill="none"/><rect x="272.7" y="447.3" width="16.2" height="15.9" fill="#4f7032" stroke="#333" stroke-width="0.9"/><path d="M272.7 455H288.9" stroke="#000" stroke-width="2.2"/><g fill="#f27e1a"><circle cx="199.7" cy="511.4" r="1.08"/><circle cx="198.2" cy="511.1" r="1.08"/><circle cx="201.2" cy="510.7" r="1.08"/><circle cx="196.7" cy="510.4" r="1.08"/><circle cx="199.7" cy="506.9" r="1.08"/><circle cx="198.2" cy="506.6" r="1.08"/><circle cx="201.2" cy="506.2" r="1.08"/><circle cx="196.7" cy="505.9" r="1.08"/><circle cx="202.6" cy="505.6" r="1.08"/><circle cx="195.3" cy="505.2" r="1.08"/><circle cx="204.1" cy="504.9" r="1.08"/><circle cx="193.8" cy="504.5" r="1.08"/><circle cx="199.1" cy="503.6" r="1.08"/><circle cx="205.5" cy="503.3" r="1.08"/><circle cx="200.6" cy="502.9" r="1.08"/><circle cx="197.6" cy="502.6" r="1.08"/><circle cx="202" cy="502.3" r="1.08"/><circle cx="196.2" cy="501.9" r="1.08"/><circle cx="203.5" cy="501.6" r="1.08"/><circle cx="194.7" cy="501.2" r="1.08"/><circle cx="193.2" cy="500.9" r="1.08"/><circle cx="206.4" cy="500.6" r="1.08"/><circle cx="191.7" cy="500.2" r="1.08"/><circle cx="199.7" cy="499.8" r="1.08"/><circle cx="204.7" cy="499.5" r="1.08"/><circle cx="198.2" cy="499.1" r="1.08"/><circle cx="201.1" cy="498.8" r="1.08"/><circle cx="202.6" cy="498.5" r="1.08"/><circle cx="196.8" cy="498.1" r="1.08"/><circle cx="195.3" cy="497.8" r="1.08"/><circle cx="193.8" cy="497.4" r="1.08"/><circle cx="205.8" cy="497.1" r="1.08"/><circle cx="192.3" cy="496.8" r="1.08"/><circle cx="203.9" cy="496.4" r="1.08"/><circle cx="199.7" cy="496.1" r="1.08"/><circle cx="207.2" cy="495.7" r="1.08"/><circle cx="198.2" cy="495.4" r="1.08"/><circle cx="200.9" cy="493.9" r="1.08"/><circle cx="202.4" cy="493.6" r="1.08"/><circle cx="197" cy="493.2" r="1.08"/><circle cx="195.5" cy="492.9" r="1.08"/><circle cx="199.4" cy="492.6" r="1.08"/><circle cx="199.7" cy="489.1" r="1.08"/><circle cx="198.2" cy="488.7" r="1.08"/><circle cx="220" cy="484" r="1.08"/><circle cx="218.9" cy="481.4" r="1.08"/><circle cx="220.8" cy="481.1" r="1.08"/><circle cx="222.3" cy="480.7" r="1.08"/><circle cx="217.5" cy="480.4" r="1.08"/><circle cx="220" cy="478" r="1.08"/><circle cx="221.5" cy="477.7" r="1.08"/><circle cx="218.5" cy="477.4" r="1.08"/><circle cx="222.9" cy="477" r="1.08"/><circle cx="217" cy="476.7" r="1.08"/><circle cx="224.4" cy="476.3" r="1.08"/><circle cx="215.6" cy="476" r="1.08"/><circle cx="225.9" cy="475.7" r="1.08"/><circle cx="214.1" cy="475.3" r="1.08"/><circle cx="212.6" cy="475" r="1.08"/><circle cx="220" cy="473.6" r="1.08"/><circle cx="218.5" cy="473.2" r="1.08"/><circle cx="221.5" cy="472.9" r="1.08"/><circle cx="217" cy="472.6" r="1.08"/><circle cx="222.9" cy="472.2" r="1.08"/><circle cx="224.4" cy="471.9" r="1.08"/><circle cx="215.6" cy="471.5" r="1.08"/><circle cx="214.1" cy="471.2" r="1.08"/><circle cx="225.9" cy="470.9" r="1.08"/><circle cx="219.5" cy="470.2" r="1.08"/><circle cx="218" cy="469.8" r="1.08"/><circle cx="221" cy="469.5" r="1.08"/><circle cx="212.9" cy="469.1" r="1.08"/><circle cx="222.5" cy="468.8" r="1.08"/><circle cx="216.6" cy="468.5" r="1.08"/><circle cx="223.9" cy="468.1" r="1.08"/><circle cx="215.1" cy="467.8" r="1.08"/><circle cx="226.3" cy="467.4" r="1.08"/><circle cx="227.8" cy="467.1" r="1.08"/><circle cx="219" cy="466.8" r="1.08"/><circle cx="211.9" cy="466.4" r="1.08"/><circle cx="220.5" cy="466.1" r="1.08"/><circle cx="221.7" cy="464" r="1.08"/><circle cx="218.2" cy="463.7" r="1.08"/><circle cx="223.2" cy="463.4" r="1.08"/><circle cx="219.7" cy="463" r="1.08"/><circle cx="216.8" cy="462.7" r="1.08"/><circle cx="220" cy="458.9" r="1.08"/><circle cx="218.5" cy="458.5" r="1.08"/><circle cx="240.3" cy="474.8" r="1.08"/><circle cx="238.8" cy="474.4" r="1.08"/><circle cx="240.3" cy="470.2" r="1.08"/><circle cx="238.8" cy="469.8" r="1.08"/><circle cx="241.7" cy="469.5" r="1.08"/><circle cx="243.2" cy="469.1" r="1.08"/><circle cx="237.3" cy="468.8" r="1.08"/><circle cx="240.3" cy="466.4" r="1.08"/><circle cx="238.8" cy="466" r="1.08"/><circle cx="241.7" cy="465.7" r="1.08"/><circle cx="243.2" cy="465.3" r="1.08"/><circle cx="237.3" cy="465" r="1.08"/><circle cx="235.8" cy="464.7" r="1.08"/><circle cx="244.7" cy="464.3" r="1.08"/><circle cx="234.4" cy="464" r="1.08"/><circle cx="246.1" cy="463.6" r="1.08"/><circle cx="232.9" cy="463.3" r="1.08"/><circle cx="240.3" cy="462.2" r="1.08"/><circle cx="238.8" cy="461.9" r="1.08"/><circle cx="241.7" cy="461.5" r="1.08"/><circle cx="237.3" cy="461.2" r="1.08"/><circle cx="243.2" cy="460.9" r="1.08"/><circle cx="235.8" cy="460.5" r="1.08"/><circle cx="244.7" cy="460.2" r="1.08"/><circle cx="234.3" cy="459.8" r="1.08"/><circle cx="246.2" cy="459.5" r="1.08"/><circle cx="232.9" cy="459.2" r="1.08"/><circle cx="239.8" cy="458.8" r="1.08"/><circle cx="241.2" cy="457.8" r="1.08"/><circle cx="238.4" cy="457.4" r="1.08"/><circle cx="242.7" cy="457.1" r="1.08"/><circle cx="236.9" cy="456.7" r="1.08"/><circle cx="244.1" cy="456.4" r="1.08"/><circle cx="235.4" cy="456.1" r="1.08"/><circle cx="245.6" cy="455.7" r="1.08"/><circle cx="234" cy="455.4" r="1.08"/><circle cx="240.2" cy="455" r="1.08"/><circle cx="241.3" cy="452.7" r="1.08"/><circle cx="239.2" cy="452.3" r="1.08"/><circle cx="237.7" cy="452" r="1.08"/><circle cx="242.8" cy="451.6" r="1.08"/><circle cx="240.3" cy="447.2" r="1.08"/><circle cx="238.8" cy="446.8" r="1.08"/><circle cx="241.7" cy="446.5" r="1.08"/><circle cx="240.3" cy="435.7" r="1.08"/><circle cx="260.5" cy="484.5" r="1.08"/><circle cx="259" cy="484.2" r="1.08"/><circle cx="262" cy="483.8" r="1.08"/><circle cx="260.5" cy="479.7" r="1.08"/><circle cx="259" cy="479.4" r="1.08"/><circle cx="262" cy="479" r="1.08"/><circle cx="258.1" cy="476.6" r="1.08"/><circle cx="260.1" cy="476.3" r="1.08"/><circle cx="262.8" cy="475.9" r="1.08"/><circle cx="264.3" cy="475.6" r="1.08"/><circle cx="256.7" cy="475.3" r="1.08"/><circle cx="265.8" cy="474.9" r="1.08"/><circle cx="261.4" cy="474.6" r="1.08"/><circle cx="255.2" cy="474.2" r="1.08"/><circle cx="267.2" cy="473.9" r="1.08"/><circle cx="260.1" cy="472.7" r="1.08"/><circle cx="258.6" cy="472.3" r="1.08"/><circle cx="262.4" cy="472" r="1.08"/><circle cx="257.2" cy="471.6" r="1.08"/><circle cx="263.9" cy="471.3" r="1.08"/><circle cx="265.4" cy="471" r="1.08"/><circle cx="255.7" cy="470.6" r="1.08"/><circle cx="254.2" cy="470.3" r="1.08"/><circle cx="261.1" cy="469.9" r="1.08"/><circle cx="266.8" cy="469.6" r="1.08"/><circle cx="259.8" cy="468.2" r="1.08"/><circle cx="262.4" cy="467.9" r="1.08"/><circle cx="258.3" cy="467.6" r="1.08"/><circle cx="263.8" cy="467.2" r="1.08"/><circle cx="256.8" cy="466.9" r="1.08"/><circle cx="265.3" cy="466.5" r="1.08"/><circle cx="261" cy="466.2" r="1.08"/><circle cx="255.4" cy="465.9" r="1.08"/><circle cx="266.7" cy="465.5" r="1.08"/><circle cx="253.9" cy="465.2" r="1.08"/><circle cx="268.2" cy="464.8" r="1.08"/><circle cx="259.7" cy="464.5" r="1.08"/><circle cx="262.2" cy="463.8" r="1.08"/><circle cx="258.3" cy="463.5" r="1.08"/><circle cx="263.6" cy="463.2" r="1.08"/><circle cx="256.8" cy="462.8" r="1.08"/><circle cx="265.1" cy="462.5" r="1.08"/><circle cx="260.8" cy="462.1" r="1.08"/><circle cx="255.4" cy="461.8" r="1.08"/><circle cx="280.8" cy="467.2" r="1.08"/><circle cx="279.3" cy="466.9" r="1.08"/><circle cx="282.3" cy="466.5" r="1.08"/><circle cx="283.8" cy="466.2" r="1.08"/><circle cx="277.9" cy="465.8" r="1.08"/><circle cx="285.1" cy="464.5" r="1.08"/><circle cx="276.6" cy="464.2" r="1.08"/><circle cx="280.3" cy="463.9" r="1.08"/><circle cx="286.6" cy="463.5" r="1.08"/><circle cx="281.7" cy="463.2" r="1.08"/><circle cx="278.8" cy="462.8" r="1.08"/><circle cx="283.2" cy="462.5" r="1.08"/><circle cx="275.3" cy="462.2" r="1.08"/><circle cx="273.8" cy="461.8" r="1.08"/><circle cx="287.8" cy="461.5" r="1.08"/><circle cx="280.8" cy="458.9" r="1.08"/><circle cx="279.3" cy="458.6" r="1.08"/><circle cx="282.3" cy="458.2" r="1.08"/><circle cx="277.9" cy="457.9" r="1.08"/><circle cx="283.8" cy="457.5" r="1.08"/><circle cx="276.4" cy="457.2" r="1.08"/><circle cx="280.8" cy="454.5" r="1.08"/><circle cx="279.3" cy="454.1" r="1.08"/><circle cx="282.3" cy="453.8" r="1.08"/><circle cx="277.9" cy="453.4" r="1.08"/><circle cx="283.8" cy="453.1" r="1.08"/><circle cx="276.4" cy="452.8" r="1.08"/><circle cx="280.8" cy="450" r="1.08"/><circle cx="279.3" cy="449.7" r="1.08"/><circle cx="282.3" cy="449.3" r="1.08"/><circle cx="277.9" cy="449" r="1.08"/><circle cx="283.8" cy="448.7" r="1.08"/><circle cx="276.4" cy="448.3" r="1.08"/><circle cx="285.2" cy="448" r="1.08"/><circle cx="274.9" cy="447.6" r="1.08"/><circle cx="280.3" cy="446.6" r="1.08"/><circle cx="286.6" cy="446.3" r="1.08"/><circle cx="281.8" cy="446" r="1.08"/><circle cx="278.9" cy="445.6" r="1.08"/><circle cx="283.3" cy="445.3" r="1.08"/><circle cx="277.4" cy="444.9" r="1.08"/><circle cx="284.7" cy="444.6" r="1.08"/><circle cx="275.9" cy="444.3" r="1.08"/><circle cx="280.8" cy="442.4" r="1.08"/></g><g fill="#c8620c"><circle cx="240.3" cy="435.7" r="1.15"/></g><rect x="185.5" y="433" width="109.5" height="83.4" fill="none" stroke="#4d4d4d" stroke-width="1.15"/><path d="M199.7 516.4v3.2M220 516.4v3.2M240.3 516.4v3.2M260.5 516.4v3.2M280.8 516.4v3.2M185.5 500.7h-3.2M185.5 484.8h-3.2M185.5 469.3h-3.2M185.5 453.2h-3.2M185.5 436.8h-3.2" stroke="#3a3a3a" stroke-width="1" fill="none"/><text transform="translate(199.7 529.7) scale(0.1)" text-anchor="middle" font-family="Liberation Sans" font-weight="normal" font-size="64" fill="#2a2a2a" stroke="#2a2a2a" stroke-width="1.8">31</text><text transform="translate(220 529.7) scale(0.1)" text-anchor="middle" font-family="Liberation Sans" font-weight="normal" font-size="64" fill="#2a2a2a" stroke="#2a2a2a" stroke-width="1.8">39</text><text transform="translate(240.3 529.7) scale(0.1)" text-anchor="middle" font-family="Liberation Sans" font-weight="normal" font-size="64" fill="#2a2a2a" stroke="#2a2a2a" stroke-width="1.8">42</text><text transform="translate(260.5 529.7) scale(0.1)" text-anchor="middle" font-family="Liberation Sans" font-weight="normal" font-size="64" fill="#2a2a2a" stroke="#2a2a2a" stroke-width="1.8">46</text><text transform="translate(280.8 529.7) scale(0.1)" text-anchor="middle" font-family="Liberation Sans" font-weight="normal" font-size="64" fill="#2a2a2a" stroke="#2a2a2a" stroke-width="1.8">51</text><text transform="translate(177.5 500.7) rotate(-90) scale(0.1)" text-anchor="middle" font-family="Liberation Sans" font-weight="normal" font-size="64" fill="#2a2a2a" stroke="#2a2a2a" stroke-width="1.8">0.30</text><text transform="translate(177.5 469.3) rotate(-90) scale(0.1)" text-anchor="middle" font-family="Liberation Sans" font-weight="normal" font-size="64" fill="#2a2a2a" stroke="#2a2a2a" stroke-width="1.8">0.40</text><text transform="translate(177.5 436.8) rotate(-90) scale(0.1)" text-anchor="middle" font-family="Liberation Sans" font-weight="normal" font-size="64" fill="#2a2a2a" stroke="#2a2a2a" stroke-width="1.8">0.50</text><text transform="translate(248 544.4) scale(0.1)" text-anchor="middle" font-family="Liberation Serif" font-weight="bold" font-size="82.5" fill="#1a1a1a" stroke="#1a1a1a" stroke-width="0.4">Days after sowing</text><text transform="translate(162.9 474.6) rotate(-90) scale(0.0880 0.1)" text-anchor="middle" font-family="Liberation Serif" font-weight="bold" font-size="69" fill="#1a1a1a" stroke="#1a1a1a" stroke-width="2.2">CCCI</text></g>
</svg></div></body></html>
